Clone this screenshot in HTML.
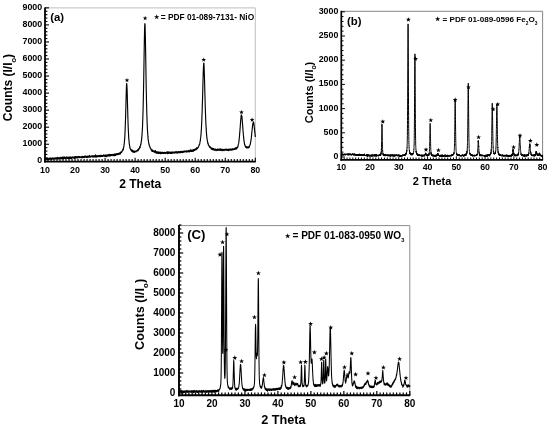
<!DOCTYPE html>
<html><head><meta charset="utf-8"><title>XRD patterns</title>
<style>
html,body{margin:0;padding:0;background:#fff;}
svg{display:block;}
svg text{font-family:"Liberation Sans",Arial,sans-serif;font-weight:bold;fill:#000;}
</style></head><body>
<svg width="550" height="427" viewBox="0 0 550 427">
<rect width="550" height="427" fill="#fff"/>
<line x1="45.00" y1="7.90" x2="255.30" y2="7.90" stroke="#bdbdbd" stroke-width="1"/>
<line x1="255.30" y1="7.90" x2="255.30" y2="161.70" stroke="#bdbdbd" stroke-width="1"/>
<polyline points="45.00,158.29 45.08,158.79 45.15,158.92 45.23,159.65 45.30,159.05 45.38,159.08 45.45,158.97 45.53,159.17 45.60,158.95 45.68,159.11 45.75,159.42 45.83,158.59 45.90,158.58 45.98,158.27 46.05,158.89 46.13,159.06 46.20,159.10 46.28,159.48 46.35,158.52 46.43,159.30 46.50,159.33 46.58,158.96 46.65,158.32 46.73,158.78 46.80,159.25 46.88,159.13 46.95,158.63 47.03,158.92 47.10,159.14 47.18,158.94 47.25,158.57 47.33,158.10 47.40,159.30 47.48,159.07 47.55,159.13 47.63,159.73 47.70,159.17 47.78,159.20 47.85,158.39 47.93,158.86 48.00,159.42 48.08,158.56 48.15,158.93 48.23,159.45 48.30,159.02 48.38,159.01 48.45,159.11 48.53,158.77 48.61,159.62 48.68,158.87 48.76,158.39 48.83,158.44 48.91,158.35 48.98,158.34 49.06,158.20 49.13,159.17 49.21,158.43 49.28,159.44 49.36,158.96 49.43,159.45 49.51,158.34 49.58,158.23 49.66,158.80 49.73,158.05 49.81,158.97 49.88,158.65 49.96,158.65 50.03,159.10 50.11,158.53 50.18,157.97 50.26,159.08 50.33,158.35 50.41,158.74 50.48,158.02 50.56,158.49 50.63,158.42 50.71,158.43 50.78,158.57 50.86,159.18 50.93,158.13 51.01,159.17 51.08,158.56 51.16,158.41 51.23,158.96 51.31,158.58 51.38,158.20 51.46,158.64 51.53,158.96 51.61,159.72 51.68,158.98 51.76,158.84 51.83,158.80 51.91,158.97 51.98,158.46 52.06,158.81 52.14,158.64 52.21,158.34 52.29,158.91 52.36,158.70 52.44,157.77 52.51,158.25 52.59,159.06 52.66,158.60 52.74,158.35 52.81,158.10 52.89,158.50 52.96,158.75 53.04,158.82 53.11,158.30 53.19,158.42 53.26,158.73 53.34,158.60 53.41,158.69 53.49,158.25 53.56,158.78 53.64,158.34 53.71,158.19 53.79,158.33 53.86,158.82 53.94,158.00 54.01,158.75 54.09,158.33 54.16,158.77 54.24,159.14 54.31,158.40 54.39,158.37 54.46,158.50 54.54,158.37 54.61,158.71 54.69,158.74 54.76,158.52 54.84,157.74 54.91,158.15 54.99,158.64 55.06,158.23 55.14,158.62 55.21,158.61 55.29,158.11 55.36,158.63 55.44,159.05 55.52,158.76 55.59,158.38 55.67,158.37 55.74,157.94 55.82,158.67 55.89,158.13 55.97,158.24 56.04,158.45 56.12,158.08 56.19,158.20 56.27,158.71 56.34,157.98 56.42,158.83 56.49,158.35 56.57,158.37 56.64,158.20 56.72,158.63 56.79,158.37 56.87,158.40 56.94,157.97 57.02,158.64 57.09,158.31 57.17,158.43 57.24,158.82 57.32,157.32 57.39,158.35 57.47,158.88 57.54,157.79 57.62,158.71 57.69,158.17 57.77,157.98 57.84,158.54 57.92,158.46 57.99,158.50 58.07,158.34 58.14,158.89 58.22,158.74 58.29,158.33 58.37,157.88 58.44,158.03 58.52,157.62 58.59,158.00 58.67,158.45 58.74,158.30 58.82,159.01 58.89,158.61 58.97,158.63 59.05,158.14 59.12,157.99 59.20,158.44 59.27,158.45 59.35,158.80 59.42,158.27 59.50,158.12 59.57,158.04 59.65,158.50 59.72,157.46 59.80,157.75 59.87,158.23 59.95,158.39 60.02,158.31 60.10,158.13 60.17,158.19 60.25,158.00 60.32,157.88 60.40,157.66 60.47,157.73 60.55,158.20 60.62,158.01 60.70,158.30 60.77,158.37 60.85,157.43 60.92,158.31 61.00,157.39 61.07,158.26 61.15,158.04 61.22,157.72 61.30,158.11 61.37,157.97 61.45,158.20 61.52,158.29 61.60,158.17 61.67,158.35 61.75,157.49 61.82,158.16 61.90,157.44 61.97,159.09 62.05,158.08 62.12,157.87 62.20,158.19 62.27,157.66 62.35,157.83 62.42,158.17 62.50,157.90 62.58,157.00 62.65,157.96 62.73,157.94 62.80,158.21 62.88,157.99 62.95,158.52 63.03,158.11 63.10,157.11 63.18,157.62 63.25,157.78 63.33,157.60 63.40,157.31 63.48,157.79 63.55,157.23 63.63,157.60 63.70,157.94 63.78,157.35 63.85,158.87 63.93,158.20 64.00,157.88 64.08,158.32 64.15,158.03 64.23,158.21 64.30,158.21 64.38,156.95 64.45,157.72 64.53,157.97 64.60,157.46 64.68,158.04 64.75,157.61 64.83,157.81 64.90,157.32 64.98,158.46 65.05,157.64 65.13,157.88 65.20,158.35 65.28,157.52 65.35,158.24 65.43,157.30 65.50,157.71 65.58,157.64 65.65,157.87 65.73,157.55 65.80,158.59 65.88,157.86 65.95,158.12 66.03,157.77 66.11,157.89 66.18,157.64 66.26,158.18 66.33,157.17 66.41,156.99 66.48,157.93 66.56,157.85 66.63,157.74 66.71,157.37 66.78,157.13 66.86,158.29 66.93,158.06 67.01,158.22 67.08,158.24 67.16,158.43 67.23,157.68 67.31,158.24 67.38,157.24 67.46,157.46 67.53,158.18 67.61,158.18 67.68,158.02 67.76,157.26 67.83,158.10 67.91,158.34 67.98,157.79 68.06,157.63 68.13,158.01 68.21,157.16 68.28,157.67 68.36,157.59 68.43,158.07 68.51,157.76 68.58,157.80 68.66,158.59 68.73,157.63 68.81,158.40 68.88,157.74 68.96,158.28 69.03,156.96 69.11,157.59 69.18,157.39 69.26,157.36 69.33,158.20 69.41,158.56 69.48,157.82 69.56,157.36 69.64,157.65 69.71,157.39 69.79,157.33 69.86,158.24 69.94,157.56 70.01,156.93 70.09,157.88 70.16,158.42 70.24,157.74 70.31,157.83 70.39,157.49 70.46,157.98 70.54,157.61 70.61,158.47 70.69,157.31 70.76,157.03 70.84,157.14 70.91,158.19 70.99,157.50 71.06,158.73 71.14,157.50 71.21,157.63 71.29,157.98 71.36,157.47 71.44,157.54 71.51,157.24 71.59,157.54 71.66,157.49 71.74,158.31 71.81,158.01 71.89,157.75 71.96,157.45 72.04,157.56 72.11,157.00 72.19,157.88 72.26,157.64 72.34,157.45 72.41,157.63 72.49,157.35 72.56,157.75 72.64,157.00 72.71,157.65 72.79,157.10 72.86,157.53 72.94,156.96 73.01,158.04 73.09,157.31 73.17,157.67 73.24,157.41 73.32,157.05 73.39,157.92 73.47,157.98 73.54,157.86 73.62,157.38 73.69,158.18 73.77,157.44 73.84,157.95 73.92,157.89 73.99,157.60 74.07,157.31 74.14,157.69 74.22,157.63 74.29,157.46 74.37,157.54 74.44,158.44 74.52,157.59 74.59,157.40 74.67,157.01 74.74,156.65 74.82,157.17 74.89,157.38 74.97,157.77 75.04,157.37 75.12,157.11 75.19,156.92 75.27,157.72 75.34,157.30 75.42,157.08 75.49,156.68 75.57,157.28 75.64,157.58 75.72,157.63 75.79,157.50 75.87,157.60 75.94,157.05 76.02,156.95 76.09,157.08 76.17,156.90 76.24,157.51 76.32,157.19 76.39,157.48 76.47,157.31 76.55,156.87 76.62,157.33 76.70,158.02 76.77,157.41 76.85,157.58 76.92,157.87 77.00,157.60 77.07,156.94 77.15,156.66 77.22,157.47 77.30,156.91 77.37,156.84 77.45,157.71 77.52,157.29 77.60,157.29 77.67,157.20 77.75,157.86 77.82,157.39 77.90,156.86 77.97,156.78 78.05,156.56 78.12,157.37 78.20,156.54 78.27,156.98 78.35,157.74 78.42,156.94 78.50,157.35 78.57,157.02 78.65,157.25 78.72,156.76 78.80,157.11 78.87,157.31 78.95,156.83 79.02,157.10 79.10,157.34 79.17,156.71 79.25,157.33 79.32,157.42 79.40,157.38 79.47,157.72 79.55,157.37 79.62,156.46 79.70,157.50 79.77,157.15 79.85,157.56 79.92,157.37 80.00,156.57 80.08,156.80 80.15,157.36 80.23,157.13 80.30,157.43 80.38,157.41 80.45,157.46 80.53,157.45 80.60,156.99 80.68,156.88 80.75,156.92 80.83,157.16 80.90,157.60 80.98,157.11 81.05,157.43 81.13,156.75 81.20,156.87 81.28,156.79 81.35,157.20 81.43,157.74 81.50,156.70 81.58,156.60 81.65,157.61 81.73,157.00 81.80,156.60 81.88,157.44 81.95,156.37 82.03,157.16 82.10,157.43 82.18,156.51 82.25,156.91 82.33,157.26 82.40,156.68 82.48,157.74 82.55,156.32 82.63,157.31 82.70,156.89 82.78,157.14 82.85,156.82 82.93,156.65 83.00,157.29 83.08,156.68 83.15,157.08 83.23,157.22 83.30,157.05 83.38,157.34 83.45,157.25 83.53,156.59 83.61,157.00 83.68,156.51 83.76,156.78 83.83,157.32 83.91,157.64 83.98,157.18 84.06,156.82 84.13,156.91 84.21,157.23 84.28,156.53 84.36,157.56 84.43,157.37 84.51,156.85 84.58,156.07 84.66,156.73 84.73,157.26 84.81,156.66 84.88,156.62 84.96,156.52 85.03,157.02 85.11,157.16 85.18,156.82 85.26,156.70 85.33,156.25 85.41,156.06 85.48,157.12 85.56,157.04 85.63,156.86 85.71,156.93 85.78,156.65 85.86,156.64 85.93,156.72 86.01,156.31 86.08,156.87 86.16,157.20 86.23,157.39 86.31,157.18 86.38,157.19 86.46,157.50 86.53,156.54 86.61,156.71 86.68,156.94 86.76,157.11 86.83,157.36 86.91,157.11 86.98,156.07 87.06,157.59 87.14,156.70 87.21,156.47 87.29,156.69 87.36,156.86 87.44,156.45 87.51,157.15 87.59,156.52 87.66,156.19 87.74,157.11 87.81,157.02 87.89,156.66 87.96,156.34 88.04,156.20 88.11,156.44 88.19,156.95 88.26,157.11 88.34,156.60 88.41,156.53 88.49,157.09 88.56,156.65 88.64,156.55 88.71,156.27 88.79,157.03 88.86,156.45 88.94,157.09 89.01,156.81 89.09,156.68 89.16,156.07 89.24,155.39 89.31,156.54 89.39,156.44 89.46,156.25 89.54,157.13 89.61,156.33 89.69,157.08 89.76,156.00 89.84,156.06 89.91,156.41 89.99,156.90 90.06,155.97 90.14,156.49 90.21,156.54 90.29,156.36 90.36,157.22 90.44,156.41 90.51,156.19 90.59,156.43 90.67,156.50 90.74,156.91 90.82,156.31 90.89,156.47 90.97,156.54 91.04,156.75 91.12,156.21 91.19,156.06 91.27,156.38 91.34,156.18 91.42,156.02 91.49,155.92 91.57,156.42 91.64,156.58 91.72,156.65 91.79,156.49 91.87,156.28 91.94,156.13 92.02,156.64 92.09,156.42 92.17,156.85 92.24,155.99 92.32,156.61 92.39,156.33 92.47,156.73 92.54,156.56 92.62,156.70 92.69,155.80 92.77,156.30 92.84,156.50 92.92,156.79 92.99,156.65 93.07,156.21 93.14,155.79 93.22,156.95 93.29,156.75 93.37,156.47 93.44,156.64 93.52,157.02 93.59,156.38 93.67,156.10 93.74,156.97 93.82,156.30 93.89,156.01 93.97,156.00 94.04,156.52 94.12,155.50 94.20,156.15 94.27,156.66 94.35,155.98 94.42,156.76 94.50,156.00 94.57,156.81 94.65,156.03 94.72,156.54 94.80,155.90 94.87,156.04 94.95,156.14 95.02,156.29 95.10,155.90 95.17,156.98 95.25,156.13 95.32,156.14 95.40,156.08 95.47,155.97 95.55,154.89 95.62,156.23 95.70,155.97 95.77,156.21 95.85,155.67 95.92,157.01 96.00,155.61 96.07,156.50 96.15,157.09 96.22,156.64 96.30,156.30 96.37,156.16 96.45,156.24 96.52,155.91 96.60,156.23 96.67,156.23 96.75,157.01 96.82,156.02 96.90,155.82 96.97,156.35 97.05,156.89 97.12,156.68 97.20,155.55 97.27,156.40 97.35,156.42 97.42,156.47 97.50,155.91 97.58,156.38 97.65,156.48 97.73,156.71 97.80,156.18 97.88,155.76 97.95,156.19 98.03,155.80 98.10,156.06 98.18,156.06 98.25,156.05 98.33,156.10 98.40,155.72 98.48,155.92 98.55,156.31 98.63,156.04 98.70,156.12 98.78,155.90 98.85,156.01 98.93,155.92 99.00,156.62 99.08,155.92 99.15,155.57 99.23,156.56 99.30,155.45 99.38,155.93 99.45,156.12 99.53,156.71 99.60,155.62 99.68,156.39 99.75,156.21 99.83,155.81 99.90,156.40 99.98,156.38 100.05,156.44 100.13,156.04 100.20,155.77 100.28,155.84 100.35,155.83 100.43,156.11 100.50,155.92 100.58,156.23 100.65,155.22 100.73,155.89 100.80,156.69 100.88,156.35 100.95,155.35 101.03,156.45 101.11,156.10 101.18,155.78 101.26,156.34 101.33,155.52 101.41,155.29 101.48,156.22 101.56,155.48 101.63,156.24 101.71,156.27 101.78,155.80 101.86,155.80 101.93,156.11 102.01,155.56 102.08,156.43 102.16,156.19 102.23,156.27 102.31,155.57 102.38,155.55 102.46,155.60 102.53,156.33 102.61,155.79 102.68,155.66 102.76,156.44 102.83,156.13 102.91,155.58 102.98,155.55 103.06,155.71 103.13,155.60 103.21,155.68 103.28,155.74 103.36,155.83 103.43,156.11 103.51,155.87 103.58,155.92 103.66,154.90 103.73,155.67 103.81,155.76 103.88,155.84 103.96,155.79 104.03,155.84 104.11,155.53 104.18,155.74 104.26,155.42 104.33,155.98 104.41,155.59 104.48,155.38 104.56,156.14 104.64,155.64 104.71,155.60 104.79,155.82 104.86,155.87 104.94,156.38 105.01,155.24 105.09,156.02 105.16,156.13 105.24,155.41 105.31,156.34 105.39,155.29 105.46,155.48 105.54,155.41 105.61,155.69 105.69,156.08 105.76,156.33 105.84,155.07 105.91,155.79 105.99,155.80 106.06,155.00 106.14,155.83 106.21,155.68 106.29,155.67 106.36,155.63 106.44,155.96 106.51,155.77 106.59,155.08 106.66,155.27 106.74,156.66 106.81,156.28 106.89,155.41 106.96,155.57 107.04,155.66 107.11,155.13 107.19,156.18 107.26,155.06 107.34,155.45 107.41,155.29 107.49,155.39 107.56,155.17 107.64,155.57 107.71,155.67 107.79,155.17 107.86,155.39 107.94,155.92 108.01,154.94 108.09,154.99 108.17,154.89 108.24,155.40 108.32,155.29 108.39,155.56 108.47,155.77 108.54,155.38 108.62,155.33 108.69,155.64 108.77,154.70 108.84,155.98 108.92,155.68 108.99,155.62 109.07,154.87 109.14,155.45 109.22,155.47 109.29,155.67 109.37,155.62 109.44,155.81 109.52,154.94 109.59,155.08 109.67,154.93 109.74,155.55 109.82,154.35 109.89,155.65 109.97,156.05 110.04,155.38 110.12,155.21 110.19,154.97 110.27,155.63 110.34,155.02 110.42,154.60 110.49,155.55 110.57,155.50 110.64,155.85 110.72,155.12 110.79,154.88 110.87,154.91 110.94,154.87 111.02,154.65 111.09,155.12 111.17,154.81 111.24,155.51 111.32,155.44 111.39,155.05 111.47,155.44 111.54,154.91 111.62,154.60 111.70,154.96 111.77,155.38 111.85,155.37 111.92,154.57 112.00,155.38 112.07,155.04 112.15,155.16 112.22,155.03 112.30,154.63 112.37,155.24 112.45,155.56 112.52,154.47 112.60,154.93 112.67,154.73 112.75,155.00 112.82,154.69 112.90,154.50 112.97,154.45 113.05,155.06 113.12,155.08 113.20,154.79 113.27,154.85 113.35,154.71 113.42,155.18 113.50,155.77 113.57,154.72 113.65,154.59 113.72,154.63 113.80,154.24 113.87,154.53 113.95,154.99 114.02,154.46 114.10,154.85 114.17,154.34 114.25,154.71 114.32,154.62 114.40,154.69 114.47,154.75 114.55,155.32 114.62,154.72 114.70,155.59 114.77,154.54 114.85,154.34 114.92,153.93 115.00,154.55 115.07,154.94 115.15,155.26 115.23,153.92 115.30,155.17 115.38,154.29 115.45,155.48 115.53,154.62 115.60,154.33 115.68,154.45 115.75,154.58 115.83,154.86 115.90,154.87 115.98,154.14 116.05,154.34 116.13,154.55 116.20,154.40 116.28,154.81 116.35,154.06 116.43,153.96 116.50,154.71 116.58,154.36 116.65,153.99 116.73,154.61 116.80,153.59 116.88,153.77 116.95,154.42 117.03,153.94 117.10,153.66 117.18,154.73 117.25,154.02 117.33,154.29 117.40,154.29 117.48,153.93 117.55,154.35 117.63,154.68 117.70,154.67 117.78,154.12 117.85,153.86 117.93,154.08 118.00,154.11 118.08,154.04 118.15,153.52 118.23,153.78 118.30,154.24 118.38,154.04 118.45,153.46 118.53,154.10 118.61,154.01 118.68,153.84 118.76,154.20 118.83,153.44 118.91,154.57 118.98,153.18 119.06,153.85 119.13,154.13 119.21,153.52 119.28,154.24 119.36,153.37 119.43,153.24 119.51,153.72 119.58,153.61 119.66,153.07 119.73,153.64 119.81,153.35 119.88,153.18 119.96,152.69 120.03,153.42 120.11,153.18 120.18,152.72 120.26,154.06 120.33,153.16 120.41,153.73 120.48,153.65 120.56,152.18 120.63,152.78 120.71,152.25 120.78,152.84 120.86,152.49 120.93,152.79 121.01,152.77 121.08,152.53 121.16,152.39 121.23,151.80 121.31,152.37 121.38,152.08 121.46,152.25 121.53,152.02 121.61,152.48 121.68,151.50 121.76,152.01 121.83,151.71 121.91,151.71 121.98,151.16 122.06,151.23 122.14,151.31 122.21,151.14 122.29,150.95 122.36,150.68 122.44,150.64 122.51,150.21 122.59,149.94 122.66,150.17 122.74,150.74 122.81,149.42 122.89,149.09 122.96,149.85 123.04,149.67 123.11,150.08 123.19,148.80 123.26,149.23 123.34,147.92 123.41,149.26 123.49,148.02 123.56,147.48 123.64,147.56 123.71,147.35 123.79,146.57 123.86,146.44 123.94,145.91 124.01,145.30 124.09,144.96 124.16,144.25 124.24,143.23 124.31,142.97 124.39,142.00 124.46,141.52 124.54,139.98 124.61,139.82 124.69,137.90 124.76,138.23 124.84,136.16 124.91,135.04 124.99,132.57 125.06,131.24 125.14,130.11 125.21,127.98 125.29,125.28 125.36,123.69 125.44,121.21 125.51,119.62 125.59,117.13 125.67,113.75 125.74,110.39 125.82,108.67 125.89,105.39 125.97,103.09 126.04,99.40 126.12,97.22 126.19,94.50 126.27,92.50 126.34,89.63 126.42,87.39 126.49,85.29 126.57,85.02 126.64,83.45 126.72,83.69 126.79,83.91 126.87,84.91 126.94,86.40 127.02,87.85 127.09,88.79 127.17,92.14 127.24,94.39 127.32,96.51 127.39,100.52 127.47,102.42 127.54,105.64 127.62,108.21 127.69,110.73 127.77,113.80 127.84,116.40 127.92,118.53 127.99,120.92 128.07,123.66 128.14,125.55 128.22,127.95 128.29,128.80 128.37,131.45 128.44,132.52 128.52,133.41 128.59,135.12 128.67,136.78 128.74,138.10 128.82,139.12 128.89,139.51 128.97,140.62 129.04,141.56 129.12,141.33 129.20,143.30 129.27,143.79 129.35,144.31 129.42,144.61 129.50,145.06 129.57,145.71 129.65,145.73 129.72,146.18 129.80,146.83 129.87,147.96 129.95,147.03 130.02,147.95 130.10,148.09 130.17,148.14 130.25,148.77 130.32,148.81 130.40,148.67 130.47,149.01 130.55,148.93 130.62,149.53 130.70,149.44 130.77,149.89 130.85,149.73 130.92,149.64 131.00,149.96 131.07,150.51 131.15,150.15 131.22,150.12 131.30,149.85 131.37,150.37 131.45,150.60 131.52,150.96 131.60,149.85 131.67,151.02 131.75,151.16 131.82,150.85 131.90,151.54 131.97,150.51 132.05,150.90 132.12,150.84 132.20,151.43 132.27,151.30 132.35,150.83 132.42,150.86 132.50,150.17 132.57,150.86 132.65,152.01 132.73,151.30 132.80,151.50 132.88,150.98 132.95,151.45 133.03,151.25 133.10,151.58 133.18,151.25 133.25,150.95 133.33,151.75 133.40,152.30 133.48,151.93 133.55,150.97 133.63,151.49 133.70,151.69 133.78,151.95 133.85,151.20 133.93,151.49 134.00,151.65 134.08,151.81 134.15,151.67 134.23,151.73 134.30,151.40 134.38,151.14 134.45,152.35 134.53,152.15 134.60,151.64 134.68,151.57 134.75,152.17 134.83,151.82 134.90,151.73 134.98,151.73 135.05,151.73 135.13,151.57 135.20,151.20 135.28,151.24 135.35,151.28 135.43,151.38 135.50,151.73 135.58,151.63 135.65,151.16 135.73,151.36 135.80,151.08 135.88,151.26 135.95,151.31 136.03,151.14 136.10,151.86 136.18,151.31 136.26,151.44 136.33,150.87 136.41,151.41 136.48,151.04 136.56,151.25 136.63,150.88 136.71,150.75 136.78,151.06 136.86,150.90 136.93,150.83 137.01,150.56 137.08,150.93 137.16,150.74 137.23,150.87 137.31,151.02 137.38,150.54 137.46,150.39 137.53,150.80 137.61,149.85 137.68,150.66 137.76,150.04 137.83,150.11 137.91,150.82 137.98,150.12 138.06,150.63 138.13,150.01 138.21,149.64 138.28,149.12 138.36,149.43 138.43,150.21 138.51,149.68 138.58,148.90 138.66,149.30 138.73,148.60 138.81,149.43 138.88,149.26 138.96,149.45 139.03,148.97 139.11,148.24 139.18,148.93 139.26,148.14 139.33,148.15 139.41,147.88 139.48,148.13 139.56,147.88 139.64,146.92 139.71,148.03 139.79,147.11 139.86,146.64 139.94,146.86 140.01,146.21 140.09,147.75 140.16,146.54 140.24,146.64 140.31,146.13 140.39,145.77 140.46,145.29 140.54,145.52 140.61,144.59 140.69,145.22 140.76,143.95 140.84,144.08 140.91,144.30 140.99,143.93 141.06,143.55 141.14,142.84 141.21,141.98 141.29,141.05 141.36,140.75 141.44,141.01 141.51,140.80 141.59,139.43 141.66,139.18 141.74,138.00 141.81,137.42 141.89,135.36 141.96,136.08 142.04,134.34 142.11,132.71 142.19,132.43 142.26,131.34 142.34,129.09 142.41,129.08 142.49,127.38 142.56,125.52 142.64,123.11 142.71,121.02 142.79,119.26 142.86,116.15 142.94,114.63 143.01,111.97 143.09,109.33 143.17,105.81 143.24,103.14 143.32,99.98 143.39,95.69 143.47,92.15 143.54,88.38 143.62,85.19 143.69,80.90 143.77,76.22 143.84,71.72 143.92,67.19 143.99,62.44 144.07,57.41 144.14,53.36 144.22,48.30 144.29,44.11 144.37,39.93 144.44,35.97 144.52,32.10 144.59,29.27 144.67,27.24 144.74,25.03 144.82,24.00 144.89,23.53 144.97,24.15 145.04,24.77 145.12,26.79 145.19,29.79 145.27,32.84 145.34,36.37 145.42,39.57 145.49,44.18 145.57,48.48 145.64,52.96 145.72,57.14 145.79,61.48 145.87,67.01 145.94,70.82 146.02,75.86 146.09,79.98 146.17,84.75 146.24,89.16 146.32,92.38 146.39,95.77 146.47,100.34 146.54,103.09 146.62,106.10 146.70,108.90 146.77,112.29 146.85,114.67 146.92,116.52 147.00,118.44 147.07,121.17 147.15,122.79 147.22,124.90 147.30,126.47 147.37,128.33 147.45,129.70 147.52,131.16 147.60,132.13 147.67,132.89 147.75,134.28 147.82,135.08 147.90,136.46 147.97,136.78 148.05,139.01 148.12,139.08 148.20,139.33 148.27,140.51 148.35,140.19 148.42,140.86 148.50,141.79 148.57,141.88 148.65,142.92 148.72,143.11 148.80,143.31 148.87,144.14 148.95,143.48 149.02,144.46 149.10,144.13 149.17,144.87 149.25,144.98 149.32,145.71 149.40,145.74 149.47,146.02 149.55,146.01 149.62,145.80 149.70,146.74 149.77,146.79 149.85,146.79 149.92,146.79 150.00,147.33 150.07,147.61 150.15,147.85 150.23,147.78 150.30,147.84 150.38,148.34 150.45,148.34 150.53,148.07 150.60,148.50 150.68,148.83 150.75,148.47 150.83,148.58 150.90,148.73 150.98,148.82 151.05,149.33 151.13,149.20 151.20,149.26 151.28,149.43 151.35,150.22 151.43,149.66 151.50,149.61 151.58,149.63 151.65,150.01 151.73,149.97 151.80,150.73 151.88,150.69 151.95,151.31 152.03,150.35 152.10,149.72 152.18,149.74 152.25,150.88 152.33,150.28 152.40,150.11 152.48,150.75 152.55,151.43 152.63,150.21 152.70,150.93 152.78,151.00 152.85,150.26 152.93,150.77 153.00,150.68 153.08,150.44 153.15,151.14 153.23,151.49 153.30,150.87 153.38,151.21 153.45,150.97 153.53,151.13 153.60,151.60 153.68,151.34 153.76,151.52 153.83,151.51 153.91,151.47 153.98,151.36 154.06,151.44 154.13,152.03 154.21,151.35 154.28,152.15 154.36,150.81 154.43,151.96 154.51,151.72 154.58,151.22 154.66,151.83 154.73,152.26 154.81,152.34 154.88,151.72 154.96,151.70 155.03,151.57 155.11,151.80 155.18,152.10 155.26,151.77 155.33,151.43 155.41,152.29 155.48,150.67 155.56,152.19 155.63,151.58 155.71,151.36 155.78,151.74 155.86,151.99 155.93,151.85 156.01,151.64 156.08,153.15 156.16,152.00 156.23,152.35 156.31,152.47 156.38,152.18 156.46,152.17 156.53,152.07 156.61,152.49 156.68,151.87 156.76,153.09 156.83,152.68 156.91,152.79 156.98,152.31 157.06,152.55 157.13,152.18 157.21,152.69 157.29,151.92 157.36,152.14 157.44,152.62 157.51,153.08 157.59,152.90 157.66,153.05 157.74,152.01 157.81,152.20 157.89,152.97 157.96,151.80 158.04,152.63 158.11,153.37 158.19,152.13 158.26,152.06 158.34,152.55 158.41,152.90 158.49,152.11 158.56,152.77 158.64,152.60 158.71,152.42 158.79,152.49 158.86,152.79 158.94,153.01 159.01,152.35 159.09,153.47 159.16,152.52 159.24,152.55 159.31,152.46 159.39,152.80 159.46,152.59 159.54,152.38 159.61,153.07 159.69,152.67 159.76,152.55 159.84,153.17 159.91,153.06 159.99,152.12 160.06,152.33 160.14,153.00 160.21,152.45 160.29,152.58 160.36,152.21 160.44,152.31 160.51,153.66 160.59,152.86 160.67,152.24 160.74,152.14 160.82,152.99 160.89,153.23 160.97,152.67 161.04,153.02 161.12,152.78 161.19,153.22 161.27,152.50 161.34,152.57 161.42,152.62 161.49,153.21 161.57,153.43 161.64,153.28 161.72,152.62 161.79,153.48 161.87,152.56 161.94,152.15 162.02,153.05 162.09,152.89 162.17,152.45 162.24,152.48 162.32,153.06 162.39,152.89 162.47,152.78 162.54,152.93 162.62,152.61 162.69,152.71 162.77,152.34 162.84,153.48 162.92,152.39 162.99,152.53 163.07,152.89 163.14,152.68 163.22,152.47 163.29,152.73 163.37,152.93 163.44,152.74 163.52,153.10 163.59,153.34 163.67,153.17 163.74,153.13 163.82,152.77 163.89,152.55 163.97,152.75 164.04,152.30 164.12,152.88 164.20,153.09 164.27,153.12 164.35,153.18 164.42,152.96 164.50,152.33 164.57,153.40 164.65,152.64 164.72,152.85 164.80,152.53 164.87,153.02 164.95,152.57 165.02,153.02 165.10,152.60 165.17,153.57 165.25,152.65 165.32,152.55 165.40,153.43 165.47,152.51 165.55,153.25 165.62,152.46 165.70,152.83 165.77,152.57 165.85,152.68 165.92,153.27 166.00,152.24 166.07,152.36 166.15,153.20 166.22,152.60 166.30,152.64 166.37,153.06 166.45,153.20 166.52,152.33 166.60,152.95 166.67,152.46 166.75,152.09 166.82,152.62 166.90,153.13 166.97,152.43 167.05,153.31 167.12,153.13 167.20,151.69 167.27,153.09 167.35,152.65 167.42,153.18 167.50,152.83 167.57,152.71 167.65,153.77 167.73,153.02 167.80,152.53 167.88,152.45 167.95,152.64 168.03,153.12 168.10,152.62 168.18,152.95 168.25,153.05 168.33,152.76 168.40,151.90 168.48,153.09 168.55,152.36 168.63,152.66 168.70,153.31 168.78,153.09 168.85,152.81 168.93,152.92 169.00,152.64 169.08,153.11 169.15,153.11 169.23,152.35 169.30,152.74 169.38,153.04 169.45,152.72 169.53,152.03 169.60,152.93 169.68,153.27 169.75,152.36 169.83,151.97 169.90,152.23 169.98,153.19 170.05,153.47 170.13,152.22 170.20,152.76 170.28,152.50 170.35,152.76 170.43,152.05 170.50,152.65 170.58,152.80 170.65,152.62 170.73,153.12 170.80,152.61 170.88,152.70 170.95,153.46 171.03,153.09 171.10,153.13 171.18,153.24 171.26,152.52 171.33,152.23 171.41,152.52 171.48,153.20 171.56,153.31 171.63,152.34 171.71,152.75 171.78,152.67 171.86,153.11 171.93,153.38 172.01,151.79 172.08,152.84 172.16,152.68 172.23,153.04 172.31,152.03 172.38,152.73 172.46,152.66 172.53,152.58 172.61,152.59 172.68,152.05 172.76,153.26 172.83,152.34 172.91,152.81 172.98,152.72 173.06,152.80 173.13,152.40 173.21,153.04 173.28,152.75 173.36,152.34 173.43,152.76 173.51,152.72 173.58,152.39 173.66,152.50 173.73,152.65 173.81,152.50 173.88,152.85 173.96,152.19 174.03,152.92 174.11,153.10 174.18,152.34 174.26,152.99 174.33,152.85 174.41,152.56 174.48,152.21 174.56,152.65 174.63,152.64 174.71,152.63 174.79,152.32 174.86,152.65 174.94,152.36 175.01,151.94 175.09,152.53 175.16,152.58 175.24,152.78 175.31,152.71 175.39,152.89 175.46,152.83 175.54,152.63 175.61,152.28 175.69,152.22 175.76,152.56 175.84,152.27 175.91,152.88 175.99,151.61 176.06,151.45 176.14,152.42 176.21,152.18 176.29,152.32 176.36,152.06 176.44,152.59 176.51,152.91 176.59,152.04 176.66,152.74 176.74,152.20 176.81,152.67 176.89,152.61 176.96,151.94 177.04,151.70 177.11,152.36 177.19,152.45 177.26,152.18 177.34,152.49 177.41,152.93 177.49,152.28 177.56,153.10 177.64,152.10 177.71,152.44 177.79,152.18 177.86,152.79 177.94,152.52 178.01,152.02 178.09,151.72 178.16,151.91 178.24,152.07 178.32,152.63 178.39,151.99 178.47,152.15 178.54,152.31 178.62,151.70 178.69,152.47 178.77,151.51 178.84,152.41 178.92,152.42 178.99,152.19 179.07,152.64 179.14,152.32 179.22,152.11 179.29,152.77 179.37,152.44 179.44,152.64 179.52,152.28 179.59,151.68 179.67,152.27 179.74,152.17 179.82,152.01 179.89,152.50 179.97,151.99 180.04,152.27 180.12,152.31 180.19,152.70 180.27,152.29 180.34,151.66 180.42,151.59 180.49,152.15 180.57,152.00 180.64,152.18 180.72,152.43 180.79,152.69 180.87,151.37 180.94,152.37 181.02,151.91 181.09,151.40 181.17,152.12 181.24,152.03 181.32,151.86 181.39,152.09 181.47,151.85 181.54,152.07 181.62,151.51 181.70,151.74 181.77,152.36 181.85,152.41 181.92,152.14 182.00,152.13 182.07,152.17 182.15,151.54 182.22,152.15 182.30,152.04 182.37,151.81 182.45,152.60 182.52,151.69 182.60,151.62 182.67,151.31 182.75,152.19 182.82,151.99 182.90,151.73 182.97,151.95 183.05,152.34 183.12,151.45 183.20,151.89 183.27,151.65 183.35,152.17 183.42,151.40 183.50,151.89 183.57,152.02 183.65,151.45 183.72,151.32 183.80,152.08 183.87,151.35 183.95,151.11 184.02,151.61 184.10,152.23 184.17,151.48 184.25,151.29 184.32,152.06 184.40,151.04 184.47,151.74 184.55,151.70 184.62,151.24 184.70,151.56 184.77,151.17 184.85,151.63 184.92,151.47 185.00,151.60 185.07,151.51 185.15,151.38 185.23,151.41 185.30,151.70 185.38,151.22 185.45,151.60 185.53,151.11 185.60,151.32 185.68,151.58 185.75,151.81 185.83,151.51 185.90,151.00 185.98,151.44 186.05,151.14 186.13,151.53 186.20,151.61 186.28,151.74 186.35,152.20 186.43,151.35 186.50,151.45 186.58,151.47 186.65,151.15 186.73,151.80 186.80,150.79 186.88,151.97 186.95,151.32 187.03,151.85 187.10,151.50 187.18,150.95 187.25,151.94 187.33,151.30 187.40,151.32 187.48,151.29 187.55,151.25 187.63,151.04 187.70,151.14 187.78,151.18 187.85,150.98 187.93,151.05 188.00,151.34 188.08,151.74 188.15,150.98 188.23,151.39 188.30,150.64 188.38,151.46 188.45,151.69 188.53,150.80 188.60,151.50 188.68,151.77 188.76,150.76 188.83,151.73 188.91,150.68 188.98,151.53 189.06,151.01 189.13,151.06 189.21,151.82 189.28,151.13 189.36,151.27 189.43,151.06 189.51,150.90 189.58,150.49 189.66,151.16 189.73,151.10 189.81,150.24 189.88,150.77 189.96,150.74 190.03,151.59 190.11,151.53 190.18,151.20 190.26,151.05 190.33,150.78 190.41,149.93 190.48,151.41 190.56,151.08 190.63,150.68 190.71,150.80 190.78,150.47 190.86,150.99 190.93,151.20 191.01,150.07 191.08,150.67 191.16,151.27 191.23,150.94 191.31,150.82 191.38,151.34 191.46,150.48 191.53,150.70 191.61,150.88 191.68,150.97 191.76,150.09 191.83,150.72 191.91,150.97 191.98,151.43 192.06,151.04 192.13,150.37 192.21,150.05 192.29,151.03 192.36,151.35 192.44,150.55 192.51,150.56 192.59,150.20 192.66,150.77 192.74,150.45 192.81,151.16 192.89,150.91 192.96,150.63 193.04,150.57 193.11,150.19 193.19,149.91 193.26,150.88 193.34,149.69 193.41,150.58 193.49,150.44 193.56,149.83 193.64,151.13 193.71,150.75 193.79,150.49 193.86,150.13 193.94,149.72 194.01,149.69 194.09,150.42 194.16,149.77 194.24,150.18 194.31,149.44 194.39,150.07 194.46,149.54 194.54,150.29 194.61,149.58 194.69,150.36 194.76,149.77 194.84,150.39 194.91,149.80 194.99,150.01 195.06,150.04 195.14,149.55 195.21,149.31 195.29,149.52 195.36,149.41 195.44,149.22 195.51,148.99 195.59,149.03 195.66,149.21 195.74,148.57 195.82,149.47 195.89,148.93 195.97,149.62 196.04,148.24 196.12,149.18 196.19,148.98 196.27,148.47 196.34,149.01 196.42,149.20 196.49,149.53 196.57,148.87 196.64,147.95 196.72,148.59 196.79,147.94 196.87,148.22 196.94,148.63 197.02,148.93 197.09,148.40 197.17,148.02 197.24,148.26 197.32,148.04 197.39,147.81 197.47,148.08 197.54,148.41 197.62,147.90 197.69,147.47 197.77,147.91 197.84,147.90 197.92,147.78 197.99,147.39 198.07,147.24 198.14,147.11 198.22,147.45 198.29,146.84 198.37,146.97 198.44,146.96 198.52,147.17 198.59,146.75 198.67,146.42 198.74,145.99 198.82,145.73 198.89,145.71 198.97,145.47 199.04,145.80 199.12,144.89 199.19,144.69 199.27,144.53 199.35,144.76 199.42,144.38 199.50,144.28 199.57,144.35 199.65,143.72 199.72,143.89 199.80,143.68 199.87,142.49 199.95,142.16 200.02,141.70 200.10,141.80 200.17,141.22 200.25,140.60 200.32,140.48 200.40,140.61 200.47,138.48 200.55,138.29 200.62,137.68 200.70,137.46 200.77,137.10 200.85,136.02 200.92,135.14 201.00,134.91 201.07,133.65 201.15,132.27 201.22,130.86 201.30,130.07 201.37,129.24 201.45,128.28 201.52,125.66 201.60,124.91 201.67,123.12 201.75,121.74 201.82,120.50 201.90,117.34 201.97,115.95 202.05,113.69 202.12,112.28 202.20,109.74 202.27,106.85 202.35,105.04 202.42,102.63 202.50,100.14 202.57,97.52 202.65,93.93 202.73,91.44 202.80,89.25 202.88,85.14 202.95,82.40 203.03,79.66 203.10,78.08 203.18,74.77 203.25,71.91 203.33,70.57 203.40,68.52 203.48,66.63 203.55,65.95 203.63,64.13 203.70,63.23 203.78,63.15 203.85,63.03 203.93,64.16 204.00,65.19 204.08,66.59 204.15,68.45 204.23,70.55 204.30,72.63 204.38,74.79 204.45,77.54 204.53,79.99 204.60,82.78 204.68,85.40 204.75,88.68 204.83,92.11 204.90,94.51 204.98,96.19 205.05,99.33 205.13,102.39 205.20,104.86 205.28,107.27 205.35,109.77 205.43,111.77 205.50,113.74 205.58,115.59 205.65,118.13 205.73,119.94 205.80,121.70 205.88,123.21 205.95,124.37 206.03,126.51 206.10,126.77 206.18,128.67 206.26,129.66 206.33,131.54 206.41,132.39 206.48,133.43 206.56,134.13 206.63,135.76 206.71,135.60 206.78,137.16 206.86,137.08 206.93,137.48 207.01,138.48 207.08,139.08 207.16,139.60 207.23,140.10 207.31,140.37 207.38,140.55 207.46,141.05 207.53,141.09 207.61,141.97 207.68,142.52 207.76,142.81 207.83,143.39 207.91,143.34 207.98,143.68 208.06,143.03 208.13,143.73 208.21,143.47 208.28,145.07 208.36,144.44 208.43,144.35 208.51,144.80 208.58,145.26 208.66,145.19 208.73,145.37 208.81,145.51 208.88,145.60 208.96,145.48 209.03,145.88 209.11,145.99 209.18,146.21 209.26,146.16 209.33,146.71 209.41,146.33 209.48,146.77 209.56,146.43 209.63,147.07 209.71,146.96 209.79,147.09 209.86,147.49 209.94,146.80 210.01,147.14 210.09,147.34 210.16,146.97 210.24,147.62 210.31,147.58 210.39,147.22 210.46,146.79 210.54,147.73 210.61,147.22 210.69,147.82 210.76,148.24 210.84,147.81 210.91,147.59 210.99,148.03 211.06,147.98 211.14,148.61 211.21,149.10 211.29,148.21 211.36,148.89 211.44,148.43 211.51,148.70 211.59,148.44 211.66,148.22 211.74,149.21 211.81,148.68 211.89,148.72 211.96,148.20 212.04,148.71 212.11,149.08 212.19,149.02 212.26,148.17 212.34,149.20 212.41,148.88 212.49,148.83 212.56,149.38 212.64,149.29 212.71,149.75 212.79,149.37 212.86,148.81 212.94,149.00 213.01,149.81 213.09,148.59 213.16,149.65 213.24,149.53 213.32,148.60 213.39,149.04 213.47,149.26 213.54,148.70 213.62,149.30 213.69,149.16 213.77,149.52 213.84,149.37 213.92,149.37 213.99,148.95 214.07,149.61 214.14,149.47 214.22,150.22 214.29,150.07 214.37,149.18 214.44,149.60 214.52,149.60 214.59,149.26 214.67,149.62 214.74,149.48 214.82,149.63 214.89,150.29 214.97,149.32 215.04,149.01 215.12,149.14 215.19,149.57 215.27,149.50 215.34,149.47 215.42,149.06 215.49,149.19 215.57,149.77 215.64,149.71 215.72,149.74 215.79,149.89 215.87,149.92 215.94,149.75 216.02,150.61 216.09,149.58 216.17,149.90 216.24,150.19 216.32,149.82 216.39,150.03 216.47,149.31 216.54,150.18 216.62,149.75 216.69,149.66 216.77,150.10 216.85,150.26 216.92,149.66 217.00,149.96 217.07,150.16 217.15,150.36 217.22,149.60 217.30,149.27 217.37,150.03 217.45,149.64 217.52,149.44 217.60,149.48 217.67,150.07 217.75,149.66 217.82,149.60 217.90,148.92 217.97,149.78 218.05,149.48 218.12,149.56 218.20,149.62 218.27,150.23 218.35,149.76 218.42,149.32 218.50,150.01 218.57,149.78 218.65,150.16 218.72,149.78 218.80,149.75 218.87,149.62 218.95,150.02 219.02,150.04 219.10,150.09 219.17,149.79 219.25,149.82 219.32,149.07 219.40,150.12 219.47,149.64 219.55,150.10 219.62,150.07 219.70,149.51 219.77,149.75 219.85,149.71 219.92,150.39 220.00,148.96 220.07,149.15 220.15,150.17 220.22,150.40 220.30,150.17 220.38,149.82 220.45,150.25 220.53,149.81 220.60,150.15 220.68,148.91 220.75,150.00 220.83,150.08 220.90,149.19 220.98,149.80 221.05,149.91 221.13,149.93 221.20,149.71 221.28,150.07 221.35,149.88 221.43,150.12 221.50,150.41 221.58,150.04 221.65,149.86 221.73,149.34 221.80,149.84 221.88,150.04 221.95,149.87 222.03,149.70 222.10,150.74 222.18,150.07 222.25,150.70 222.33,150.55 222.40,150.18 222.48,149.96 222.55,149.90 222.63,149.87 222.70,149.43 222.78,149.75 222.85,149.77 222.93,150.02 223.00,149.20 223.08,149.43 223.15,150.11 223.23,150.11 223.30,149.62 223.38,149.54 223.45,150.01 223.53,149.49 223.60,150.32 223.68,149.95 223.76,149.52 223.83,150.09 223.91,149.83 223.98,149.89 224.06,149.97 224.13,150.56 224.21,149.99 224.28,149.81 224.36,149.80 224.43,149.59 224.51,149.53 224.58,149.99 224.66,149.94 224.73,149.25 224.81,149.53 224.88,149.84 224.96,149.93 225.03,149.46 225.11,149.45 225.18,149.87 225.26,149.67 225.33,149.82 225.41,149.84 225.48,149.15 225.56,150.29 225.63,149.55 225.71,150.20 225.78,150.07 225.86,149.51 225.93,150.29 226.01,150.15 226.08,150.22 226.16,150.02 226.23,149.69 226.31,149.38 226.38,150.04 226.46,149.46 226.53,150.24 226.61,149.01 226.68,149.95 226.76,149.97 226.83,149.69 226.91,149.75 226.98,149.85 227.06,150.40 227.13,149.47 227.21,149.52 227.29,149.92 227.36,150.20 227.44,149.68 227.51,149.36 227.59,150.40 227.66,150.17 227.74,149.73 227.81,150.05 227.89,149.88 227.96,149.79 228.04,149.46 228.11,149.46 228.19,149.38 228.26,149.40 228.34,149.96 228.41,150.60 228.49,149.60 228.56,149.55 228.64,149.55 228.71,149.95 228.79,149.00 228.86,150.31 228.94,149.39 229.01,149.46 229.09,149.34 229.16,149.16 229.24,149.49 229.31,149.54 229.39,149.76 229.46,149.37 229.54,149.50 229.61,149.35 229.69,150.05 229.76,150.19 229.84,149.60 229.91,149.43 229.99,150.17 230.06,149.98 230.14,149.73 230.21,149.49 230.29,149.47 230.36,149.22 230.44,149.63 230.51,149.41 230.59,149.09 230.66,149.65 230.74,148.72 230.82,149.67 230.89,149.48 230.97,150.21 231.04,149.55 231.12,149.70 231.19,149.73 231.27,149.39 231.34,149.89 231.42,149.39 231.49,150.20 231.57,149.64 231.64,148.96 231.72,149.40 231.79,149.21 231.87,149.76 231.94,149.90 232.02,148.90 232.09,149.03 232.17,149.08 232.24,149.38 232.32,148.94 232.39,149.51 232.47,149.10 232.54,149.10 232.62,149.66 232.69,148.80 232.77,149.26 232.84,149.00 232.92,149.83 232.99,149.71 233.07,149.42 233.14,149.06 233.22,148.81 233.29,149.09 233.37,149.26 233.44,148.99 233.52,149.27 233.59,149.11 233.67,149.01 233.74,149.39 233.82,148.98 233.89,149.64 233.97,149.40 234.04,148.84 234.12,149.30 234.19,148.87 234.27,148.95 234.35,149.09 234.42,148.45 234.50,148.81 234.57,149.18 234.65,149.13 234.72,148.88 234.80,149.45 234.87,148.46 234.95,148.89 235.02,149.47 235.10,149.18 235.17,148.28 235.25,148.69 235.32,147.95 235.40,148.71 235.47,148.52 235.55,147.95 235.62,147.86 235.70,148.95 235.77,148.26 235.85,148.93 235.92,148.68 236.00,149.12 236.07,148.23 236.15,148.78 236.22,148.65 236.30,147.62 236.37,147.95 236.45,148.29 236.52,148.84 236.60,148.01 236.67,148.91 236.75,148.34 236.82,147.71 236.90,147.59 236.97,147.75 237.05,147.43 237.12,147.57 237.20,147.83 237.27,147.44 237.35,146.71 237.42,147.24 237.50,146.99 237.57,146.76 237.65,147.32 237.72,147.02 237.80,147.04 237.88,146.15 237.95,146.20 238.03,146.29 238.10,146.06 238.18,145.06 238.25,144.73 238.33,144.57 238.40,144.38 238.48,143.84 238.55,143.63 238.63,143.08 238.70,142.91 238.78,142.65 238.85,142.04 238.93,141.12 239.00,140.02 239.08,140.33 239.15,139.77 239.23,138.41 239.30,137.69 239.38,137.46 239.45,136.62 239.53,135.80 239.60,134.60 239.68,132.71 239.75,133.18 239.83,131.86 239.90,131.19 239.98,129.96 240.05,128.86 240.13,127.89 240.20,127.34 240.28,126.31 240.35,124.58 240.43,123.81 240.50,122.84 240.58,121.73 240.65,121.27 240.73,119.65 240.80,119.54 240.88,118.84 240.95,118.08 241.03,117.11 241.10,115.53 241.18,116.00 241.25,115.52 241.33,114.79 241.41,115.32 241.48,115.64 241.56,115.41 241.63,115.47 241.71,116.21 241.78,116.08 241.86,116.41 241.93,116.26 242.01,117.36 242.08,118.33 242.16,119.35 242.23,120.27 242.31,121.56 242.38,121.88 242.46,123.62 242.53,123.83 242.61,124.18 242.68,125.94 242.76,126.66 242.83,128.14 242.91,129.52 242.98,129.73 243.06,130.89 243.13,131.58 243.21,132.64 243.28,133.37 243.36,134.64 243.43,135.12 243.51,135.76 243.58,137.10 243.66,137.77 243.73,137.98 243.81,138.86 243.88,139.76 243.96,140.85 244.03,140.95 244.11,140.84 244.18,142.05 244.26,142.42 244.33,143.13 244.41,143.24 244.48,143.58 244.56,143.83 244.63,144.49 244.71,144.96 244.79,144.06 244.86,145.02 244.94,145.63 245.01,145.59 245.09,145.55 245.16,145.50 245.24,145.95 245.31,146.33 245.39,146.15 245.46,146.97 245.54,146.92 245.61,146.22 245.69,146.69 245.76,146.87 245.84,147.15 245.91,147.41 245.99,146.95 246.06,147.09 246.14,146.52 246.21,147.51 246.29,147.23 246.36,147.40 246.44,147.63 246.51,146.67 246.59,146.86 246.66,147.33 246.74,147.92 246.81,147.31 246.89,147.26 246.96,147.68 247.04,148.05 247.11,146.81 247.19,147.98 247.26,147.09 247.34,147.73 247.41,147.63 247.49,147.11 247.56,147.90 247.64,147.60 247.71,147.49 247.79,147.03 247.86,147.08 247.94,147.38 248.01,147.87 248.09,146.96 248.16,147.52 248.24,147.24 248.32,148.00 248.39,147.35 248.47,147.06 248.54,147.34 248.62,146.94 248.69,146.64 248.77,146.48 248.84,147.20 248.92,147.50 248.99,147.77 249.07,146.91 249.14,147.30 249.22,146.44 249.29,147.28 249.37,146.00 249.44,146.25 249.52,146.72 249.59,145.89 249.67,145.62 249.74,145.45 249.82,145.48 249.89,145.04 249.97,144.86 250.04,144.95 250.12,144.53 250.19,144.78 250.27,143.72 250.34,144.17 250.42,143.43 250.49,143.44 250.57,142.28 250.64,142.17 250.72,142.19 250.79,141.26 250.87,140.97 250.94,140.15 251.02,139.86 251.09,139.35 251.17,138.85 251.24,138.78 251.32,137.39 251.39,136.66 251.47,136.64 251.54,135.42 251.62,134.49 251.69,133.88 251.77,133.02 251.85,132.43 251.92,132.18 252.00,130.49 252.07,130.52 252.15,130.02 252.22,128.53 252.30,128.60 252.37,127.33 252.45,127.25 252.52,125.87 252.60,125.20 252.67,125.25 252.75,124.32 252.82,123.77 252.90,123.62 252.97,123.01 253.05,122.91 253.12,122.86 253.20,122.80 253.27,122.22 253.35,122.08 253.42,122.01 253.50,122.25 253.57,122.36 253.65,123.00 253.72,122.55 253.80,123.87 253.87,123.73 253.95,124.57 254.02,125.16 254.10,124.89 254.17,126.07 254.25,127.34 254.32,127.47 254.40,128.47 254.47,128.34 254.55,130.05 254.62,130.47 254.70,131.42 254.77,132.18 254.85,132.44 254.92,133.02 255.00,133.69 255.07,134.90 255.15,135.75 255.22,136.02 255.30,137.02" fill="none" stroke="#000" stroke-width="1.15" stroke-linejoin="round"/>
<line x1="45.00" y1="7.40" x2="45.00" y2="162.60" stroke="#000" stroke-width="1.8"/>
<line x1="44.10" y1="161.70" x2="255.80" y2="161.70" stroke="#000" stroke-width="1.8"/>
<line x1="45.00" y1="161.70" x2="45.00" y2="157.70" stroke="#000" stroke-width="1.1"/>
<line x1="48.00" y1="161.70" x2="48.00" y2="159.10" stroke="#000" stroke-width="1.1"/>
<line x1="51.01" y1="161.70" x2="51.01" y2="159.10" stroke="#000" stroke-width="1.1"/>
<line x1="54.01" y1="161.70" x2="54.01" y2="159.10" stroke="#000" stroke-width="1.1"/>
<line x1="57.02" y1="161.70" x2="57.02" y2="159.10" stroke="#000" stroke-width="1.1"/>
<line x1="60.02" y1="161.70" x2="60.02" y2="159.10" stroke="#000" stroke-width="1.1"/>
<line x1="63.03" y1="161.70" x2="63.03" y2="159.10" stroke="#000" stroke-width="1.1"/>
<line x1="66.03" y1="161.70" x2="66.03" y2="159.10" stroke="#000" stroke-width="1.1"/>
<line x1="69.03" y1="161.70" x2="69.03" y2="159.10" stroke="#000" stroke-width="1.1"/>
<line x1="72.04" y1="161.70" x2="72.04" y2="159.10" stroke="#000" stroke-width="1.1"/>
<line x1="75.04" y1="161.70" x2="75.04" y2="157.70" stroke="#000" stroke-width="1.1"/>
<line x1="78.05" y1="161.70" x2="78.05" y2="159.10" stroke="#000" stroke-width="1.1"/>
<line x1="81.05" y1="161.70" x2="81.05" y2="159.10" stroke="#000" stroke-width="1.1"/>
<line x1="84.06" y1="161.70" x2="84.06" y2="159.10" stroke="#000" stroke-width="1.1"/>
<line x1="87.06" y1="161.70" x2="87.06" y2="159.10" stroke="#000" stroke-width="1.1"/>
<line x1="90.06" y1="161.70" x2="90.06" y2="159.10" stroke="#000" stroke-width="1.1"/>
<line x1="93.07" y1="161.70" x2="93.07" y2="159.10" stroke="#000" stroke-width="1.1"/>
<line x1="96.07" y1="161.70" x2="96.07" y2="159.10" stroke="#000" stroke-width="1.1"/>
<line x1="99.08" y1="161.70" x2="99.08" y2="159.10" stroke="#000" stroke-width="1.1"/>
<line x1="102.08" y1="161.70" x2="102.08" y2="159.10" stroke="#000" stroke-width="1.1"/>
<line x1="105.09" y1="161.70" x2="105.09" y2="157.70" stroke="#000" stroke-width="1.1"/>
<line x1="108.09" y1="161.70" x2="108.09" y2="159.10" stroke="#000" stroke-width="1.1"/>
<line x1="111.09" y1="161.70" x2="111.09" y2="159.10" stroke="#000" stroke-width="1.1"/>
<line x1="114.10" y1="161.70" x2="114.10" y2="159.10" stroke="#000" stroke-width="1.1"/>
<line x1="117.10" y1="161.70" x2="117.10" y2="159.10" stroke="#000" stroke-width="1.1"/>
<line x1="120.11" y1="161.70" x2="120.11" y2="159.10" stroke="#000" stroke-width="1.1"/>
<line x1="123.11" y1="161.70" x2="123.11" y2="159.10" stroke="#000" stroke-width="1.1"/>
<line x1="126.12" y1="161.70" x2="126.12" y2="159.10" stroke="#000" stroke-width="1.1"/>
<line x1="129.12" y1="161.70" x2="129.12" y2="159.10" stroke="#000" stroke-width="1.1"/>
<line x1="132.12" y1="161.70" x2="132.12" y2="159.10" stroke="#000" stroke-width="1.1"/>
<line x1="135.13" y1="161.70" x2="135.13" y2="157.70" stroke="#000" stroke-width="1.1"/>
<line x1="138.13" y1="161.70" x2="138.13" y2="159.10" stroke="#000" stroke-width="1.1"/>
<line x1="141.14" y1="161.70" x2="141.14" y2="159.10" stroke="#000" stroke-width="1.1"/>
<line x1="144.14" y1="161.70" x2="144.14" y2="159.10" stroke="#000" stroke-width="1.1"/>
<line x1="147.15" y1="161.70" x2="147.15" y2="159.10" stroke="#000" stroke-width="1.1"/>
<line x1="150.15" y1="161.70" x2="150.15" y2="159.10" stroke="#000" stroke-width="1.1"/>
<line x1="153.15" y1="161.70" x2="153.15" y2="159.10" stroke="#000" stroke-width="1.1"/>
<line x1="156.16" y1="161.70" x2="156.16" y2="159.10" stroke="#000" stroke-width="1.1"/>
<line x1="159.16" y1="161.70" x2="159.16" y2="159.10" stroke="#000" stroke-width="1.1"/>
<line x1="162.17" y1="161.70" x2="162.17" y2="159.10" stroke="#000" stroke-width="1.1"/>
<line x1="165.17" y1="161.70" x2="165.17" y2="157.70" stroke="#000" stroke-width="1.1"/>
<line x1="168.18" y1="161.70" x2="168.18" y2="159.10" stroke="#000" stroke-width="1.1"/>
<line x1="171.18" y1="161.70" x2="171.18" y2="159.10" stroke="#000" stroke-width="1.1"/>
<line x1="174.18" y1="161.70" x2="174.18" y2="159.10" stroke="#000" stroke-width="1.1"/>
<line x1="177.19" y1="161.70" x2="177.19" y2="159.10" stroke="#000" stroke-width="1.1"/>
<line x1="180.19" y1="161.70" x2="180.19" y2="159.10" stroke="#000" stroke-width="1.1"/>
<line x1="183.20" y1="161.70" x2="183.20" y2="159.10" stroke="#000" stroke-width="1.1"/>
<line x1="186.20" y1="161.70" x2="186.20" y2="159.10" stroke="#000" stroke-width="1.1"/>
<line x1="189.21" y1="161.70" x2="189.21" y2="159.10" stroke="#000" stroke-width="1.1"/>
<line x1="192.21" y1="161.70" x2="192.21" y2="159.10" stroke="#000" stroke-width="1.1"/>
<line x1="195.21" y1="161.70" x2="195.21" y2="157.70" stroke="#000" stroke-width="1.1"/>
<line x1="198.22" y1="161.70" x2="198.22" y2="159.10" stroke="#000" stroke-width="1.1"/>
<line x1="201.22" y1="161.70" x2="201.22" y2="159.10" stroke="#000" stroke-width="1.1"/>
<line x1="204.23" y1="161.70" x2="204.23" y2="159.10" stroke="#000" stroke-width="1.1"/>
<line x1="207.23" y1="161.70" x2="207.23" y2="159.10" stroke="#000" stroke-width="1.1"/>
<line x1="210.24" y1="161.70" x2="210.24" y2="159.10" stroke="#000" stroke-width="1.1"/>
<line x1="213.24" y1="161.70" x2="213.24" y2="159.10" stroke="#000" stroke-width="1.1"/>
<line x1="216.24" y1="161.70" x2="216.24" y2="159.10" stroke="#000" stroke-width="1.1"/>
<line x1="219.25" y1="161.70" x2="219.25" y2="159.10" stroke="#000" stroke-width="1.1"/>
<line x1="222.25" y1="161.70" x2="222.25" y2="159.10" stroke="#000" stroke-width="1.1"/>
<line x1="225.26" y1="161.70" x2="225.26" y2="157.70" stroke="#000" stroke-width="1.1"/>
<line x1="228.26" y1="161.70" x2="228.26" y2="159.10" stroke="#000" stroke-width="1.1"/>
<line x1="231.27" y1="161.70" x2="231.27" y2="159.10" stroke="#000" stroke-width="1.1"/>
<line x1="234.27" y1="161.70" x2="234.27" y2="159.10" stroke="#000" stroke-width="1.1"/>
<line x1="237.27" y1="161.70" x2="237.27" y2="159.10" stroke="#000" stroke-width="1.1"/>
<line x1="240.28" y1="161.70" x2="240.28" y2="159.10" stroke="#000" stroke-width="1.1"/>
<line x1="243.28" y1="161.70" x2="243.28" y2="159.10" stroke="#000" stroke-width="1.1"/>
<line x1="246.29" y1="161.70" x2="246.29" y2="159.10" stroke="#000" stroke-width="1.1"/>
<line x1="249.29" y1="161.70" x2="249.29" y2="159.10" stroke="#000" stroke-width="1.1"/>
<line x1="252.30" y1="161.70" x2="252.30" y2="159.10" stroke="#000" stroke-width="1.1"/>
<line x1="255.30" y1="161.70" x2="255.30" y2="157.70" stroke="#000" stroke-width="1.1"/>
<text x="45.00" y="172.60" font-size="8.85" text-anchor="middle" >10</text>
<text x="75.04" y="172.60" font-size="8.85" text-anchor="middle" >20</text>
<text x="105.09" y="172.60" font-size="8.85" text-anchor="middle" >30</text>
<text x="135.13" y="172.60" font-size="8.85" text-anchor="middle" >40</text>
<text x="165.17" y="172.60" font-size="8.85" text-anchor="middle" >50</text>
<text x="195.21" y="172.60" font-size="8.85" text-anchor="middle" >60</text>
<text x="225.26" y="172.60" font-size="8.85" text-anchor="middle" >70</text>
<text x="255.30" y="172.60" font-size="8.85" text-anchor="middle" >80</text>
<line x1="45.00" y1="161.30" x2="49.00" y2="161.30" stroke="#000" stroke-width="1.1"/>
<text x="42.20" y="163.39" font-size="8.85" text-anchor="end" >0</text>
<line x1="45.00" y1="157.89" x2="47.40" y2="157.89" stroke="#000" stroke-width="1.1"/>
<line x1="45.00" y1="154.48" x2="47.40" y2="154.48" stroke="#000" stroke-width="1.1"/>
<line x1="45.00" y1="151.07" x2="47.40" y2="151.07" stroke="#000" stroke-width="1.1"/>
<line x1="45.00" y1="147.66" x2="47.40" y2="147.66" stroke="#000" stroke-width="1.1"/>
<line x1="45.00" y1="144.25" x2="49.00" y2="144.25" stroke="#000" stroke-width="1.1"/>
<text x="42.20" y="146.34" font-size="8.85" text-anchor="end" >1000</text>
<line x1="45.00" y1="140.84" x2="47.40" y2="140.84" stroke="#000" stroke-width="1.1"/>
<line x1="45.00" y1="137.43" x2="47.40" y2="137.43" stroke="#000" stroke-width="1.1"/>
<line x1="45.00" y1="134.02" x2="47.40" y2="134.02" stroke="#000" stroke-width="1.1"/>
<line x1="45.00" y1="130.61" x2="47.40" y2="130.61" stroke="#000" stroke-width="1.1"/>
<line x1="45.00" y1="127.20" x2="49.00" y2="127.20" stroke="#000" stroke-width="1.1"/>
<text x="42.20" y="129.29" font-size="8.85" text-anchor="end" >2000</text>
<line x1="45.00" y1="123.79" x2="47.40" y2="123.79" stroke="#000" stroke-width="1.1"/>
<line x1="45.00" y1="120.38" x2="47.40" y2="120.38" stroke="#000" stroke-width="1.1"/>
<line x1="45.00" y1="116.97" x2="47.40" y2="116.97" stroke="#000" stroke-width="1.1"/>
<line x1="45.00" y1="113.56" x2="47.40" y2="113.56" stroke="#000" stroke-width="1.1"/>
<line x1="45.00" y1="110.15" x2="49.00" y2="110.15" stroke="#000" stroke-width="1.1"/>
<text x="42.20" y="112.24" font-size="8.85" text-anchor="end" >3000</text>
<line x1="45.00" y1="106.74" x2="47.40" y2="106.74" stroke="#000" stroke-width="1.1"/>
<line x1="45.00" y1="103.33" x2="47.40" y2="103.33" stroke="#000" stroke-width="1.1"/>
<line x1="45.00" y1="99.92" x2="47.40" y2="99.92" stroke="#000" stroke-width="1.1"/>
<line x1="45.00" y1="96.51" x2="47.40" y2="96.51" stroke="#000" stroke-width="1.1"/>
<line x1="45.00" y1="93.10" x2="49.00" y2="93.10" stroke="#000" stroke-width="1.1"/>
<text x="42.20" y="95.19" font-size="8.85" text-anchor="end" >4000</text>
<line x1="45.00" y1="89.69" x2="47.40" y2="89.69" stroke="#000" stroke-width="1.1"/>
<line x1="45.00" y1="86.28" x2="47.40" y2="86.28" stroke="#000" stroke-width="1.1"/>
<line x1="45.00" y1="82.87" x2="47.40" y2="82.87" stroke="#000" stroke-width="1.1"/>
<line x1="45.00" y1="79.46" x2="47.40" y2="79.46" stroke="#000" stroke-width="1.1"/>
<line x1="45.00" y1="76.05" x2="49.00" y2="76.05" stroke="#000" stroke-width="1.1"/>
<text x="42.20" y="78.14" font-size="8.85" text-anchor="end" >5000</text>
<line x1="45.00" y1="72.64" x2="47.40" y2="72.64" stroke="#000" stroke-width="1.1"/>
<line x1="45.00" y1="69.23" x2="47.40" y2="69.23" stroke="#000" stroke-width="1.1"/>
<line x1="45.00" y1="65.82" x2="47.40" y2="65.82" stroke="#000" stroke-width="1.1"/>
<line x1="45.00" y1="62.41" x2="47.40" y2="62.41" stroke="#000" stroke-width="1.1"/>
<line x1="45.00" y1="59.00" x2="49.00" y2="59.00" stroke="#000" stroke-width="1.1"/>
<text x="42.20" y="61.09" font-size="8.85" text-anchor="end" >6000</text>
<line x1="45.00" y1="55.59" x2="47.40" y2="55.59" stroke="#000" stroke-width="1.1"/>
<line x1="45.00" y1="52.18" x2="47.40" y2="52.18" stroke="#000" stroke-width="1.1"/>
<line x1="45.00" y1="48.77" x2="47.40" y2="48.77" stroke="#000" stroke-width="1.1"/>
<line x1="45.00" y1="45.36" x2="47.40" y2="45.36" stroke="#000" stroke-width="1.1"/>
<line x1="45.00" y1="41.95" x2="49.00" y2="41.95" stroke="#000" stroke-width="1.1"/>
<text x="42.20" y="44.04" font-size="8.85" text-anchor="end" >7000</text>
<line x1="45.00" y1="38.54" x2="47.40" y2="38.54" stroke="#000" stroke-width="1.1"/>
<line x1="45.00" y1="35.13" x2="47.40" y2="35.13" stroke="#000" stroke-width="1.1"/>
<line x1="45.00" y1="31.72" x2="47.40" y2="31.72" stroke="#000" stroke-width="1.1"/>
<line x1="45.00" y1="28.31" x2="47.40" y2="28.31" stroke="#000" stroke-width="1.1"/>
<line x1="45.00" y1="24.90" x2="49.00" y2="24.90" stroke="#000" stroke-width="1.1"/>
<text x="42.20" y="26.99" font-size="8.85" text-anchor="end" >8000</text>
<line x1="45.00" y1="21.49" x2="47.40" y2="21.49" stroke="#000" stroke-width="1.1"/>
<line x1="45.00" y1="18.08" x2="47.40" y2="18.08" stroke="#000" stroke-width="1.1"/>
<line x1="45.00" y1="14.67" x2="47.40" y2="14.67" stroke="#000" stroke-width="1.1"/>
<line x1="45.00" y1="11.26" x2="47.40" y2="11.26" stroke="#000" stroke-width="1.1"/>
<line x1="45.00" y1="7.85" x2="49.00" y2="7.85" stroke="#000" stroke-width="1.1"/>
<text x="42.20" y="9.94" font-size="8.85" text-anchor="end" >9000</text>
<text x="140.25" y="188.30" font-size="12" text-anchor="middle" >2 Theta</text>
<text transform="translate(12.40,87.60) rotate(-90)" font-size="12" text-anchor="middle">Counts (I/I<tspan font-size="7.4" dy="3.6">o</tspan><tspan dy="-3.6">)</tspan></text>
<text x="50.20" y="20.90" font-size="11.4" text-anchor="start" >(a)</text>
<text x="153.7" y="19.6" font-size="8.35"><tspan font-size="5.8" dy="-0.6">★</tspan><tspan dy="0.6" dx="2.0">= PDF 01-089-7131- NiO</tspan></text>
<polygon points="127.00,77.93 127.59,79.51 129.28,79.59 127.96,80.64 128.41,82.27 127.00,81.34 125.59,82.27 126.04,80.64 124.72,79.59 126.41,79.51" fill="#000"/>
<polygon points="145.10,15.83 145.69,17.41 147.38,17.49 146.06,18.54 146.51,20.17 145.10,19.24 143.69,20.17 144.14,18.54 142.82,17.49 144.51,17.41" fill="#000"/>
<polygon points="203.70,57.43 204.29,59.01 205.98,59.09 204.66,60.14 205.11,61.77 203.70,60.84 202.29,61.77 202.74,60.14 201.42,59.09 203.11,59.01" fill="#000"/>
<polygon points="241.50,109.93 242.09,111.51 243.78,111.59 242.46,112.64 242.91,114.27 241.50,113.34 240.09,114.27 240.54,112.64 239.22,111.59 240.91,111.51" fill="#000"/>
<polygon points="252.10,117.53 252.69,119.11 254.38,119.19 253.06,120.24 253.51,121.87 252.10,120.94 250.69,121.87 251.14,120.24 249.82,119.19 251.51,119.11" fill="#000"/>
<line x1="341.30" y1="11.30" x2="542.60" y2="11.30" stroke="#858585" stroke-width="1.0"/>
<line x1="542.60" y1="11.30" x2="542.60" y2="159.90" stroke="#858585" stroke-width="1.0"/>
<polyline points="341.30,154.23 341.33,155.35 341.37,154.65 341.40,155.28 341.44,155.19 341.47,155.41 341.51,155.30 341.54,154.62 341.58,155.08 341.61,155.22 341.65,155.27 341.68,155.16 341.71,154.98 341.75,154.48 341.78,154.80 341.82,154.82 341.85,154.85 341.89,154.53 341.92,155.15 341.96,154.68 341.99,155.21 342.02,155.19 342.06,154.55 342.09,154.76 342.13,154.86 342.16,155.15 342.20,154.61 342.23,153.95 342.27,154.56 342.30,154.55 342.34,154.79 342.37,154.31 342.40,154.90 342.44,153.64 342.47,154.65 342.51,154.71 342.54,154.27 342.58,155.15 342.61,154.98 342.65,155.00 342.68,154.80 342.71,154.05 342.75,155.07 342.78,153.78 342.82,154.34 342.85,154.11 342.89,154.61 342.92,155.27 342.96,155.14 342.99,154.19 343.03,154.80 343.06,154.54 343.09,154.56 343.13,154.11 343.16,154.17 343.20,154.53 343.23,154.62 343.27,154.28 343.30,155.05 343.34,154.91 343.37,155.14 343.41,154.98 343.44,155.21 343.47,154.31 343.51,154.73 343.54,153.95 343.58,154.74 343.61,154.51 343.65,154.80 343.68,154.33 343.72,154.38 343.75,154.73 343.78,154.48 343.82,154.89 343.85,154.81 343.89,154.98 343.92,154.27 343.96,154.95 343.99,155.01 344.03,154.23 344.06,154.64 344.10,155.11 344.13,155.02 344.16,154.82 344.20,155.02 344.23,154.63 344.27,155.05 344.30,155.05 344.34,154.30 344.37,153.96 344.41,154.09 344.44,154.74 344.47,154.38 344.51,154.65 344.54,153.90 344.58,154.46 344.61,154.38 344.65,153.85 344.68,154.09 344.72,154.51 344.75,154.93 344.79,154.69 344.82,155.07 344.85,153.91 344.89,154.60 344.92,154.27 344.96,154.46 344.99,154.81 345.03,154.42 345.06,154.38 345.10,154.54 345.13,154.53 345.16,154.39 345.20,154.87 345.23,154.56 345.27,154.68 345.30,154.79 345.34,154.45 345.37,155.33 345.41,155.02 345.44,154.58 345.48,153.92 345.51,154.28 345.54,154.78 345.58,153.95 345.61,154.44 345.65,154.74 345.68,154.53 345.72,153.92 345.75,154.18 345.79,154.75 345.82,154.88 345.86,154.25 345.89,154.91 345.92,154.65 345.96,154.21 345.99,154.86 346.03,154.77 346.06,154.38 346.10,154.57 346.13,153.97 346.17,154.46 346.20,154.23 346.23,154.21 346.27,154.67 346.30,154.14 346.34,153.96 346.37,154.51 346.41,154.66 346.44,154.54 346.48,153.91 346.51,154.45 346.55,154.62 346.58,154.91 346.61,154.45 346.65,154.94 346.68,154.09 346.72,154.73 346.75,154.91 346.79,154.06 346.82,154.30 346.86,154.25 346.89,154.77 346.92,154.14 346.96,154.31 346.99,154.36 347.03,154.08 347.06,154.02 347.10,154.44 347.13,153.83 347.17,154.21 347.20,154.44 347.24,154.17 347.27,154.31 347.30,153.82 347.34,154.30 347.37,154.45 347.41,154.39 347.44,154.09 347.48,154.98 347.51,154.88 347.55,154.49 347.58,154.22 347.62,154.15 347.65,154.50 347.68,154.98 347.72,155.18 347.75,154.46 347.79,154.56 347.82,154.29 347.86,154.03 347.89,154.72 347.93,153.88 347.96,154.55 347.99,154.46 348.03,154.32 348.06,155.10 348.10,153.50 348.13,154.50 348.17,153.96 348.20,154.63 348.24,154.98 348.27,154.78 348.31,154.80 348.34,155.09 348.37,155.33 348.41,154.11 348.44,154.64 348.48,154.33 348.51,153.92 348.55,154.57 348.58,154.37 348.62,153.99 348.65,154.23 348.68,154.29 348.72,154.73 348.75,154.72 348.79,154.10 348.82,154.46 348.86,154.03 348.89,154.10 348.93,154.21 348.96,154.11 349.00,154.28 349.03,153.91 349.06,155.15 349.10,154.63 349.13,154.23 349.17,153.73 349.20,154.98 349.24,154.55 349.27,154.19 349.31,153.87 349.34,154.52 349.38,155.11 349.41,154.22 349.44,154.05 349.48,154.17 349.51,154.18 349.55,154.12 349.58,154.62 349.62,154.13 349.65,154.03 349.69,154.34 349.72,154.66 349.75,154.57 349.79,154.08 349.82,154.59 349.86,153.87 349.89,154.26 349.93,154.44 349.96,154.03 350.00,154.35 350.03,153.54 350.07,153.81 350.10,154.62 350.13,154.48 350.17,155.09 350.20,154.05 350.24,154.18 350.27,154.27 350.31,154.88 350.34,153.77 350.38,153.88 350.41,154.52 350.44,154.58 350.48,154.54 350.51,154.05 350.55,154.22 350.58,154.39 350.62,154.45 350.65,154.87 350.69,154.59 350.72,155.01 350.76,153.99 350.79,154.39 350.82,154.37 350.86,154.53 350.89,154.75 350.93,155.15 350.96,154.70 351.00,154.58 351.03,154.55 351.07,154.06 351.10,154.05 351.13,154.77 351.17,154.72 351.20,154.02 351.24,155.22 351.27,154.49 351.31,154.10 351.34,154.34 351.38,154.56 351.41,154.14 351.45,154.61 351.48,154.70 351.51,154.30 351.55,154.43 351.58,154.17 351.62,153.95 351.65,153.88 351.69,155.30 351.72,154.26 351.76,154.18 351.79,154.07 351.83,154.51 351.86,154.51 351.89,154.25 351.93,154.69 351.96,155.02 352.00,154.13 352.03,154.14 352.07,154.85 352.10,153.99 352.14,154.73 352.17,154.26 352.20,154.89 352.24,154.40 352.27,154.69 352.31,154.61 352.34,154.29 352.38,154.18 352.41,154.78 352.45,153.85 352.48,154.75 352.52,155.03 352.55,154.54 352.58,153.71 352.62,154.62 352.65,154.95 352.69,154.70 352.72,154.31 352.76,154.23 352.79,154.27 352.83,154.04 352.86,153.67 352.89,154.39 352.93,154.27 352.96,154.42 353.00,154.29 353.03,153.97 353.07,154.29 353.10,154.81 353.14,154.09 353.17,153.86 353.21,154.35 353.24,153.72 353.27,154.05 353.31,155.00 353.34,154.62 353.38,154.88 353.41,154.65 353.45,154.79 353.48,154.39 353.52,154.23 353.55,155.22 353.59,154.18 353.62,154.52 353.65,154.10 353.69,154.58 353.72,155.34 353.76,154.53 353.79,154.34 353.83,154.33 353.86,154.51 353.90,154.89 353.93,154.84 353.96,154.81 354.00,154.89 354.03,154.48 354.07,154.36 354.10,154.19 354.14,154.36 354.17,154.56 354.21,154.28 354.24,154.51 354.28,154.89 354.31,154.17 354.34,154.53 354.38,154.54 354.41,154.06 354.45,154.31 354.48,154.27 354.52,153.77 354.55,154.08 354.59,154.20 354.62,154.48 354.65,155.29 354.69,155.46 354.72,154.90 354.76,153.66 354.79,154.61 354.83,154.72 354.86,154.34 354.90,154.12 354.93,154.41 354.97,154.34 355.00,154.42 355.03,154.70 355.07,154.78 355.10,155.43 355.14,154.60 355.17,154.60 355.21,154.48 355.24,154.22 355.28,155.11 355.31,155.05 355.34,154.34 355.38,155.22 355.41,154.54 355.45,154.61 355.48,154.44 355.52,154.95 355.55,154.41 355.59,155.09 355.62,154.35 355.66,154.65 355.69,154.81 355.72,154.59 355.76,154.18 355.79,155.06 355.83,154.74 355.86,155.14 355.90,154.31 355.93,154.41 355.97,155.02 356.00,154.78 356.04,155.11 356.07,154.68 356.10,154.31 356.14,154.91 356.17,154.70 356.21,155.33 356.24,154.07 356.28,155.16 356.31,154.67 356.35,154.85 356.38,154.32 356.41,154.81 356.45,154.88 356.48,155.23 356.52,154.27 356.55,155.39 356.59,154.14 356.62,154.25 356.66,154.04 356.69,155.09 356.73,155.01 356.76,154.67 356.79,154.31 356.83,155.13 356.86,154.27 356.90,155.17 356.93,154.47 356.97,154.72 357.00,154.66 357.04,154.77 357.07,154.48 357.10,155.41 357.14,154.36 357.17,154.96 357.21,154.84 357.24,155.06 357.28,154.51 357.31,154.61 357.35,154.91 357.38,155.12 357.42,154.07 357.45,154.86 357.48,154.56 357.52,154.89 357.55,154.37 357.59,154.26 357.62,154.38 357.66,154.16 357.69,154.14 357.73,155.58 357.76,155.02 357.80,155.24 357.83,154.54 357.86,154.67 357.90,155.24 357.93,154.18 357.97,154.73 358.00,154.18 358.04,155.03 358.07,154.47 358.11,154.32 358.14,154.93 358.17,154.67 358.21,154.81 358.24,154.95 358.28,154.68 358.31,155.54 358.35,154.55 358.38,154.78 358.42,155.29 358.45,154.56 358.49,155.58 358.52,155.27 358.55,154.39 358.59,154.64 358.62,155.10 358.66,154.31 358.69,154.97 358.73,154.92 358.76,154.84 358.80,154.61 358.83,154.67 358.86,155.23 358.90,155.03 358.93,154.65 358.97,154.45 359.00,154.78 359.04,154.54 359.07,154.56 359.11,155.27 359.14,154.97 359.18,154.09 359.21,154.99 359.24,154.61 359.28,155.39 359.31,153.75 359.35,155.19 359.38,154.65 359.42,154.71 359.45,155.50 359.49,154.99 359.52,154.50 359.56,155.16 359.59,154.57 359.62,155.04 359.66,154.46 359.69,154.07 359.73,155.34 359.76,154.81 359.80,155.20 359.83,155.31 359.87,154.94 359.90,154.87 359.93,154.79 359.97,154.80 360.00,155.80 360.04,155.16 360.07,155.77 360.11,154.86 360.14,154.66 360.18,154.87 360.21,155.18 360.25,154.85 360.28,154.69 360.31,154.79 360.35,155.21 360.38,155.14 360.42,154.52 360.45,155.01 360.49,154.95 360.52,155.00 360.56,154.79 360.59,154.81 360.62,155.14 360.66,155.16 360.69,155.14 360.73,154.98 360.76,154.82 360.80,155.57 360.83,154.46 360.87,155.45 360.90,155.01 360.94,155.46 360.97,155.25 361.00,155.09 361.04,154.86 361.07,154.97 361.11,154.75 361.14,155.19 361.18,154.48 361.21,155.68 361.25,154.99 361.28,154.96 361.31,155.25 361.35,155.10 361.38,155.41 361.42,154.95 361.45,155.25 361.49,154.82 361.52,154.96 361.56,154.95 361.59,155.06 361.63,155.43 361.66,154.85 361.69,154.80 361.73,155.24 361.76,155.52 361.80,155.36 361.83,154.73 361.87,155.74 361.90,154.99 361.94,155.26 361.97,154.85 362.01,155.68 362.04,154.97 362.07,155.53 362.11,154.94 362.14,154.51 362.18,155.23 362.21,154.44 362.25,155.13 362.28,154.88 362.32,154.29 362.35,154.78 362.38,154.97 362.42,156.03 362.45,155.46 362.49,155.02 362.52,155.45 362.56,155.54 362.59,154.99 362.63,155.71 362.66,155.61 362.70,154.92 362.73,154.43 362.76,155.47 362.80,155.15 362.83,154.99 362.87,155.44 362.90,155.52 362.94,155.05 362.97,155.61 363.01,155.49 363.04,154.51 363.07,155.93 363.11,154.48 363.14,154.68 363.18,155.44 363.21,154.78 363.25,155.14 363.28,155.57 363.32,155.44 363.35,155.50 363.39,154.64 363.42,155.68 363.45,155.72 363.49,155.39 363.52,155.49 363.56,154.43 363.59,155.44 363.63,155.53 363.66,155.55 363.70,155.57 363.73,156.03 363.77,155.25 363.80,155.56 363.83,155.40 363.87,154.83 363.90,154.90 363.94,154.99 363.97,155.64 364.01,155.33 364.04,155.49 364.08,155.42 364.11,155.36 364.14,155.51 364.18,154.91 364.21,155.59 364.25,154.79 364.28,155.15 364.32,155.35 364.35,155.13 364.39,155.44 364.42,155.44 364.46,154.93 364.49,155.42 364.52,153.71 364.56,155.77 364.59,155.83 364.63,154.83 364.66,155.51 364.70,155.57 364.73,155.73 364.77,155.43 364.80,155.64 364.83,155.06 364.87,155.59 364.90,155.36 364.94,155.11 364.97,155.27 365.01,155.55 365.04,155.76 365.08,155.93 365.11,155.96 365.15,155.10 365.18,155.59 365.21,155.54 365.25,155.31 365.28,155.26 365.32,154.99 365.35,155.21 365.39,155.47 365.42,155.83 365.46,155.22 365.49,155.43 365.53,155.40 365.56,155.72 365.59,155.27 365.63,155.07 365.66,155.45 365.70,155.13 365.73,155.37 365.77,155.51 365.80,154.92 365.84,155.49 365.87,155.28 365.90,155.96 365.94,155.06 365.97,155.54 366.01,155.43 366.04,155.54 366.08,155.28 366.11,155.62 366.15,155.79 366.18,155.33 366.22,155.29 366.25,155.58 366.28,155.13 366.32,154.98 366.35,155.67 366.39,155.22 366.42,155.22 366.46,155.98 366.49,155.87 366.53,156.24 366.56,154.88 366.59,155.57 366.63,155.55 366.66,155.16 366.70,154.80 366.73,155.22 366.77,154.79 366.80,154.90 366.84,153.97 366.87,155.76 366.91,155.57 366.94,155.69 366.97,155.16 367.01,155.72 367.04,155.11 367.08,156.13 367.11,155.03 367.15,155.21 367.18,154.84 367.22,155.16 367.25,155.36 367.28,155.28 367.32,156.19 367.35,155.52 367.39,155.37 367.42,154.74 367.46,155.39 367.49,156.04 367.53,154.58 367.56,155.80 367.60,155.41 367.63,155.82 367.66,156.79 367.70,155.13 367.73,155.63 367.77,155.15 367.80,155.69 367.84,155.21 367.87,154.83 367.91,155.21 367.94,155.50 367.98,155.65 368.01,155.45 368.04,155.96 368.08,155.41 368.11,155.20 368.15,156.02 368.18,155.94 368.22,154.75 368.25,155.46 368.29,154.75 368.32,155.24 368.35,155.18 368.39,155.39 368.42,154.80 368.46,154.94 368.49,155.48 368.53,156.19 368.56,155.95 368.60,155.51 368.63,155.85 368.67,155.24 368.70,155.31 368.73,155.28 368.77,155.25 368.80,155.40 368.84,155.32 368.87,155.40 368.91,155.90 368.94,155.49 368.98,155.49 369.01,155.13 369.04,155.64 369.08,155.83 369.11,154.75 369.15,155.18 369.18,155.05 369.22,154.85 369.25,155.60 369.29,155.07 369.32,155.40 369.36,155.92 369.39,155.39 369.42,155.40 369.46,155.27 369.49,155.59 369.53,155.59 369.56,155.92 369.60,155.17 369.63,156.26 369.67,155.49 369.70,155.69 369.74,155.68 369.77,155.40 369.80,155.64 369.84,156.18 369.87,156.30 369.91,156.22 369.94,155.82 369.98,155.64 370.01,155.65 370.05,155.50 370.08,155.44 370.11,155.68 370.15,156.06 370.18,155.69 370.22,155.76 370.25,154.86 370.29,155.13 370.32,155.84 370.36,155.55 370.39,155.01 370.43,155.42 370.46,155.10 370.49,155.40 370.53,155.39 370.56,155.25 370.60,155.73 370.63,155.77 370.67,155.62 370.70,155.08 370.74,155.37 370.77,155.98 370.80,155.09 370.84,155.30 370.87,155.13 370.91,155.38 370.94,155.47 370.98,156.26 371.01,155.39 371.05,156.19 371.08,155.58 371.12,154.80 371.15,155.42 371.18,155.36 371.22,155.70 371.25,155.39 371.29,156.00 371.32,155.60 371.36,155.40 371.39,155.60 371.43,155.94 371.46,156.42 371.50,155.75 371.53,155.83 371.56,155.74 371.60,155.33 371.63,156.21 371.67,155.22 371.70,156.06 371.74,154.56 371.77,155.03 371.81,155.28 371.84,155.84 371.87,155.45 371.91,155.45 371.94,155.75 371.98,155.73 372.01,155.10 372.05,155.46 372.08,154.78 372.12,155.05 372.15,155.53 372.19,155.27 372.22,155.45 372.25,155.98 372.29,155.30 372.32,155.82 372.36,154.96 372.39,155.11 372.43,156.44 372.46,155.46 372.50,155.91 372.53,154.87 372.56,155.55 372.60,155.39 372.63,155.27 372.67,155.88 372.70,155.45 372.74,155.01 372.77,155.74 372.81,155.28 372.84,155.60 372.88,154.64 372.91,154.74 372.94,155.51 372.98,155.58 373.01,155.31 373.05,155.54 373.08,155.56 373.12,155.73 373.15,154.84 373.19,154.64 373.22,155.30 373.25,156.13 373.29,156.04 373.32,155.31 373.36,155.88 373.39,155.73 373.43,155.47 373.46,155.68 373.50,155.04 373.53,156.03 373.57,155.47 373.60,155.97 373.63,155.44 373.67,156.23 373.70,155.70 373.74,155.09 373.77,155.79 373.81,155.41 373.84,155.72 373.88,155.45 373.91,155.65 373.95,155.30 373.98,155.93 374.01,155.59 374.05,155.23 374.08,155.79 374.12,155.22 374.15,155.17 374.19,155.41 374.22,156.31 374.26,154.84 374.29,155.98 374.32,155.50 374.36,155.33 374.39,154.86 374.43,155.47 374.46,155.84 374.50,155.24 374.53,154.86 374.57,155.87 374.60,155.25 374.64,155.50 374.67,155.42 374.70,155.59 374.74,155.35 374.77,155.26 374.81,154.55 374.84,156.21 374.88,154.84 374.91,155.44 374.95,155.87 374.98,156.05 375.01,154.94 375.05,156.13 375.08,154.75 375.12,156.02 375.15,155.32 375.19,155.85 375.22,156.02 375.26,155.72 375.29,154.72 375.33,155.40 375.36,155.37 375.39,155.10 375.43,155.00 375.46,155.83 375.50,155.29 375.53,155.44 375.57,155.62 375.60,156.30 375.64,155.09 375.67,155.16 375.71,155.66 375.74,154.04 375.77,155.94 375.81,155.56 375.84,155.36 375.88,155.77 375.91,155.48 375.95,154.87 375.98,155.88 376.02,156.26 376.05,155.71 376.08,155.85 376.12,155.67 376.15,155.75 376.19,155.50 376.22,154.58 376.26,155.47 376.29,154.65 376.33,155.53 376.36,155.71 376.40,156.28 376.43,155.42 376.46,155.29 376.50,154.46 376.53,156.19 376.57,155.78 376.60,155.65 376.64,155.59 376.67,155.53 376.71,155.83 376.74,155.54 376.77,155.89 376.81,155.90 376.84,155.41 376.88,155.03 376.91,155.76 376.95,156.22 376.98,155.71 377.02,155.50 377.05,155.52 377.09,155.02 377.12,155.91 377.15,155.60 377.19,155.75 377.22,154.83 377.26,155.36 377.29,155.60 377.33,155.81 377.36,155.14 377.40,156.02 377.43,155.04 377.46,155.07 377.50,155.24 377.53,155.41 377.57,155.46 377.60,155.15 377.64,155.55 377.67,155.08 377.71,156.03 377.74,154.94 377.78,155.50 377.81,154.98 377.84,155.31 377.88,155.66 377.91,155.50 377.95,155.70 377.98,155.13 378.02,156.00 378.05,156.00 378.09,155.07 378.12,155.29 378.16,155.81 378.19,155.20 378.22,155.94 378.26,155.40 378.29,155.95 378.33,155.14 378.36,155.44 378.40,155.32 378.43,156.24 378.47,155.86 378.50,156.01 378.53,155.60 378.57,155.42 378.60,156.09 378.64,155.61 378.67,155.47 378.71,155.25 378.74,155.46 378.78,155.32 378.81,154.90 378.85,156.03 378.88,154.93 378.91,155.92 378.95,155.39 378.98,155.68 379.02,155.27 379.05,155.45 379.09,154.88 379.12,155.97 379.16,154.95 379.19,155.14 379.22,154.86 379.26,155.55 379.29,154.76 379.33,155.20 379.36,155.03 379.40,155.25 379.43,155.03 379.47,154.73 379.50,155.37 379.54,156.00 379.57,155.20 379.60,154.97 379.64,155.51 379.67,155.40 379.71,155.83 379.74,155.03 379.78,155.62 379.81,154.84 379.85,154.76 379.88,154.42 379.92,154.66 379.95,154.70 379.98,155.09 380.02,154.32 380.05,155.86 380.09,155.53 380.12,154.37 380.16,155.32 380.19,155.45 380.23,155.26 380.26,154.65 380.29,154.53 380.33,154.66 380.36,155.09 380.40,154.95 380.43,154.60 380.47,154.92 380.50,154.55 380.54,155.24 380.57,154.25 380.61,154.60 380.64,154.63 380.67,154.77 380.71,155.40 380.74,153.94 380.78,154.61 380.81,154.34 380.85,154.28 380.88,153.82 380.92,154.15 380.95,153.26 380.98,153.61 381.02,153.92 381.05,153.82 381.09,152.45 381.12,153.59 381.16,153.21 381.19,153.18 381.23,152.35 381.26,152.07 381.30,151.08 381.33,151.41 381.36,150.93 381.40,148.94 381.43,149.79 381.47,147.72 381.50,147.25 381.54,145.02 381.57,144.08 381.61,141.87 381.64,140.55 381.68,138.39 381.71,137.00 381.74,134.50 381.78,132.35 381.81,130.39 381.85,128.22 381.88,126.67 381.92,124.70 381.95,125.45 381.99,124.42 382.02,124.77 382.05,125.22 382.09,126.02 382.12,127.26 382.16,129.21 382.19,132.13 382.23,134.14 382.26,136.23 382.30,137.86 382.33,140.36 382.37,141.65 382.40,143.87 382.43,144.88 382.47,146.15 382.50,146.88 382.54,148.44 382.57,149.47 382.61,149.90 382.64,151.16 382.68,150.91 382.71,151.91 382.74,152.10 382.78,152.75 382.81,152.92 382.85,153.32 382.88,153.63 382.92,153.53 382.95,153.41 382.99,154.40 383.02,153.95 383.06,153.64 383.09,154.27 383.12,153.78 383.16,154.01 383.19,154.78 383.23,154.67 383.26,153.95 383.30,154.08 383.33,154.41 383.37,154.57 383.40,155.59 383.43,154.73 383.47,155.43 383.50,154.85 383.54,154.84 383.57,154.90 383.61,154.67 383.64,154.85 383.68,155.40 383.71,155.12 383.75,154.59 383.78,154.17 383.81,155.44 383.85,154.84 383.88,154.59 383.92,154.85 383.95,155.13 383.99,154.60 384.02,154.37 384.06,155.03 384.09,155.45 384.13,155.69 384.16,154.85 384.19,154.62 384.23,155.25 384.26,155.16 384.30,155.27 384.33,154.37 384.37,155.57 384.40,154.91 384.44,155.46 384.47,154.94 384.50,155.03 384.54,154.75 384.57,155.31 384.61,155.52 384.64,155.46 384.68,155.65 384.71,154.90 384.75,155.29 384.78,155.95 384.82,155.19 384.85,155.49 384.88,155.99 384.92,155.44 384.95,155.35 384.99,155.58 385.02,155.56 385.06,155.81 385.09,155.83 385.13,154.60 385.16,155.88 385.19,155.13 385.23,155.17 385.26,155.36 385.30,156.18 385.33,154.94 385.37,155.67 385.40,154.53 385.44,155.56 385.47,155.83 385.51,154.92 385.54,155.54 385.57,155.30 385.61,155.02 385.64,155.77 385.68,155.92 385.71,155.40 385.75,155.00 385.78,155.46 385.82,155.55 385.85,154.86 385.89,154.99 385.92,155.41 385.95,154.57 385.99,155.59 386.02,155.30 386.06,155.76 386.09,155.17 386.13,154.98 386.16,155.47 386.20,155.98 386.23,155.30 386.26,155.48 386.30,155.27 386.33,155.91 386.37,155.30 386.40,155.71 386.44,155.09 386.47,155.40 386.51,155.51 386.54,155.38 386.58,155.17 386.61,154.80 386.64,155.51 386.68,155.35 386.71,155.72 386.75,155.42 386.78,155.99 386.82,155.55 386.85,154.85 386.89,155.43 386.92,155.59 386.95,155.62 386.99,155.80 387.02,155.18 387.06,155.62 387.09,155.74 387.13,154.77 387.16,155.04 387.20,155.34 387.23,155.72 387.27,154.92 387.30,154.69 387.33,155.46 387.37,155.30 387.40,155.24 387.44,154.87 387.47,155.22 387.51,155.31 387.54,155.55 387.58,155.67 387.61,155.31 387.65,155.36 387.68,155.57 387.71,155.84 387.75,155.51 387.78,155.64 387.82,155.40 387.85,155.05 387.89,155.12 387.92,154.91 387.96,156.18 387.99,154.91 388.02,155.95 388.06,155.30 388.09,155.50 388.13,155.23 388.16,155.85 388.20,155.22 388.23,156.17 388.27,155.01 388.30,155.90 388.34,154.60 388.37,155.70 388.40,155.55 388.44,155.57 388.47,155.29 388.51,155.56 388.54,155.60 388.58,155.73 388.61,155.53 388.65,155.07 388.68,155.70 388.71,155.45 388.75,155.68 388.78,155.61 388.82,155.36 388.85,155.39 388.89,155.95 388.92,155.33 388.96,155.53 388.99,155.40 389.03,154.59 389.06,155.48 389.09,156.15 389.13,155.01 389.16,155.86 389.20,155.76 389.23,155.74 389.27,155.26 389.30,156.16 389.34,155.75 389.37,155.86 389.40,155.27 389.44,155.42 389.47,155.55 389.51,155.54 389.54,155.90 389.58,155.98 389.61,155.18 389.65,155.75 389.68,155.53 389.72,155.77 389.75,156.04 389.78,156.05 389.82,155.37 389.85,154.75 389.89,155.56 389.92,154.92 389.96,155.60 389.99,155.56 390.03,155.33 390.06,155.93 390.10,155.55 390.13,155.70 390.16,155.34 390.20,156.34 390.23,155.12 390.27,155.15 390.30,155.41 390.34,155.40 390.37,155.60 390.41,155.63 390.44,155.42 390.47,156.05 390.51,155.85 390.54,155.72 390.58,154.67 390.61,155.67 390.65,154.75 390.68,155.79 390.72,156.83 390.75,155.59 390.79,155.49 390.82,154.79 390.85,155.85 390.89,155.35 390.92,155.86 390.96,155.38 390.99,155.30 391.03,155.88 391.06,155.14 391.10,155.32 391.13,155.84 391.16,155.11 391.20,155.79 391.23,155.28 391.27,155.70 391.30,155.82 391.34,155.03 391.37,154.79 391.41,155.11 391.44,155.24 391.48,155.63 391.51,154.64 391.54,155.43 391.58,155.30 391.61,155.75 391.65,155.96 391.68,155.31 391.72,155.22 391.75,155.88 391.79,155.69 391.82,155.50 391.86,155.46 391.89,155.96 391.92,156.11 391.96,155.73 391.99,155.40 392.03,155.25 392.06,155.67 392.10,154.82 392.13,156.00 392.17,155.70 392.20,155.50 392.23,155.45 392.27,155.40 392.30,155.81 392.34,155.83 392.37,156.11 392.41,155.22 392.44,155.80 392.48,155.50 392.51,155.13 392.55,155.48 392.58,156.06 392.61,155.59 392.65,155.41 392.68,154.84 392.72,155.36 392.75,155.80 392.79,154.21 392.82,155.09 392.86,155.34 392.89,155.86 392.92,156.01 392.96,155.54 392.99,155.42 393.03,155.72 393.06,155.32 393.10,155.57 393.13,156.14 393.17,154.83 393.20,156.22 393.24,155.09 393.27,155.72 393.30,156.38 393.34,155.87 393.37,155.05 393.41,156.10 393.44,155.72 393.48,154.98 393.51,155.93 393.55,155.25 393.58,156.09 393.61,155.54 393.65,155.63 393.68,155.53 393.72,155.81 393.75,155.02 393.79,156.17 393.82,155.01 393.86,155.54 393.89,155.84 393.93,155.32 393.96,155.25 393.99,155.51 394.03,155.66 394.06,154.75 394.10,155.43 394.13,155.89 394.17,154.76 394.20,155.17 394.24,155.47 394.27,155.91 394.31,155.11 394.34,155.67 394.37,155.62 394.41,155.65 394.44,156.03 394.48,154.66 394.51,155.34 394.55,155.11 394.58,155.73 394.62,154.94 394.65,156.64 394.68,155.70 394.72,156.56 394.75,155.39 394.79,155.22 394.82,155.29 394.86,156.03 394.89,155.51 394.93,155.58 394.96,155.38 395.00,155.03 395.03,155.73 395.06,155.17 395.10,155.21 395.13,155.15 395.17,155.79 395.20,155.76 395.24,155.65 395.27,155.91 395.31,155.79 395.34,155.82 395.37,155.36 395.41,155.71 395.44,155.21 395.48,155.67 395.51,154.78 395.55,155.47 395.58,155.50 395.62,155.96 395.65,155.14 395.69,155.02 395.72,155.58 395.75,155.18 395.79,154.80 395.82,155.79 395.86,155.15 395.89,155.55 395.93,155.50 395.96,155.89 396.00,155.50 396.03,155.48 396.07,155.16 396.10,155.67 396.13,155.61 396.17,154.63 396.20,155.39 396.24,155.22 396.27,155.32 396.31,155.91 396.34,155.43 396.38,155.40 396.41,156.06 396.44,154.67 396.48,155.66 396.51,155.71 396.55,155.36 396.58,155.19 396.62,155.15 396.65,155.41 396.69,154.87 396.72,155.22 396.76,155.42 396.79,155.21 396.82,155.59 396.86,155.54 396.89,155.28 396.93,155.69 396.96,155.72 397.00,155.40 397.03,155.50 397.07,155.50 397.10,155.72 397.13,154.85 397.17,155.52 397.20,155.14 397.24,155.23 397.27,155.83 397.31,155.39 397.34,155.28 397.38,155.03 397.41,156.06 397.45,155.92 397.48,155.06 397.51,155.83 397.55,155.85 397.58,155.20 397.62,155.52 397.65,155.02 397.69,156.25 397.72,155.09 397.76,155.11 397.79,155.61 397.83,155.68 397.86,155.05 397.89,155.87 397.93,154.55 397.96,155.12 398.00,155.94 398.03,155.45 398.07,155.32 398.10,155.05 398.14,155.64 398.17,155.30 398.20,155.49 398.24,155.56 398.27,155.59 398.31,155.19 398.34,155.43 398.38,155.24 398.41,155.25 398.45,155.39 398.48,154.75 398.52,155.01 398.55,155.17 398.58,155.80 398.62,154.94 398.65,155.32 398.69,155.34 398.72,155.70 398.76,155.53 398.79,154.77 398.83,155.42 398.86,155.68 398.89,155.60 398.93,155.86 398.96,155.44 399.00,155.88 399.03,155.93 399.07,155.15 399.10,155.73 399.14,155.31 399.17,155.99 399.21,155.82 399.24,155.44 399.27,155.61 399.31,155.61 399.34,155.65 399.38,156.42 399.41,155.49 399.45,155.64 399.48,156.31 399.52,155.39 399.55,155.29 399.58,154.95 399.62,155.67 399.65,155.38 399.69,156.35 399.72,154.75 399.76,155.69 399.79,155.52 399.83,155.70 399.86,156.01 399.90,156.25 399.93,155.47 399.96,156.20 400.00,155.39 400.03,155.90 400.07,155.46 400.10,155.70 400.14,155.85 400.17,155.90 400.21,155.41 400.24,155.33 400.28,155.16 400.31,156.17 400.34,155.77 400.38,155.65 400.41,155.10 400.45,155.68 400.48,156.34 400.52,155.81 400.55,156.49 400.59,155.16 400.62,155.64 400.65,155.39 400.69,156.66 400.72,155.75 400.76,156.06 400.79,155.66 400.83,155.25 400.86,156.05 400.90,155.09 400.93,155.69 400.97,155.33 401.00,155.81 401.03,155.57 401.07,155.16 401.10,156.61 401.14,155.32 401.17,155.40 401.21,155.27 401.24,155.37 401.28,155.84 401.31,155.70 401.34,156.08 401.38,155.46 401.41,155.36 401.45,155.99 401.48,156.03 401.52,155.78 401.55,155.69 401.59,155.58 401.62,155.16 401.66,155.95 401.69,155.65 401.72,155.61 401.76,155.37 401.79,156.15 401.83,155.38 401.86,155.73 401.90,156.26 401.93,155.09 401.97,155.87 402.00,155.91 402.04,155.78 402.07,155.45 402.10,155.59 402.14,155.01 402.17,155.30 402.21,155.90 402.24,155.58 402.28,156.30 402.31,155.95 402.35,155.54 402.38,155.39 402.41,155.34 402.45,155.87 402.48,155.60 402.52,155.59 402.55,155.36 402.59,155.32 402.62,155.61 402.66,155.08 402.69,155.93 402.73,155.45 402.76,155.64 402.79,155.63 402.83,154.44 402.86,155.58 402.90,154.96 402.93,155.51 402.97,155.71 403.00,155.00 403.04,155.90 403.07,155.60 403.10,155.47 403.14,155.93 403.17,154.81 403.21,155.57 403.24,155.21 403.28,155.77 403.31,155.40 403.35,155.41 403.38,154.93 403.42,155.54 403.45,155.68 403.48,155.01 403.52,155.44 403.55,155.86 403.59,155.35 403.62,155.29 403.66,154.93 403.69,155.03 403.73,155.00 403.76,154.78 403.80,155.66 403.83,155.08 403.86,155.37 403.90,155.58 403.93,155.24 403.97,155.78 404.00,155.37 404.04,155.76 404.07,155.12 404.11,155.10 404.14,155.93 404.17,155.10 404.21,155.32 404.24,154.86 404.28,154.79 404.31,155.41 404.35,155.21 404.38,155.36 404.42,154.60 404.45,154.72 404.49,154.44 404.52,155.16 404.55,154.71 404.59,154.96 404.62,154.69 404.66,155.14 404.69,155.22 404.73,154.38 404.76,155.37 404.80,154.68 404.83,153.98 404.86,155.29 404.90,154.94 404.93,154.65 404.97,155.51 405.00,154.62 405.04,155.25 405.07,155.42 405.11,154.71 405.14,155.08 405.18,154.36 405.21,154.37 405.24,154.34 405.28,154.94 405.31,154.88 405.35,154.47 405.38,155.27 405.42,154.31 405.45,154.19 405.49,153.92 405.52,154.43 405.55,154.74 405.59,153.87 405.62,154.71 405.66,153.99 405.69,154.23 405.73,154.92 405.76,154.11 405.80,153.93 405.83,153.75 405.87,153.72 405.90,154.51 405.93,153.63 405.97,153.98 406.00,153.87 406.04,153.25 406.07,154.02 406.11,153.01 406.14,153.22 406.18,153.96 406.21,153.48 406.25,153.46 406.28,153.26 406.31,152.78 406.35,152.42 406.38,152.08 406.42,152.64 406.45,152.13 406.49,152.50 406.52,152.19 406.56,152.07 406.59,151.44 406.62,152.17 406.66,151.63 406.69,151.72 406.73,150.87 406.76,150.67 406.80,150.28 406.83,151.05 406.87,150.20 406.90,149.79 406.94,149.11 406.97,149.22 407.00,148.11 407.04,147.58 407.07,147.19 407.11,147.54 407.14,146.24 407.18,144.40 407.21,143.75 407.25,142.89 407.28,141.46 407.31,139.26 407.35,136.95 407.38,135.31 407.42,131.88 407.45,128.19 407.49,124.38 407.52,120.71 407.56,116.28 407.59,110.26 407.63,104.99 407.66,97.60 407.69,90.91 407.73,84.48 407.76,76.09 407.80,68.23 407.83,60.78 407.87,51.55 407.90,44.74 407.94,38.04 407.97,32.01 408.01,27.89 408.04,25.30 408.07,23.89 408.11,25.25 408.14,27.37 408.18,32.60 408.21,38.21 408.25,44.08 408.28,52.13 408.32,60.18 408.35,67.40 408.38,75.99 408.42,84.23 408.45,91.33 408.49,97.90 408.52,104.29 408.56,110.87 408.59,115.72 408.63,120.79 408.66,124.78 408.70,128.70 408.73,131.57 408.76,134.72 408.80,136.62 408.83,139.27 408.87,140.58 408.90,142.83 408.94,144.23 408.97,144.61 409.01,146.02 409.04,146.60 409.07,147.47 409.11,147.27 409.14,148.18 409.18,148.54 409.21,149.55 409.25,149.61 409.28,150.08 409.32,150.19 409.35,150.21 409.39,150.71 409.42,151.23 409.45,150.39 409.49,150.92 409.52,151.86 409.56,151.99 409.59,151.71 409.63,152.05 409.66,152.00 409.70,152.35 409.73,152.81 409.77,152.70 409.80,152.79 409.83,152.76 409.87,152.97 409.90,153.92 409.94,153.27 409.97,152.54 410.01,153.39 410.04,152.56 410.08,153.43 410.11,153.94 410.14,153.69 410.18,153.30 410.21,153.54 410.25,153.30 410.28,153.62 410.32,153.41 410.35,153.91 410.39,154.40 410.42,153.50 410.46,153.51 410.49,153.92 410.52,154.60 410.56,154.06 410.59,153.66 410.63,154.23 410.66,154.30 410.70,154.58 410.73,153.82 410.77,153.75 410.80,154.45 410.83,153.83 410.87,154.20 410.90,153.40 410.94,154.28 410.97,154.97 411.01,154.69 411.04,153.91 411.08,154.65 411.11,155.16 411.15,153.79 411.18,154.63 411.21,154.88 411.25,154.09 411.28,154.97 411.32,154.02 411.35,153.48 411.39,154.36 411.42,154.62 411.46,154.77 411.49,154.76 411.52,153.44 411.56,154.39 411.59,154.36 411.63,154.62 411.66,154.89 411.70,154.22 411.73,154.64 411.77,154.31 411.80,154.78 411.84,154.65 411.87,154.67 411.90,155.11 411.94,154.53 411.97,154.11 412.01,154.88 412.04,154.56 412.08,154.75 412.11,153.85 412.15,154.36 412.18,155.28 412.22,154.16 412.25,153.75 412.28,153.87 412.32,153.66 412.35,154.00 412.39,153.93 412.42,154.26 412.46,154.30 412.49,154.04 412.53,153.50 412.56,153.49 412.59,154.15 412.63,154.32 412.66,153.43 412.70,153.81 412.73,154.27 412.77,153.68 412.80,153.81 412.84,154.23 412.87,154.07 412.91,154.21 412.94,153.24 412.97,153.56 413.01,153.25 413.04,153.41 413.08,153.45 413.11,153.35 413.15,153.38 413.18,153.86 413.22,153.21 413.25,153.08 413.28,153.21 413.32,152.90 413.35,152.86 413.39,152.62 413.42,152.56 413.46,152.02 413.49,151.74 413.53,151.66 413.56,151.98 413.60,152.19 413.63,151.46 413.66,151.55 413.70,151.42 413.73,150.79 413.77,150.48 413.80,150.34 413.84,149.24 413.87,149.52 413.91,149.23 413.94,148.39 413.98,147.77 414.01,147.50 414.04,146.29 414.08,145.89 414.11,145.02 414.15,143.42 414.18,141.34 414.22,140.21 414.25,138.56 414.29,135.78 414.32,132.47 414.35,129.29 414.39,125.91 414.42,121.92 414.46,117.34 414.49,112.23 414.53,107.28 414.56,102.33 414.60,95.47 414.63,89.58 414.67,84.18 414.70,78.20 414.73,71.99 414.77,65.64 414.80,61.29 414.84,58.72 414.87,55.28 414.91,53.88 414.94,54.49 414.98,55.68 415.01,59.75 415.04,63.03 415.08,68.03 415.11,73.50 415.15,79.91 415.18,85.52 415.22,92.49 415.25,97.90 415.29,104.07 415.32,109.20 415.36,113.80 415.39,119.45 415.42,123.74 415.46,127.28 415.49,131.16 415.53,133.92 415.56,135.97 415.60,138.90 415.63,140.40 415.67,142.11 415.70,144.92 415.73,145.71 415.77,146.01 415.80,146.55 415.84,147.71 415.87,148.41 415.91,149.31 415.94,149.38 415.98,149.94 416.01,149.81 416.05,149.99 416.08,150.72 416.11,152.04 416.15,151.34 416.18,151.23 416.22,151.86 416.25,151.34 416.29,152.46 416.32,152.94 416.36,152.07 416.39,152.84 416.43,153.12 416.46,152.96 416.49,153.39 416.53,153.20 416.56,153.47 416.60,153.44 416.63,152.97 416.67,153.86 416.70,153.38 416.74,153.37 416.77,153.84 416.80,154.26 416.84,153.59 416.87,153.50 416.91,154.15 416.94,154.21 416.98,154.19 417.01,154.05 417.05,154.10 417.08,154.31 417.12,153.95 417.15,154.09 417.18,154.46 417.22,153.87 417.25,154.09 417.29,153.75 417.32,154.66 417.36,153.90 417.39,154.62 417.43,154.73 417.46,154.62 417.49,155.33 417.53,154.35 417.56,154.44 417.60,155.06 417.63,154.87 417.67,154.28 417.70,154.85 417.74,154.93 417.77,154.60 417.81,154.93 417.84,155.33 417.87,155.11 417.91,155.56 417.94,155.20 417.98,155.04 418.01,155.13 418.05,155.14 418.08,155.78 418.12,155.01 418.15,154.76 418.19,155.20 418.22,155.42 418.25,154.72 418.29,155.46 418.32,154.79 418.36,155.54 418.39,155.53 418.43,155.47 418.46,154.74 418.50,154.69 418.53,155.73 418.56,154.93 418.60,154.83 418.63,155.90 418.67,155.40 418.70,155.55 418.74,154.68 418.77,155.58 418.81,156.05 418.84,155.71 418.88,155.03 418.91,155.71 418.94,154.90 418.98,155.16 419.01,154.97 419.05,155.62 419.08,155.14 419.12,155.57 419.15,155.44 419.19,155.51 419.22,155.13 419.25,155.50 419.29,154.66 419.32,155.88 419.36,155.38 419.39,155.20 419.43,155.54 419.46,154.58 419.50,155.35 419.53,154.98 419.57,155.12 419.60,155.32 419.63,155.83 419.67,155.87 419.70,155.85 419.74,155.48 419.77,155.47 419.81,154.98 419.84,156.05 419.88,155.89 419.91,155.12 419.95,154.94 419.98,155.37 420.01,155.47 420.05,154.74 420.08,155.55 420.12,155.55 420.15,155.10 420.19,155.03 420.22,155.75 420.26,154.96 420.29,155.64 420.32,155.18 420.36,155.34 420.39,156.06 420.43,155.29 420.46,155.68 420.50,155.70 420.53,155.73 420.57,155.51 420.60,155.85 420.64,155.79 420.67,155.77 420.70,155.12 420.74,155.58 420.77,155.89 420.81,154.92 420.84,155.44 420.88,155.73 420.91,155.95 420.95,155.68 420.98,155.02 421.01,155.79 421.05,155.88 421.08,155.86 421.12,155.25 421.15,155.12 421.19,155.41 421.22,155.28 421.26,156.01 421.29,155.43 421.33,156.26 421.36,155.42 421.39,156.38 421.43,156.39 421.46,155.73 421.50,155.70 421.53,155.41 421.57,155.99 421.60,155.04 421.64,156.28 421.67,155.43 421.70,155.48 421.74,155.75 421.77,156.04 421.81,155.43 421.84,155.51 421.88,155.96 421.91,155.21 421.95,154.50 421.98,155.95 422.02,155.04 422.05,155.01 422.08,155.51 422.12,155.05 422.15,155.14 422.19,155.47 422.22,155.15 422.26,155.88 422.29,156.04 422.33,155.88 422.36,155.72 422.40,154.81 422.43,156.52 422.46,155.26 422.50,155.92 422.53,155.31 422.57,155.07 422.60,155.79 422.64,155.44 422.67,155.06 422.71,155.69 422.74,156.09 422.77,155.65 422.81,155.30 422.84,155.67 422.88,155.96 422.91,155.08 422.95,155.74 422.98,156.07 423.02,156.14 423.05,155.87 423.09,155.28 423.12,155.60 423.15,155.49 423.19,155.79 423.22,155.67 423.26,155.08 423.29,155.54 423.33,155.60 423.36,155.35 423.40,156.01 423.43,155.85 423.46,156.12 423.50,155.46 423.53,155.25 423.57,155.36 423.60,155.34 423.64,156.08 423.67,155.68 423.71,155.00 423.74,155.35 423.78,154.92 423.81,155.32 423.84,154.78 423.88,155.81 423.91,156.19 423.95,156.10 423.98,155.97 424.02,155.66 424.05,155.74 424.09,155.30 424.12,155.56 424.16,155.30 424.19,154.88 424.22,155.45 424.26,156.30 424.29,155.31 424.33,155.18 424.36,154.97 424.40,155.30 424.43,155.28 424.47,155.34 424.50,155.03 424.53,154.78 424.57,156.14 424.60,155.45 424.64,155.16 424.67,155.70 424.71,155.01 424.74,154.99 424.78,154.99 424.81,154.95 424.85,155.13 424.88,155.15 424.91,155.00 424.95,154.94 424.98,154.78 425.02,154.62 425.05,154.96 425.09,154.68 425.12,154.54 425.16,154.79 425.19,154.32 425.22,154.26 425.26,154.51 425.29,153.96 425.33,153.90 425.36,154.61 425.40,153.83 425.43,153.84 425.47,154.07 425.50,153.79 425.54,153.08 425.57,152.77 425.60,153.52 425.64,153.54 425.67,153.95 425.71,154.15 425.74,153.93 425.78,154.03 425.81,153.72 425.85,153.28 425.88,154.37 425.92,154.48 425.95,154.00 425.98,155.00 426.02,153.71 426.05,154.34 426.09,154.63 426.12,154.64 426.16,154.70 426.19,155.11 426.23,154.98 426.26,154.79 426.29,154.90 426.33,155.60 426.36,155.41 426.40,155.25 426.43,155.60 426.47,155.14 426.50,155.76 426.54,155.41 426.57,155.24 426.61,155.52 426.64,155.24 426.67,155.84 426.71,155.31 426.74,154.85 426.78,155.06 426.81,154.51 426.85,156.06 426.88,155.36 426.92,155.39 426.95,155.06 426.98,155.08 427.02,155.78 427.05,155.29 427.09,155.76 427.12,155.64 427.16,155.58 427.19,155.49 427.23,156.12 427.26,155.02 427.30,155.96 427.33,155.37 427.36,155.23 427.40,155.34 427.43,155.03 427.47,155.60 427.50,155.36 427.54,155.49 427.57,155.08 427.61,155.87 427.64,155.38 427.67,155.00 427.71,154.45 427.74,154.87 427.78,155.80 427.81,155.57 427.85,154.90 427.88,155.56 427.92,155.67 427.95,155.04 427.99,155.20 428.02,155.34 428.05,154.86 428.09,155.84 428.12,155.93 428.16,154.71 428.19,155.86 428.23,155.38 428.26,155.54 428.30,155.23 428.33,155.53 428.37,155.13 428.40,154.72 428.43,154.90 428.47,155.12 428.50,155.33 428.54,154.63 428.57,155.87 428.61,155.71 428.64,154.95 428.68,155.01 428.71,154.31 428.74,154.36 428.78,155.35 428.81,154.88 428.85,155.21 428.88,154.15 428.92,154.82 428.95,154.48 428.99,154.34 429.02,153.62 429.06,153.82 429.09,154.36 429.12,153.75 429.16,153.24 429.19,154.06 429.23,153.56 429.26,152.29 429.30,152.28 429.33,152.34 429.37,152.09 429.40,151.60 429.43,151.38 429.47,151.25 429.50,149.20 429.54,149.07 429.57,148.59 429.61,146.80 429.64,146.37 429.68,144.06 429.71,143.12 429.75,141.58 429.78,140.54 429.81,138.09 429.85,135.76 429.88,134.08 429.92,132.54 429.95,130.39 429.99,128.68 430.02,126.83 430.06,125.42 430.09,124.70 430.13,123.46 430.16,123.31 430.19,123.79 430.23,124.49 430.26,125.61 430.30,127.08 430.33,129.02 430.37,130.74 430.40,132.53 430.44,133.65 430.47,136.78 430.50,138.45 430.54,139.91 430.57,141.39 430.61,143.31 430.64,144.99 430.68,146.51 430.71,147.31 430.75,147.99 430.78,149.03 430.82,149.73 430.85,150.43 430.88,150.94 430.92,151.72 430.95,152.78 430.99,152.04 431.02,152.31 431.06,152.95 431.09,154.18 431.13,153.97 431.16,153.01 431.19,153.19 431.23,154.19 431.26,154.00 431.30,154.59 431.33,153.97 431.37,154.44 431.40,154.79 431.44,155.23 431.47,154.23 431.51,154.96 431.54,154.63 431.57,154.05 431.61,154.69 431.64,154.07 431.68,154.10 431.71,154.58 431.75,154.55 431.78,154.82 431.82,155.01 431.85,155.67 431.89,154.52 431.92,155.20 431.95,155.23 431.99,154.78 432.02,155.74 432.06,155.22 432.09,154.90 432.13,155.79 432.16,155.20 432.20,155.51 432.23,155.51 432.26,155.54 432.30,156.02 432.33,155.32 432.37,155.26 432.40,155.70 432.44,155.69 432.47,155.83 432.51,155.48 432.54,155.46 432.58,154.96 432.61,154.72 432.64,155.44 432.68,155.25 432.71,156.00 432.75,156.37 432.78,155.51 432.82,155.53 432.85,155.61 432.89,155.92 432.92,155.88 432.95,155.88 432.99,155.35 433.02,155.73 433.06,155.42 433.09,155.44 433.13,155.03 433.16,155.78 433.20,156.14 433.23,156.13 433.27,155.69 433.30,155.73 433.33,155.30 433.37,155.10 433.40,156.04 433.44,155.75 433.47,155.28 433.51,155.53 433.54,154.80 433.58,155.64 433.61,155.30 433.64,156.32 433.68,155.94 433.71,155.12 433.75,154.96 433.78,155.55 433.82,156.25 433.85,155.52 433.89,155.37 433.92,155.56 433.96,155.71 433.99,155.71 434.02,155.82 434.06,155.49 434.09,155.78 434.13,155.28 434.16,155.47 434.20,155.90 434.23,155.85 434.27,155.63 434.30,155.30 434.34,155.75 434.37,155.39 434.40,155.52 434.44,155.80 434.47,155.88 434.51,155.36 434.54,155.44 434.58,155.70 434.61,155.63 434.65,156.30 434.68,155.99 434.71,155.90 434.75,155.26 434.78,155.81 434.82,155.74 434.85,156.67 434.89,155.89 434.92,155.74 434.96,155.74 434.99,155.72 435.03,156.21 435.06,155.74 435.09,155.78 435.13,154.66 435.16,155.34 435.20,155.89 435.23,155.49 435.27,155.69 435.30,155.88 435.34,155.72 435.37,155.43 435.40,155.54 435.44,155.22 435.47,156.31 435.51,155.65 435.54,155.24 435.58,156.35 435.61,156.10 435.65,155.21 435.68,155.83 435.72,155.38 435.75,155.82 435.78,155.60 435.82,155.69 435.85,155.79 435.89,155.67 435.92,155.98 435.96,155.91 435.99,155.38 436.03,155.78 436.06,155.31 436.10,156.12 436.13,155.04 436.16,156.45 436.20,155.06 436.23,155.71 436.27,155.54 436.30,155.74 436.34,156.12 436.37,155.79 436.41,155.29 436.44,155.67 436.47,155.00 436.51,155.71 436.54,155.72 436.58,155.14 436.61,155.63 436.65,155.50 436.68,155.18 436.72,155.08 436.75,154.76 436.79,155.32 436.82,155.77 436.85,155.98 436.89,155.58 436.92,155.89 436.96,154.71 436.99,155.40 437.03,155.48 437.06,155.63 437.10,154.87 437.13,155.44 437.16,155.62 437.20,154.57 437.23,154.79 437.27,154.16 437.30,154.82 437.34,154.08 437.37,154.68 437.41,154.52 437.44,154.38 437.48,155.05 437.51,153.85 437.54,153.83 437.58,154.32 437.61,153.85 437.65,153.90 437.68,154.29 437.72,153.32 437.75,153.80 437.79,153.87 437.82,153.90 437.85,153.95 437.89,154.22 437.92,153.28 437.96,153.85 437.99,154.00 438.03,155.26 438.06,153.55 438.10,154.03 438.13,155.04 438.17,154.65 438.20,155.17 438.23,154.41 438.27,155.10 438.30,154.53 438.34,154.88 438.37,154.88 438.41,155.71 438.44,155.03 438.48,155.60 438.51,155.47 438.55,155.54 438.58,155.98 438.61,155.02 438.65,155.58 438.68,155.35 438.72,155.82 438.75,155.78 438.79,155.52 438.82,155.88 438.86,155.36 438.89,155.14 438.92,155.82 438.96,155.67 438.99,154.93 439.03,155.71 439.06,155.91 439.10,156.00 439.13,155.46 439.17,154.97 439.20,155.85 439.24,155.78 439.27,155.46 439.30,155.98 439.34,155.74 439.37,155.39 439.41,155.77 439.44,155.53 439.48,155.75 439.51,155.39 439.55,155.84 439.58,155.03 439.61,155.83 439.65,156.30 439.68,155.73 439.72,155.48 439.75,155.90 439.79,155.54 439.82,155.51 439.86,155.86 439.89,155.45 439.93,156.70 439.96,155.05 439.99,155.48 440.03,156.12 440.06,156.08 440.10,155.52 440.13,155.18 440.17,155.39 440.20,155.95 440.24,156.51 440.27,156.05 440.31,155.87 440.34,155.73 440.37,156.16 440.41,156.02 440.44,155.70 440.48,155.83 440.51,155.95 440.55,155.60 440.58,155.19 440.62,155.38 440.65,154.80 440.68,156.24 440.72,156.10 440.75,155.94 440.79,155.29 440.82,155.48 440.86,156.26 440.89,156.54 440.93,155.46 440.96,155.75 441.00,155.45 441.03,155.73 441.06,155.28 441.10,155.45 441.13,155.38 441.17,155.96 441.20,155.49 441.24,156.08 441.27,155.27 441.31,156.19 441.34,155.60 441.37,156.02 441.41,156.18 441.44,155.58 441.48,155.37 441.51,155.67 441.55,155.72 441.58,156.19 441.62,155.63 441.65,155.77 441.69,155.74 441.72,155.33 441.75,156.31 441.79,155.84 441.82,155.90 441.86,154.76 441.89,156.29 441.93,155.88 441.96,155.51 442.00,155.47 442.03,155.92 442.07,155.85 442.10,156.14 442.13,155.67 442.17,156.21 442.20,155.98 442.24,155.60 442.27,155.60 442.31,154.57 442.34,156.30 442.38,155.97 442.41,155.97 442.44,155.30 442.48,155.23 442.51,156.16 442.55,155.57 442.58,156.25 442.62,155.58 442.65,155.72 442.69,155.81 442.72,155.66 442.76,155.09 442.79,155.64 442.82,156.30 442.86,155.65 442.89,155.87 442.93,155.25 442.96,155.44 443.00,155.59 443.03,155.64 443.07,155.53 443.10,156.03 443.13,155.65 443.17,155.67 443.20,156.55 443.24,156.38 443.27,155.25 443.31,155.37 443.34,156.29 443.38,155.44 443.41,155.76 443.45,156.15 443.48,155.59 443.51,155.64 443.55,155.76 443.58,156.30 443.62,155.91 443.65,155.76 443.69,155.79 443.72,155.68 443.76,156.07 443.79,155.02 443.82,156.10 443.86,155.19 443.89,156.42 443.93,155.21 443.96,155.87 444.00,155.82 444.03,156.45 444.07,155.53 444.10,156.10 444.14,155.32 444.17,155.40 444.20,155.22 444.24,155.16 444.27,156.03 444.31,155.46 444.34,155.50 444.38,155.59 444.41,155.44 444.45,155.25 444.48,156.00 444.52,156.20 444.55,155.60 444.58,154.81 444.62,155.84 444.65,155.32 444.69,155.97 444.72,155.15 444.76,155.77 444.79,155.50 444.83,155.99 444.86,155.36 444.89,155.29 444.93,155.33 444.96,155.60 445.00,156.34 445.03,155.68 445.07,156.02 445.10,156.10 445.14,156.04 445.17,155.94 445.21,155.26 445.24,155.63 445.27,154.59 445.31,155.72 445.34,155.79 445.38,155.36 445.41,156.02 445.45,155.66 445.48,156.00 445.52,155.69 445.55,155.49 445.58,156.14 445.62,155.80 445.65,156.20 445.69,156.13 445.72,156.13 445.76,155.84 445.79,155.38 445.83,155.63 445.86,156.83 445.90,155.73 445.93,156.17 445.96,155.08 446.00,156.07 446.03,156.20 446.07,156.06 446.10,155.22 446.14,155.83 446.17,155.55 446.21,155.43 446.24,155.49 446.28,155.55 446.31,155.12 446.34,156.68 446.38,155.60 446.41,156.23 446.45,155.93 446.48,155.48 446.52,155.88 446.55,155.60 446.59,155.83 446.62,155.30 446.65,155.28 446.69,156.44 446.72,155.79 446.76,155.88 446.79,155.23 446.83,155.35 446.86,155.62 446.90,155.27 446.93,155.45 446.97,155.50 447.00,156.04 447.03,155.21 447.07,155.88 447.10,156.01 447.14,155.10 447.17,155.63 447.21,154.77 447.24,156.21 447.28,155.43 447.31,155.57 447.34,155.82 447.38,155.60 447.41,155.68 447.45,156.00 447.48,155.78 447.52,156.02 447.55,155.89 447.59,155.54 447.62,155.41 447.66,156.34 447.69,156.01 447.72,156.50 447.76,155.71 447.79,155.19 447.83,155.85 447.86,156.12 447.90,156.20 447.93,155.92 447.97,156.11 448.00,155.11 448.04,155.64 448.07,155.90 448.10,155.50 448.14,155.27 448.17,155.39 448.21,155.29 448.24,155.82 448.28,155.10 448.31,155.73 448.35,155.34 448.38,156.32 448.41,155.67 448.45,155.83 448.48,155.87 448.52,155.41 448.55,155.81 448.59,155.52 448.62,155.90 448.66,155.52 448.69,156.02 448.73,155.41 448.76,155.88 448.79,155.88 448.83,155.55 448.86,155.13 448.90,156.05 448.93,156.28 448.97,155.90 449.00,155.82 449.04,155.89 449.07,155.75 449.10,155.43 449.14,154.98 449.17,156.27 449.21,155.41 449.24,155.82 449.28,155.04 449.31,156.09 449.35,155.78 449.38,155.41 449.42,155.20 449.45,155.75 449.48,156.30 449.52,155.40 449.55,155.62 449.59,155.92 449.62,155.60 449.66,155.64 449.69,155.98 449.73,155.44 449.76,155.64 449.79,155.08 449.83,155.77 449.86,156.17 449.90,155.63 449.93,155.75 449.97,155.30 450.00,156.17 450.04,155.93 450.07,155.18 450.11,155.54 450.14,155.13 450.17,155.12 450.21,155.68 450.24,155.52 450.28,155.93 450.31,155.38 450.35,155.56 450.38,155.74 450.42,155.88 450.45,155.39 450.49,155.54 450.52,155.72 450.55,155.50 450.59,155.31 450.62,156.05 450.66,155.92 450.69,155.74 450.73,155.11 450.76,156.14 450.80,155.16 450.83,155.32 450.86,155.66 450.90,155.67 450.93,155.66 450.97,155.17 451.00,155.54 451.04,155.27 451.07,155.94 451.11,155.22 451.14,155.46 451.18,155.32 451.21,156.10 451.24,154.58 451.28,155.69 451.31,156.23 451.35,155.15 451.38,155.41 451.42,155.78 451.45,155.95 451.49,154.91 451.52,155.30 451.55,155.70 451.59,156.04 451.62,155.34 451.66,154.62 451.69,155.53 451.73,155.42 451.76,155.80 451.80,155.41 451.83,155.82 451.87,155.62 451.90,155.40 451.93,155.38 451.97,155.21 452.00,155.06 452.04,155.93 452.07,155.57 452.11,155.72 452.14,155.28 452.18,155.41 452.21,155.60 452.25,154.79 452.28,155.48 452.31,155.52 452.35,154.64 452.38,155.14 452.42,155.15 452.45,155.16 452.49,155.06 452.52,155.25 452.56,154.81 452.59,155.17 452.62,154.49 452.66,154.33 452.69,155.18 452.73,155.57 452.76,154.76 452.80,154.56 452.83,155.22 452.87,154.99 452.90,154.91 452.94,154.63 452.97,154.85 453.00,154.35 453.04,154.71 453.07,154.35 453.11,154.83 453.14,154.79 453.18,154.28 453.21,154.55 453.25,155.00 453.28,154.24 453.31,154.60 453.35,153.90 453.38,154.18 453.42,154.72 453.45,154.44 453.49,154.50 453.52,154.04 453.56,154.71 453.59,154.75 453.63,153.96 453.66,154.00 453.69,153.45 453.73,153.61 453.76,153.08 453.80,153.22 453.83,152.87 453.87,153.26 453.90,153.87 453.94,153.30 453.97,153.78 454.00,152.49 454.04,152.03 454.07,152.40 454.11,152.61 454.14,151.55 454.18,151.25 454.21,151.24 454.25,150.52 454.28,150.17 454.32,149.72 454.35,148.90 454.38,147.90 454.42,147.48 454.45,146.83 454.49,145.03 454.52,143.31 454.56,142.57 454.59,140.34 454.63,138.44 454.66,136.29 454.70,134.08 454.73,131.40 454.76,129.25 454.80,126.44 454.83,123.33 454.87,120.50 454.90,116.73 454.94,113.55 454.97,111.05 455.01,106.97 455.04,105.30 455.07,103.30 455.11,101.04 455.14,99.93 455.18,100.83 455.21,101.51 455.25,100.87 455.28,103.03 455.32,105.52 455.35,108.42 455.39,110.15 455.42,113.07 455.45,116.59 455.49,119.49 455.52,123.82 455.56,125.95 455.59,129.13 455.63,131.52 455.66,134.37 455.70,136.60 455.73,138.84 455.76,140.82 455.80,142.30 455.83,143.89 455.87,145.17 455.90,146.38 455.94,146.99 455.97,147.96 456.01,148.74 456.04,149.55 456.08,150.58 456.11,150.96 456.14,150.93 456.18,151.38 456.21,151.47 456.25,151.92 456.28,152.03 456.32,152.26 456.35,152.59 456.39,152.94 456.42,153.05 456.46,153.56 456.49,153.85 456.52,152.93 456.56,154.15 456.59,153.86 456.63,153.98 456.66,153.96 456.70,153.95 456.73,154.70 456.77,153.43 456.80,153.28 456.83,154.44 456.87,154.82 456.90,154.06 456.94,154.30 456.97,154.28 457.01,154.96 457.04,154.85 457.08,154.58 457.11,155.45 457.15,155.08 457.18,154.34 457.21,154.70 457.25,154.70 457.28,155.35 457.32,155.32 457.35,154.94 457.39,154.56 457.42,155.24 457.46,154.88 457.49,155.46 457.52,155.45 457.56,155.34 457.59,155.16 457.63,154.93 457.66,155.35 457.70,156.00 457.73,155.47 457.77,155.32 457.80,155.00 457.84,155.22 457.87,155.65 457.90,154.91 457.94,155.64 457.97,155.31 458.01,155.30 458.04,155.25 458.08,154.96 458.11,155.33 458.15,154.99 458.18,155.26 458.22,155.00 458.25,154.96 458.28,156.01 458.32,155.22 458.35,155.71 458.39,155.72 458.42,155.49 458.46,155.47 458.49,155.71 458.53,155.83 458.56,155.19 458.59,155.91 458.63,154.74 458.66,155.66 458.70,155.94 458.73,155.74 458.77,155.04 458.80,155.94 458.84,155.38 458.87,154.27 458.91,155.68 458.94,155.87 458.97,155.37 459.01,154.53 459.04,155.34 459.08,155.37 459.11,155.39 459.15,156.02 459.18,155.64 459.22,155.22 459.25,155.57 459.28,154.88 459.32,155.69 459.35,155.92 459.39,156.01 459.42,154.52 459.46,154.87 459.49,155.57 459.53,155.22 459.56,154.92 459.60,155.42 459.63,155.21 459.66,156.00 459.70,156.18 459.73,155.24 459.77,155.80 459.80,155.00 459.84,155.81 459.87,154.97 459.91,155.75 459.94,155.64 459.97,155.58 460.01,155.66 460.04,155.68 460.08,155.50 460.11,155.69 460.15,155.78 460.18,155.98 460.22,155.82 460.25,156.10 460.29,155.52 460.32,156.03 460.35,155.98 460.39,155.78 460.42,155.69 460.46,155.34 460.49,155.64 460.53,155.73 460.56,155.79 460.60,155.71 460.63,155.84 460.67,155.14 460.70,155.67 460.73,156.17 460.77,155.73 460.80,155.50 460.84,155.27 460.87,155.57 460.91,155.11 460.94,156.18 460.98,154.97 461.01,155.75 461.04,155.53 461.08,155.39 461.11,156.45 461.15,155.10 461.18,155.93 461.22,155.32 461.25,155.50 461.29,155.43 461.32,155.17 461.36,155.67 461.39,155.26 461.42,155.34 461.46,155.85 461.49,155.19 461.53,155.44 461.56,155.92 461.60,155.24 461.63,155.13 461.67,154.97 461.70,156.13 461.73,155.16 461.77,155.28 461.80,155.90 461.84,155.69 461.87,155.16 461.91,155.41 461.94,154.81 461.98,155.67 462.01,155.04 462.05,155.79 462.08,156.03 462.11,155.31 462.15,155.11 462.18,155.40 462.22,155.44 462.25,155.31 462.29,155.19 462.32,155.76 462.36,155.52 462.39,154.98 462.43,155.51 462.46,155.33 462.49,155.89 462.53,155.74 462.56,155.53 462.60,155.38 462.63,155.22 462.67,155.43 462.70,155.90 462.74,154.30 462.77,155.67 462.80,155.50 462.84,155.88 462.87,155.05 462.91,155.45 462.94,155.34 462.98,155.38 463.01,155.73 463.05,156.17 463.08,155.90 463.12,154.94 463.15,155.32 463.18,155.52 463.22,155.15 463.25,155.46 463.29,155.16 463.32,155.39 463.36,155.74 463.39,155.32 463.43,155.24 463.46,155.60 463.49,155.95 463.53,155.41 463.56,155.35 463.60,155.72 463.63,155.50 463.67,155.60 463.70,155.89 463.74,156.52 463.77,155.33 463.81,155.62 463.84,155.25 463.87,155.16 463.91,155.72 463.94,156.44 463.98,155.20 464.01,155.79 464.05,155.52 464.08,155.39 464.12,155.82 464.15,154.96 464.19,154.92 464.22,155.17 464.25,155.81 464.29,155.36 464.32,155.43 464.36,154.31 464.39,155.16 464.43,154.81 464.46,155.55 464.50,155.32 464.53,154.59 464.56,154.93 464.60,154.76 464.63,155.73 464.67,155.38 464.70,154.98 464.74,155.33 464.77,155.03 464.81,154.87 464.84,154.99 464.88,154.93 464.91,155.49 464.94,155.17 464.98,155.25 465.01,155.47 465.05,154.59 465.08,155.24 465.12,154.56 465.15,155.02 465.19,154.51 465.22,154.84 465.25,155.79 465.29,155.00 465.32,154.76 465.36,155.18 465.39,154.78 465.43,155.23 465.46,154.70 465.50,155.07 465.53,154.14 465.57,154.12 465.60,155.63 465.63,154.81 465.67,154.83 465.70,153.89 465.74,154.17 465.77,154.81 465.81,154.96 465.84,154.40 465.88,154.36 465.91,154.20 465.94,154.71 465.98,153.83 466.01,154.48 466.05,155.65 466.08,155.26 466.12,153.85 466.15,154.08 466.19,154.90 466.22,153.51 466.26,154.64 466.29,155.05 466.32,153.89 466.36,154.14 466.39,153.51 466.43,154.29 466.46,153.68 466.50,153.68 466.53,153.90 466.57,153.78 466.60,153.04 466.64,153.16 466.67,153.09 466.70,153.96 466.74,153.33 466.77,152.47 466.81,153.39 466.84,152.59 466.88,152.32 466.91,152.59 466.95,151.11 466.98,152.51 467.01,152.26 467.05,151.78 467.08,151.47 467.12,150.98 467.15,151.28 467.19,149.97 467.22,150.09 467.26,148.86 467.29,148.46 467.33,147.95 467.36,148.16 467.39,145.84 467.43,145.23 467.46,143.80 467.50,142.70 467.53,141.19 467.57,140.22 467.60,138.42 467.64,135.87 467.67,133.73 467.70,130.71 467.74,127.47 467.77,125.25 467.81,121.86 467.84,118.58 467.88,113.78 467.91,111.50 467.95,106.81 467.98,103.90 468.02,99.30 468.05,95.43 468.08,92.30 468.12,89.15 468.15,86.53 468.19,84.66 468.22,83.63 468.26,83.59 468.29,83.26 468.33,84.04 468.36,85.70 468.40,88.39 468.43,91.68 468.46,94.44 468.50,98.63 468.53,101.94 468.57,105.76 468.60,109.58 468.64,113.08 468.67,117.39 468.71,120.20 468.74,124.26 468.77,127.11 468.81,129.67 468.84,132.59 468.88,134.95 468.91,137.30 468.95,138.41 468.98,141.33 469.02,142.41 469.05,143.99 469.09,144.89 469.12,145.86 469.15,147.29 469.19,147.87 469.22,148.63 469.26,149.29 469.29,149.54 469.33,150.23 469.36,150.96 469.40,150.81 469.43,151.27 469.46,151.43 469.50,151.54 469.53,151.76 469.57,152.55 469.60,152.39 469.64,152.68 469.67,153.13 469.71,153.42 469.74,153.32 469.78,153.30 469.81,152.90 469.84,153.42 469.88,153.26 469.91,153.77 469.95,153.58 469.98,153.63 470.02,153.43 470.05,154.29 470.09,153.79 470.12,153.14 470.16,153.64 470.19,153.83 470.22,154.97 470.26,154.67 470.29,154.38 470.33,154.57 470.36,154.30 470.40,154.58 470.43,154.46 470.47,154.40 470.50,154.61 470.53,154.46 470.57,154.16 470.60,154.06 470.64,155.03 470.67,154.88 470.71,154.39 470.74,154.85 470.78,154.62 470.81,155.10 470.85,154.16 470.88,155.05 470.91,155.19 470.95,155.05 470.98,155.29 471.02,154.94 471.05,155.14 471.09,155.45 471.12,155.14 471.16,154.89 471.19,155.43 471.22,155.51 471.26,155.35 471.29,155.47 471.33,155.29 471.36,155.14 471.40,154.73 471.43,155.27 471.47,154.89 471.50,154.20 471.54,154.71 471.57,155.06 471.60,155.52 471.64,155.31 471.67,155.01 471.71,155.53 471.74,155.01 471.78,155.04 471.81,155.49 471.85,155.33 471.88,155.63 471.91,155.26 471.95,154.67 471.98,155.37 472.02,155.50 472.05,155.79 472.09,154.72 472.12,155.59 472.16,155.27 472.19,155.49 472.23,155.43 472.26,155.01 472.29,155.30 472.33,155.45 472.36,154.89 472.40,155.08 472.43,155.34 472.47,156.11 472.50,155.41 472.54,155.15 472.57,155.56 472.61,154.91 472.64,156.04 472.67,155.36 472.71,156.41 472.74,155.90 472.78,154.91 472.81,154.92 472.85,155.53 472.88,155.36 472.92,155.60 472.95,154.89 472.98,154.99 473.02,155.81 473.05,155.83 473.09,155.62 473.12,155.64 473.16,155.13 473.19,155.77 473.23,155.86 473.26,155.43 473.30,155.17 473.33,155.10 473.36,156.19 473.40,155.45 473.43,155.74 473.47,155.89 473.50,155.28 473.54,155.48 473.57,155.62 473.61,155.39 473.64,155.61 473.67,155.74 473.71,155.36 473.74,155.59 473.78,155.23 473.81,155.56 473.85,155.91 473.88,155.42 473.92,154.90 473.95,155.45 473.99,155.54 474.02,156.08 474.05,155.55 474.09,155.61 474.12,155.48 474.16,155.41 474.19,155.74 474.23,155.72 474.26,155.96 474.30,155.01 474.33,155.93 474.37,155.79 474.40,155.80 474.43,155.14 474.47,155.74 474.50,156.25 474.54,155.16 474.57,155.36 474.61,155.01 474.64,155.47 474.68,155.42 474.71,156.25 474.74,155.05 474.78,155.51 474.81,154.76 474.85,155.76 474.88,155.82 474.92,155.77 474.95,155.37 474.99,155.62 475.02,155.98 475.06,155.60 475.09,155.44 475.12,155.13 475.16,155.96 475.19,155.45 475.23,155.44 475.26,155.55 475.30,154.95 475.33,155.61 475.37,155.78 475.40,156.12 475.43,155.86 475.47,155.75 475.50,155.67 475.54,155.07 475.57,155.08 475.61,155.74 475.64,155.28 475.68,155.21 475.71,155.09 475.75,155.31 475.78,155.95 475.81,155.93 475.85,155.29 475.88,155.01 475.92,155.33 475.95,155.27 475.99,155.10 476.02,155.19 476.06,155.24 476.09,155.19 476.12,155.30 476.16,155.69 476.19,155.67 476.23,155.61 476.26,155.45 476.30,155.77 476.33,155.00 476.37,155.23 476.40,155.25 476.44,155.50 476.47,155.27 476.50,154.53 476.54,154.95 476.57,155.13 476.61,154.49 476.64,155.40 476.68,154.56 476.71,154.76 476.75,155.03 476.78,155.39 476.82,155.23 476.85,154.83 476.88,155.22 476.92,155.28 476.95,155.15 476.99,154.87 477.02,154.21 477.06,154.38 477.09,154.08 477.13,155.05 477.16,154.84 477.19,154.43 477.23,154.55 477.26,153.98 477.30,154.25 477.33,153.86 477.37,154.39 477.40,153.58 477.44,152.95 477.47,152.99 477.51,153.19 477.54,152.63 477.57,152.51 477.61,152.33 477.64,151.37 477.68,151.85 477.71,151.05 477.75,150.03 477.78,149.99 477.82,149.00 477.85,148.26 477.88,148.33 477.92,147.57 477.95,147.35 477.99,145.34 478.02,144.75 478.06,144.57 478.09,143.63 478.13,143.09 478.16,141.03 478.20,141.65 478.23,140.75 478.26,140.63 478.30,140.77 478.33,140.47 478.37,140.76 478.40,142.11 478.44,141.41 478.47,141.76 478.51,141.69 478.54,143.19 478.58,143.11 478.61,144.78 478.64,145.47 478.68,146.71 478.71,145.90 478.75,147.54 478.78,148.40 478.82,148.60 478.85,149.38 478.89,149.90 478.92,149.76 478.95,150.92 478.99,150.98 479.02,151.82 479.06,152.25 479.09,151.84 479.13,152.54 479.16,153.15 479.20,152.44 479.23,153.93 479.27,154.09 479.30,153.53 479.33,153.62 479.37,153.77 479.40,154.21 479.44,154.76 479.47,154.44 479.51,155.50 479.54,154.32 479.58,154.92 479.61,155.74 479.64,154.74 479.68,154.80 479.71,155.30 479.75,154.83 479.78,155.12 479.82,154.89 479.85,155.54 479.89,155.11 479.92,154.95 479.96,156.27 479.99,154.77 480.02,154.91 480.06,155.04 480.09,155.85 480.13,154.53 480.16,155.10 480.20,154.36 480.23,155.65 480.27,155.10 480.30,154.92 480.34,155.42 480.37,155.65 480.40,155.58 480.44,154.23 480.47,154.90 480.51,155.76 480.54,155.92 480.58,154.63 480.61,154.91 480.65,155.44 480.68,155.66 480.71,155.43 480.75,155.23 480.78,154.95 480.82,155.42 480.85,155.26 480.89,155.01 480.92,155.20 480.96,155.94 480.99,154.81 481.03,156.04 481.06,155.55 481.09,155.00 481.13,155.91 481.16,154.68 481.20,155.39 481.23,155.97 481.27,155.47 481.30,155.94 481.34,155.38 481.37,156.21 481.40,155.12 481.44,155.47 481.47,155.59 481.51,155.60 481.54,155.01 481.58,155.75 481.61,155.80 481.65,155.97 481.68,155.41 481.72,155.31 481.75,156.01 481.78,155.08 481.82,155.85 481.85,155.94 481.89,155.80 481.92,155.86 481.96,155.40 481.99,155.20 482.03,154.63 482.06,155.66 482.09,156.06 482.13,155.58 482.16,155.31 482.20,155.93 482.23,155.66 482.27,155.41 482.30,155.36 482.34,156.11 482.37,155.61 482.41,155.40 482.44,155.56 482.47,155.30 482.51,155.67 482.54,155.56 482.58,155.36 482.61,155.46 482.65,155.25 482.68,155.34 482.72,155.61 482.75,155.92 482.79,154.90 482.82,155.74 482.85,155.25 482.89,155.22 482.92,155.82 482.96,156.17 482.99,155.35 483.03,155.43 483.06,155.98 483.10,155.45 483.13,155.24 483.16,155.12 483.20,155.36 483.23,155.76 483.27,155.32 483.30,155.76 483.34,155.75 483.37,155.27 483.41,155.24 483.44,155.39 483.48,155.83 483.51,155.55 483.54,155.70 483.58,155.69 483.61,155.56 483.65,155.59 483.68,155.95 483.72,156.11 483.75,155.29 483.79,155.35 483.82,155.35 483.85,155.59 483.89,155.31 483.92,155.99 483.96,155.48 483.99,155.69 484.03,155.39 484.06,155.31 484.10,155.89 484.13,155.65 484.17,156.40 484.20,155.63 484.23,155.30 484.27,155.37 484.30,155.56 484.34,154.98 484.37,155.50 484.41,155.22 484.44,155.58 484.48,156.33 484.51,155.95 484.55,155.60 484.58,155.69 484.61,155.28 484.65,155.36 484.68,155.36 484.72,156.30 484.75,155.37 484.79,155.40 484.82,155.27 484.86,155.50 484.89,155.32 484.92,155.34 484.96,155.14 484.99,156.30 485.03,155.77 485.06,156.00 485.10,155.67 485.13,155.65 485.17,155.68 485.20,155.73 485.24,156.43 485.27,155.66 485.30,155.78 485.34,155.48 485.37,156.02 485.41,155.00 485.44,155.69 485.48,155.76 485.51,155.20 485.55,155.48 485.58,155.43 485.61,155.09 485.65,154.79 485.68,156.17 485.72,156.26 485.75,155.00 485.79,156.07 485.82,155.52 485.86,155.26 485.89,155.90 485.93,155.41 485.96,155.45 485.99,155.97 486.03,155.90 486.06,156.30 486.10,156.01 486.13,155.78 486.17,155.19 486.20,155.46 486.24,155.31 486.27,156.22 486.31,155.40 486.34,155.77 486.37,156.14 486.41,156.45 486.44,155.34 486.48,155.55 486.51,155.67 486.55,155.72 486.58,155.62 486.62,155.70 486.65,155.97 486.68,155.14 486.72,155.14 486.75,156.15 486.79,154.76 486.82,155.49 486.86,155.36 486.89,155.72 486.93,155.46 486.96,154.70 487.00,155.67 487.03,155.70 487.06,155.14 487.10,155.54 487.13,156.03 487.17,155.07 487.20,156.16 487.24,156.11 487.27,155.11 487.31,155.17 487.34,156.48 487.37,155.47 487.41,155.60 487.44,155.42 487.48,156.03 487.51,155.47 487.55,154.84 487.58,155.33 487.62,156.40 487.65,155.31 487.69,154.64 487.72,155.08 487.75,155.88 487.79,156.03 487.82,155.42 487.86,155.02 487.89,155.47 487.93,154.60 487.96,155.29 488.00,155.10 488.03,155.45 488.06,155.46 488.10,155.22 488.13,155.51 488.17,154.59 488.20,155.16 488.24,155.53 488.27,155.73 488.31,155.17 488.34,155.57 488.38,155.54 488.41,154.88 488.44,155.72 488.48,155.40 488.51,155.94 488.55,155.33 488.58,155.92 488.62,155.13 488.65,155.59 488.69,155.27 488.72,155.87 488.76,154.63 488.79,155.16 488.82,154.78 488.86,154.74 488.89,154.84 488.93,155.93 488.96,154.90 489.00,155.45 489.03,154.44 489.07,155.23 489.10,155.79 489.13,155.74 489.17,155.47 489.20,154.86 489.24,155.26 489.27,155.12 489.31,154.95 489.34,155.11 489.38,154.78 489.41,154.05 489.45,154.41 489.48,156.03 489.51,155.31 489.55,154.46 489.58,154.66 489.62,154.87 489.65,154.10 489.69,156.33 489.72,155.47 489.76,154.74 489.79,154.75 489.82,154.53 489.86,154.82 489.89,154.23 489.93,154.88 489.96,155.27 490.00,154.40 490.03,154.77 490.07,154.66 490.10,154.50 490.14,154.18 490.17,154.86 490.20,154.75 490.24,154.51 490.27,154.21 490.31,154.00 490.34,153.89 490.38,153.86 490.41,153.91 490.45,153.70 490.48,153.95 490.52,154.00 490.55,153.48 490.58,153.78 490.62,153.87 490.65,153.93 490.69,153.36 490.72,153.90 490.76,153.42 490.79,153.00 490.83,153.56 490.86,152.52 490.89,153.53 490.93,152.54 490.96,152.65 491.00,152.11 491.03,152.05 491.07,152.25 491.10,152.52 491.14,152.11 491.17,151.23 491.21,151.58 491.24,149.56 491.27,150.62 491.31,149.74 491.34,148.44 491.38,147.92 491.41,147.00 491.45,146.86 491.48,145.25 491.52,144.43 491.55,142.95 491.58,141.58 491.62,140.55 491.65,138.77 491.69,136.61 491.72,135.31 491.76,133.29 491.79,130.75 491.83,129.02 491.86,125.98 491.90,123.79 491.93,121.33 491.96,118.29 492.00,116.16 492.03,114.08 492.07,111.22 492.10,109.14 492.14,106.56 492.17,104.53 492.21,103.63 492.24,103.29 492.28,103.35 492.31,103.92 492.34,103.74 492.38,105.35 492.41,106.69 492.45,108.91 492.48,111.73 492.52,113.35 492.55,115.70 492.59,117.84 492.62,120.53 492.65,123.38 492.69,125.94 492.72,128.06 492.76,130.89 492.79,133.61 492.83,134.87 492.86,136.25 492.90,139.04 492.93,141.12 492.97,141.80 493.00,143.07 493.03,144.80 493.07,145.06 493.10,145.93 493.14,147.46 493.17,147.13 493.21,148.20 493.24,149.47 493.28,149.72 493.31,150.03 493.34,150.70 493.38,151.32 493.41,151.56 493.45,150.92 493.48,151.94 493.52,151.57 493.55,152.01 493.59,151.18 493.62,152.22 493.66,152.49 493.69,152.18 493.72,152.72 493.76,153.23 493.79,152.91 493.83,152.96 493.86,153.11 493.90,153.51 493.93,153.00 493.97,152.93 494.00,153.12 494.03,154.15 494.07,154.19 494.10,153.10 494.14,153.83 494.17,153.14 494.21,153.40 494.24,153.68 494.28,153.61 494.31,153.59 494.35,153.65 494.38,153.94 494.41,153.30 494.45,153.97 494.48,153.58 494.52,153.56 494.55,154.17 494.59,153.86 494.62,154.29 494.66,153.59 494.69,153.71 494.73,153.56 494.76,153.82 494.79,153.66 494.83,153.48 494.86,153.88 494.90,153.19 494.93,153.56 494.97,153.87 495.00,153.38 495.04,153.36 495.07,153.75 495.10,153.66 495.14,153.55 495.17,152.63 495.21,153.19 495.24,152.88 495.28,152.73 495.31,152.63 495.35,152.68 495.38,152.12 495.42,152.11 495.45,152.72 495.48,151.92 495.52,152.34 495.55,151.94 495.59,151.01 495.62,150.86 495.66,150.98 495.69,151.22 495.73,150.81 495.76,150.47 495.79,150.51 495.83,149.26 495.86,149.18 495.90,148.05 495.93,148.16 495.97,148.08 496.00,146.02 496.04,145.82 496.07,144.87 496.11,143.16 496.14,142.09 496.17,141.12 496.21,138.87 496.24,137.76 496.28,136.32 496.31,134.35 496.35,131.85 496.38,129.45 496.42,128.42 496.45,126.24 496.49,123.38 496.52,120.55 496.55,118.87 496.59,116.31 496.62,113.98 496.66,111.99 496.69,110.69 496.73,108.04 496.76,106.55 496.80,104.85 496.83,104.36 496.86,104.88 496.90,104.31 496.93,105.17 496.97,105.00 497.00,106.62 497.04,108.42 497.07,110.94 497.11,112.98 497.14,115.11 497.18,116.49 497.21,119.11 497.24,121.86 497.28,124.62 497.31,126.62 497.35,129.19 497.38,130.79 497.42,133.23 497.45,134.34 497.49,136.82 497.52,138.97 497.55,139.90 497.59,140.83 497.62,143.15 497.66,143.35 497.69,145.21 497.73,146.33 497.76,147.88 497.80,147.13 497.83,148.11 497.87,148.98 497.90,150.32 497.93,149.81 497.97,150.75 498.00,151.04 498.04,151.14 498.07,151.85 498.11,151.51 498.14,152.49 498.18,152.28 498.21,151.75 498.24,152.77 498.28,153.15 498.31,152.53 498.35,153.17 498.38,153.49 498.42,153.56 498.45,153.31 498.49,153.45 498.52,153.37 498.56,154.27 498.59,153.98 498.62,154.29 498.66,153.69 498.69,154.36 498.73,153.97 498.76,153.73 498.80,153.98 498.83,154.41 498.87,153.98 498.90,153.77 498.94,154.23 498.97,154.42 499.00,153.99 499.04,154.58 499.07,154.77 499.11,154.32 499.14,155.30 499.18,154.93 499.21,153.84 499.25,154.38 499.28,154.37 499.31,155.12 499.35,155.18 499.38,154.51 499.42,154.96 499.45,154.56 499.49,154.22 499.52,154.34 499.56,154.05 499.59,155.18 499.63,154.02 499.66,155.35 499.69,154.87 499.73,155.01 499.76,154.80 499.80,154.86 499.83,155.32 499.87,154.54 499.90,154.87 499.94,154.57 499.97,154.47 500.00,154.36 500.04,155.63 500.07,155.17 500.11,155.11 500.14,155.30 500.18,155.16 500.21,154.73 500.25,155.59 500.28,155.13 500.32,155.90 500.35,154.79 500.38,155.58 500.42,154.49 500.45,155.27 500.49,154.85 500.52,155.24 500.56,155.14 500.59,154.89 500.63,155.51 500.66,155.29 500.70,155.54 500.73,155.38 500.76,155.95 500.80,155.48 500.83,155.86 500.87,155.77 500.90,155.22 500.94,155.95 500.97,155.35 501.01,155.43 501.04,155.64 501.07,155.40 501.11,155.25 501.14,154.99 501.18,155.11 501.21,155.26 501.25,155.85 501.28,155.70 501.32,154.98 501.35,156.07 501.39,155.64 501.42,154.82 501.45,155.70 501.49,155.02 501.52,155.38 501.56,155.80 501.59,156.25 501.63,155.78 501.66,155.95 501.70,155.41 501.73,155.45 501.76,155.69 501.80,155.82 501.83,155.31 501.87,155.60 501.90,155.16 501.94,155.22 501.97,155.72 502.01,154.92 502.04,155.67 502.08,155.57 502.11,155.48 502.14,155.83 502.18,155.27 502.21,155.37 502.25,155.92 502.28,154.63 502.32,155.30 502.35,155.22 502.39,156.10 502.42,155.84 502.46,155.83 502.49,155.65 502.52,155.08 502.56,154.88 502.59,156.14 502.63,155.69 502.66,155.41 502.70,155.68 502.73,155.47 502.77,155.49 502.80,154.83 502.83,155.38 502.87,155.46 502.90,155.17 502.94,155.78 502.97,156.01 503.01,155.92 503.04,155.87 503.08,156.32 503.11,154.93 503.15,155.50 503.18,155.87 503.21,155.92 503.25,155.16 503.28,155.88 503.32,155.17 503.35,155.35 503.39,155.41 503.42,155.26 503.46,155.95 503.49,155.92 503.52,155.88 503.56,155.59 503.59,155.15 503.63,155.38 503.66,155.40 503.70,156.08 503.73,155.07 503.77,155.40 503.80,155.61 503.84,155.44 503.87,155.89 503.90,155.87 503.94,155.70 503.97,155.36 504.01,156.56 504.04,155.48 504.08,155.85 504.11,155.51 504.15,156.13 504.18,155.58 504.21,156.25 504.25,154.90 504.28,155.36 504.32,155.93 504.35,155.37 504.39,155.45 504.42,155.74 504.46,155.88 504.49,156.03 504.53,155.12 504.56,155.44 504.59,155.40 504.63,155.92 504.66,155.55 504.70,155.34 504.73,155.59 504.77,155.57 504.80,155.66 504.84,154.96 504.87,155.69 504.91,155.34 504.94,155.64 504.97,155.66 505.01,155.92 505.04,155.75 505.08,155.47 505.11,156.29 505.15,155.47 505.18,155.64 505.22,156.02 505.25,155.62 505.28,155.36 505.32,155.41 505.35,155.96 505.39,155.66 505.42,155.85 505.46,155.54 505.49,155.55 505.53,156.09 505.56,155.87 505.60,155.10 505.63,155.62 505.66,155.85 505.70,155.86 505.73,156.03 505.77,155.46 505.80,155.32 505.84,155.64 505.87,155.79 505.91,155.32 505.94,155.37 505.97,155.11 506.01,155.10 506.04,156.42 506.08,155.84 506.11,155.87 506.15,155.87 506.18,155.71 506.22,154.73 506.25,155.77 506.29,155.75 506.32,155.64 506.35,155.30 506.39,155.78 506.42,156.36 506.46,155.84 506.49,155.83 506.53,155.97 506.56,155.85 506.60,155.17 506.63,155.64 506.67,155.32 506.70,155.22 506.73,155.65 506.77,155.26 506.80,155.54 506.84,155.87 506.87,155.44 506.91,156.14 506.94,154.60 506.98,155.23 507.01,155.71 507.04,155.56 507.08,156.73 507.11,155.92 507.15,155.07 507.18,155.50 507.22,155.53 507.25,156.01 507.29,155.89 507.32,155.48 507.36,155.76 507.39,156.06 507.42,155.60 507.46,155.76 507.49,155.88 507.53,155.01 507.56,155.03 507.60,156.00 507.63,156.15 507.67,156.22 507.70,155.95 507.73,156.31 507.77,155.76 507.80,155.36 507.84,155.66 507.87,155.88 507.91,155.47 507.94,155.57 507.98,155.79 508.01,154.98 508.05,154.99 508.08,155.71 508.11,155.83 508.15,155.55 508.18,155.60 508.22,155.45 508.25,155.80 508.29,155.56 508.32,156.19 508.36,155.36 508.39,155.02 508.43,156.35 508.46,155.04 508.49,155.47 508.53,156.28 508.56,155.61 508.60,155.55 508.63,155.37 508.67,155.43 508.70,156.13 508.74,155.38 508.77,155.90 508.80,155.89 508.84,155.96 508.87,155.83 508.91,156.17 508.94,156.36 508.98,155.09 509.01,155.74 509.05,156.01 509.08,155.28 509.12,155.44 509.15,155.87 509.18,155.31 509.22,156.69 509.25,155.60 509.29,155.17 509.32,155.68 509.36,155.81 509.39,156.07 509.43,155.85 509.46,155.55 509.49,156.38 509.53,156.73 509.56,155.23 509.60,155.45 509.63,155.55 509.67,155.57 509.70,155.40 509.74,156.00 509.77,155.66 509.81,155.53 509.84,155.69 509.87,154.92 509.91,155.54 509.94,155.84 509.98,155.53 510.01,155.11 510.05,155.59 510.08,155.71 510.12,155.31 510.15,155.79 510.18,156.32 510.22,155.21 510.25,155.45 510.29,156.44 510.32,155.75 510.36,155.42 510.39,156.15 510.43,155.50 510.46,155.33 510.50,155.13 510.53,155.57 510.56,155.28 510.60,155.10 510.63,155.74 510.67,155.82 510.70,155.52 510.74,155.46 510.77,155.39 510.81,155.73 510.84,155.72 510.88,155.81 510.91,155.67 510.94,155.88 510.98,156.24 511.01,155.70 511.05,155.16 511.08,155.94 511.12,154.93 511.15,155.97 511.19,155.02 511.22,156.65 511.25,154.99 511.29,154.89 511.32,155.09 511.36,155.82 511.39,155.08 511.43,156.13 511.46,154.78 511.50,155.62 511.53,156.03 511.57,155.49 511.60,156.11 511.63,155.54 511.67,155.53 511.70,155.40 511.74,155.10 511.77,156.03 511.81,155.43 511.84,155.96 511.88,154.85 511.91,155.40 511.94,154.47 511.98,154.64 512.01,155.68 512.05,155.18 512.08,154.97 512.12,155.42 512.15,154.17 512.19,154.61 512.22,155.62 512.26,154.78 512.29,154.60 512.32,154.47 512.36,153.37 512.39,154.23 512.43,154.38 512.46,153.74 512.50,154.46 512.53,153.59 512.57,153.52 512.60,152.99 512.64,153.63 512.67,152.59 512.70,151.89 512.74,151.60 512.77,151.45 512.81,152.04 512.84,151.32 512.88,151.36 512.91,150.64 512.95,150.97 512.98,149.37 513.01,150.43 513.05,149.70 513.08,149.41 513.12,150.37 513.15,150.11 513.19,149.95 513.22,150.51 513.26,150.96 513.29,150.40 513.33,150.82 513.36,151.17 513.39,150.33 513.43,151.67 513.46,151.64 513.50,152.44 513.53,152.26 513.57,152.05 513.60,152.22 513.64,152.76 513.67,153.63 513.70,153.03 513.74,154.13 513.77,153.57 513.81,154.25 513.84,154.11 513.88,153.71 513.91,154.32 513.95,153.54 513.98,154.86 514.02,154.94 514.05,154.88 514.08,154.64 514.12,154.66 514.15,154.45 514.19,155.49 514.22,155.35 514.26,155.45 514.29,154.55 514.33,155.16 514.36,155.28 514.39,155.02 514.43,156.03 514.46,155.22 514.50,154.71 514.53,155.11 514.57,155.59 514.60,155.33 514.64,154.71 514.67,155.44 514.71,154.57 514.74,155.57 514.77,155.43 514.81,155.24 514.84,155.09 514.88,155.65 514.91,155.70 514.95,155.60 514.98,154.99 515.02,155.30 515.05,155.74 515.09,156.06 515.12,155.55 515.15,156.05 515.19,155.42 515.22,155.11 515.26,155.08 515.29,155.57 515.33,155.74 515.36,155.21 515.40,155.10 515.43,155.31 515.46,155.41 515.50,155.66 515.53,154.95 515.57,155.59 515.60,155.57 515.64,155.27 515.67,155.42 515.71,154.96 515.74,155.00 515.78,155.37 515.81,156.18 515.84,155.01 515.88,154.33 515.91,155.44 515.95,156.17 515.98,155.35 516.02,155.07 516.05,155.82 516.09,155.46 516.12,154.97 516.15,155.61 516.19,154.94 516.22,155.09 516.26,155.04 516.29,155.82 516.33,155.22 516.36,154.93 516.40,155.67 516.43,155.92 516.47,155.25 516.50,155.01 516.53,155.86 516.57,155.26 516.60,155.58 516.64,155.44 516.67,156.03 516.71,155.92 516.74,155.61 516.78,155.00 516.81,155.67 516.85,155.44 516.88,155.30 516.91,155.24 516.95,155.06 516.98,154.90 517.02,155.53 517.05,155.84 517.09,155.44 517.12,155.27 517.16,156.15 517.19,154.92 517.22,155.57 517.26,155.46 517.29,155.76 517.33,155.51 517.36,155.22 517.40,155.11 517.43,155.17 517.47,155.65 517.50,155.59 517.54,154.91 517.57,155.39 517.60,155.52 517.64,155.78 517.67,155.43 517.71,154.97 517.74,154.34 517.78,154.39 517.81,154.84 517.85,154.45 517.88,154.78 517.91,155.38 517.95,155.21 517.98,153.76 518.02,155.32 518.05,154.82 518.09,155.06 518.12,154.08 518.16,154.11 518.19,154.74 518.23,154.86 518.26,154.08 518.29,154.93 518.33,154.72 518.36,154.00 518.40,152.85 518.43,153.63 518.47,154.48 518.50,152.78 518.54,153.78 518.57,153.15 518.61,153.24 518.64,152.49 518.67,152.40 518.71,152.50 518.74,152.00 518.78,151.78 518.81,151.11 518.85,150.92 518.88,150.20 518.92,150.23 518.95,148.94 518.98,149.29 519.02,149.15 519.05,148.47 519.09,147.16 519.12,146.89 519.16,146.13 519.19,144.75 519.23,144.97 519.26,144.37 519.30,143.00 519.33,142.52 519.36,141.80 519.40,141.32 519.43,139.87 519.47,140.02 519.50,139.88 519.54,139.16 519.57,138.64 519.61,138.16 519.64,137.64 519.67,137.75 519.71,136.70 519.74,136.76 519.78,137.78 519.81,137.67 519.85,137.25 519.88,138.30 519.92,138.32 519.95,138.97 519.99,139.06 520.02,140.15 520.05,141.49 520.09,141.51 520.12,142.16 520.16,142.20 520.19,143.41 520.23,144.56 520.26,144.73 520.30,146.22 520.33,146.71 520.36,146.53 520.40,146.97 520.43,148.03 520.47,147.96 520.50,148.56 520.54,149.30 520.57,150.11 520.61,150.68 520.64,151.24 520.68,151.75 520.71,151.68 520.74,152.13 520.78,152.40 520.81,152.26 520.85,152.61 520.88,153.33 520.92,153.57 520.95,153.50 520.99,153.43 521.02,153.60 521.06,154.92 521.09,153.72 521.12,153.93 521.16,153.75 521.19,153.77 521.23,154.07 521.26,154.35 521.30,154.25 521.33,154.26 521.37,154.12 521.40,154.48 521.43,154.58 521.47,154.50 521.50,154.78 521.54,154.67 521.57,154.96 521.61,155.12 521.64,155.12 521.68,155.22 521.71,155.43 521.75,154.83 521.78,154.88 521.81,155.38 521.85,155.57 521.88,155.02 521.92,155.13 521.95,155.07 521.99,154.64 522.02,155.12 522.06,155.32 522.09,155.66 522.12,154.33 522.16,155.65 522.19,154.37 522.23,154.47 522.26,155.56 522.30,155.09 522.33,155.62 522.37,155.71 522.40,155.31 522.44,155.63 522.47,155.84 522.50,155.06 522.54,155.48 522.57,154.87 522.61,155.53 522.64,155.30 522.68,155.86 522.71,155.43 522.75,155.24 522.78,154.86 522.82,155.32 522.85,155.50 522.88,155.54 522.92,156.15 522.95,155.10 522.99,155.35 523.02,155.15 523.06,156.19 523.09,155.12 523.13,155.17 523.16,155.48 523.19,155.86 523.23,154.85 523.26,155.10 523.30,155.77 523.33,156.07 523.37,155.48 523.40,155.67 523.44,155.39 523.47,156.04 523.51,155.50 523.54,155.45 523.57,155.36 523.61,156.23 523.64,155.32 523.68,155.12 523.71,155.26 523.75,155.51 523.78,155.33 523.82,155.39 523.85,154.75 523.88,155.67 523.92,155.58 523.95,155.59 523.99,155.48 524.02,156.23 524.06,155.78 524.09,155.78 524.13,154.95 524.16,155.72 524.20,154.82 524.23,154.85 524.26,155.71 524.30,155.60 524.33,154.46 524.37,156.74 524.40,155.94 524.44,156.12 524.47,156.29 524.51,156.11 524.54,155.77 524.58,154.76 524.61,155.34 524.64,155.76 524.68,155.58 524.71,156.00 524.75,155.18 524.78,155.74 524.82,154.92 524.85,155.71 524.89,156.04 524.92,156.05 524.95,155.14 524.99,155.30 525.02,155.18 525.06,155.11 525.09,155.59 525.13,155.10 525.16,155.33 525.20,155.36 525.23,155.72 525.27,155.53 525.30,156.20 525.33,155.70 525.37,155.29 525.40,155.59 525.44,155.93 525.47,155.84 525.51,154.72 525.54,155.19 525.58,155.24 525.61,155.75 525.64,155.38 525.68,155.76 525.71,155.76 525.75,155.76 525.78,156.24 525.82,155.14 525.85,156.14 525.89,154.95 525.92,155.35 525.96,155.44 525.99,155.85 526.02,155.36 526.06,156.19 526.09,155.26 526.13,155.65 526.16,154.96 526.20,155.60 526.23,155.12 526.27,155.52 526.30,155.43 526.33,155.63 526.37,155.59 526.40,155.66 526.44,155.85 526.47,155.01 526.51,154.58 526.54,155.81 526.58,155.09 526.61,156.06 526.65,156.17 526.68,155.55 526.71,154.90 526.75,155.50 526.78,155.35 526.82,155.82 526.85,156.32 526.89,154.83 526.92,155.60 526.96,155.19 526.99,155.38 527.03,155.58 527.06,155.53 527.09,155.80 527.13,155.11 527.16,155.69 527.20,155.39 527.23,155.11 527.27,155.64 527.30,155.14 527.34,155.13 527.37,155.86 527.40,155.68 527.44,155.59 527.47,155.01 527.51,155.65 527.54,155.26 527.58,156.06 527.61,155.66 527.65,154.87 527.68,155.14 527.72,154.89 527.75,155.51 527.78,155.22 527.82,155.84 527.85,155.52 527.89,155.55 527.92,154.27 527.96,155.28 527.99,155.06 528.03,155.17 528.06,155.52 528.09,155.07 528.13,155.17 528.16,155.04 528.20,155.25 528.23,155.08 528.27,154.83 528.30,154.41 528.34,154.08 528.37,155.20 528.41,154.10 528.44,154.47 528.47,154.54 528.51,154.37 528.54,154.16 528.58,154.13 528.61,154.44 528.65,153.37 528.68,153.72 528.72,154.00 528.75,153.32 528.79,152.72 528.82,153.36 528.85,152.62 528.89,152.70 528.92,152.36 528.96,152.11 528.99,151.99 529.03,151.65 529.06,150.67 529.10,150.47 529.13,150.66 529.16,149.59 529.20,149.17 529.23,149.32 529.27,148.78 529.30,148.47 529.34,147.12 529.37,147.44 529.41,146.80 529.44,147.43 529.48,146.02 529.51,145.31 529.54,145.75 529.58,144.70 529.61,144.90 529.65,144.31 529.68,144.75 529.72,143.92 529.75,144.02 529.79,144.28 529.82,144.01 529.85,143.64 529.89,143.92 529.92,143.99 529.96,144.21 529.99,144.59 530.03,144.79 530.06,145.61 530.10,145.36 530.13,146.40 530.17,145.65 530.20,146.33 530.23,147.95 530.27,148.11 530.30,148.28 530.34,148.41 530.37,149.64 530.41,149.58 530.44,150.02 530.48,150.55 530.51,150.61 530.55,150.98 530.58,152.32 530.61,151.88 530.65,151.96 530.68,152.48 530.72,153.00 530.75,152.99 530.79,152.30 530.82,153.32 530.86,153.44 530.89,154.01 530.92,153.88 530.96,154.45 530.99,153.65 531.03,154.05 531.06,153.84 531.10,154.59 531.13,154.56 531.17,154.59 531.20,154.77 531.24,154.89 531.27,154.49 531.30,154.48 531.34,154.87 531.37,154.77 531.41,154.95 531.44,155.24 531.48,154.53 531.51,154.99 531.55,155.38 531.58,155.39 531.61,155.40 531.65,155.58 531.68,154.75 531.72,154.64 531.75,154.72 531.79,155.26 531.82,154.85 531.86,154.99 531.89,156.07 531.93,155.23 531.96,156.02 531.99,155.70 532.03,155.35 532.06,154.82 532.10,154.59 532.13,155.65 532.17,155.66 532.20,155.07 532.24,155.32 532.27,155.75 532.30,155.16 532.34,155.26 532.37,155.62 532.41,155.38 532.44,155.67 532.48,155.37 532.51,155.53 532.55,155.45 532.58,155.39 532.62,155.65 532.65,155.21 532.68,155.19 532.72,155.30 532.75,155.44 532.79,155.91 532.82,155.04 532.86,155.47 532.89,155.65 532.93,155.55 532.96,154.97 533.00,155.69 533.03,155.07 533.06,155.02 533.10,155.67 533.13,155.64 533.17,155.96 533.20,156.30 533.24,156.09 533.27,154.74 533.31,155.53 533.34,155.80 533.37,155.27 533.41,155.35 533.44,155.68 533.48,155.96 533.51,155.43 533.55,155.48 533.58,155.85 533.62,155.90 533.65,155.50 533.69,155.61 533.72,155.22 533.75,155.64 533.79,154.93 533.82,155.49 533.86,154.50 533.89,155.02 533.93,155.96 533.96,155.66 534.00,155.43 534.03,155.76 534.06,155.87 534.10,156.10 534.13,155.37 534.17,155.03 534.20,155.39 534.24,156.29 534.27,155.72 534.31,154.91 534.34,155.62 534.38,155.18 534.41,154.99 534.44,155.45 534.48,155.77 534.51,155.75 534.55,155.53 534.58,155.42 534.62,155.64 534.65,155.66 534.69,156.05 534.72,156.23 534.76,154.83 534.79,155.03 534.82,155.75 534.86,155.71 534.89,155.07 534.93,155.85 534.96,155.64 535.00,154.96 535.03,154.18 535.07,155.49 535.10,154.79 535.13,154.99 535.17,155.35 535.20,155.66 535.24,154.77 535.27,155.17 535.31,155.01 535.34,154.33 535.38,155.12 535.41,154.47 535.45,154.37 535.48,154.66 535.51,154.18 535.55,154.52 535.58,153.97 535.62,153.92 535.65,153.91 535.69,153.81 535.72,153.26 535.76,153.54 535.79,153.09 535.82,152.67 535.86,152.73 535.89,152.72 535.93,153.81 535.96,152.77 536.00,152.67 536.03,152.44 536.07,152.23 536.10,151.36 536.14,152.29 536.17,151.85 536.20,152.87 536.24,152.59 536.27,151.77 536.31,151.38 536.34,152.16 536.38,152.12 536.41,152.59 536.45,151.88 536.48,152.30 536.51,152.46 536.55,152.54 536.58,152.59 536.62,152.60 536.65,152.87 536.69,153.61 536.72,152.67 536.76,153.69 536.79,153.05 536.83,153.63 536.86,153.60 536.89,153.64 536.93,154.28 536.96,154.13 537.00,154.45 537.03,154.84 537.07,153.59 537.10,153.98 537.14,153.73 537.17,154.71 537.21,155.22 537.24,155.45 537.27,155.08 537.31,155.08 537.34,155.28 537.38,155.21 537.41,155.58 537.45,154.86 537.48,154.89 537.52,155.22 537.55,154.93 537.58,154.81 537.62,155.78 537.65,154.70 537.69,154.75 537.72,154.95 537.76,155.04 537.79,154.77 537.83,155.59 537.86,155.69 537.90,155.20 537.93,155.35 537.96,155.36 538.00,155.65 538.03,155.97 538.07,155.07 538.10,155.07 538.14,155.37 538.17,155.50 538.21,155.81 538.24,154.59 538.27,154.97 538.31,155.55 538.34,155.25 538.38,155.45 538.41,154.68 538.45,155.82 538.48,155.43 538.52,155.49 538.55,154.90 538.59,155.31 538.62,155.15 538.65,154.62 538.69,154.99 538.72,155.35 538.76,155.29 538.79,154.31 538.83,154.92 538.86,154.79 538.90,153.95 538.93,154.90 538.97,154.29 539.00,154.16 539.03,153.93 539.07,154.66 539.10,153.50 539.14,154.12 539.17,154.12 539.21,153.52 539.24,154.54 539.28,154.06 539.31,153.76 539.34,153.64 539.38,153.55 539.41,153.45 539.45,152.91 539.48,153.73 539.52,154.07 539.55,155.06 539.59,152.83 539.62,154.25 539.66,153.97 539.69,154.43 539.72,153.82 539.76,153.90 539.79,154.14 539.83,153.86 539.86,153.90 539.90,154.43 539.93,154.36 539.97,154.42 540.00,154.84 540.03,155.36 540.07,154.25 540.10,155.13 540.14,155.45 540.17,154.95 540.21,155.11 540.24,154.77 540.28,154.68 540.31,155.08 540.35,156.00 540.38,155.44 540.41,155.44 540.45,155.89 540.48,155.15 540.52,155.32 540.55,155.94 540.59,154.68 540.62,155.55 540.66,155.15 540.69,155.78 540.73,155.00 540.76,155.71 540.79,155.67 540.83,155.51 540.86,155.05 540.90,155.66 540.93,155.17 540.97,156.12 541.00,156.05 541.04,155.11 541.07,156.13 541.10,155.74 541.14,156.15 541.17,155.92 541.21,155.99 541.24,155.52 541.28,155.74 541.31,155.56 541.35,155.64 541.38,156.31 541.42,155.75 541.45,155.61 541.48,155.54 541.52,156.52 541.55,156.04 541.59,155.47 541.62,155.43 541.66,155.53 541.69,155.46 541.73,156.11 541.76,155.79 541.79,155.82 541.83,155.47 541.86,155.77 541.90,155.53 541.93,155.34 541.97,155.57 542.00,155.26 542.04,155.63 542.07,156.40 542.11,155.25 542.14,155.36 542.17,155.95 542.21,155.98 542.24,156.66 542.28,154.86 542.31,155.73 542.35,155.96 542.38,155.88 542.42,156.17 542.45,155.75 542.48,155.46 542.52,155.66 542.55,155.94 542.59,155.74" fill="none" stroke="#000" stroke-width="1.0" stroke-linejoin="round"/>
<line x1="341.30" y1="10.80" x2="341.30" y2="160.75" stroke="#000" stroke-width="1.7"/>
<line x1="340.45" y1="159.90" x2="543.10" y2="159.90" stroke="#000" stroke-width="1.7"/>
<line x1="341.30" y1="159.90" x2="341.30" y2="156.30" stroke="#000" stroke-width="1.0"/>
<line x1="344.18" y1="159.90" x2="344.18" y2="157.50" stroke="#000" stroke-width="1.0"/>
<line x1="347.05" y1="159.90" x2="347.05" y2="157.50" stroke="#000" stroke-width="1.0"/>
<line x1="349.93" y1="159.90" x2="349.93" y2="157.50" stroke="#000" stroke-width="1.0"/>
<line x1="352.80" y1="159.90" x2="352.80" y2="157.50" stroke="#000" stroke-width="1.0"/>
<line x1="355.68" y1="159.90" x2="355.68" y2="157.50" stroke="#000" stroke-width="1.0"/>
<line x1="358.55" y1="159.90" x2="358.55" y2="157.50" stroke="#000" stroke-width="1.0"/>
<line x1="361.43" y1="159.90" x2="361.43" y2="157.50" stroke="#000" stroke-width="1.0"/>
<line x1="364.31" y1="159.90" x2="364.31" y2="157.50" stroke="#000" stroke-width="1.0"/>
<line x1="367.18" y1="159.90" x2="367.18" y2="157.50" stroke="#000" stroke-width="1.0"/>
<line x1="370.06" y1="159.90" x2="370.06" y2="156.30" stroke="#000" stroke-width="1.0"/>
<line x1="372.93" y1="159.90" x2="372.93" y2="157.50" stroke="#000" stroke-width="1.0"/>
<line x1="375.81" y1="159.90" x2="375.81" y2="157.50" stroke="#000" stroke-width="1.0"/>
<line x1="378.68" y1="159.90" x2="378.68" y2="157.50" stroke="#000" stroke-width="1.0"/>
<line x1="381.56" y1="159.90" x2="381.56" y2="157.50" stroke="#000" stroke-width="1.0"/>
<line x1="384.44" y1="159.90" x2="384.44" y2="157.50" stroke="#000" stroke-width="1.0"/>
<line x1="387.31" y1="159.90" x2="387.31" y2="157.50" stroke="#000" stroke-width="1.0"/>
<line x1="390.19" y1="159.90" x2="390.19" y2="157.50" stroke="#000" stroke-width="1.0"/>
<line x1="393.06" y1="159.90" x2="393.06" y2="157.50" stroke="#000" stroke-width="1.0"/>
<line x1="395.94" y1="159.90" x2="395.94" y2="157.50" stroke="#000" stroke-width="1.0"/>
<line x1="398.81" y1="159.90" x2="398.81" y2="156.30" stroke="#000" stroke-width="1.0"/>
<line x1="401.69" y1="159.90" x2="401.69" y2="157.50" stroke="#000" stroke-width="1.0"/>
<line x1="404.57" y1="159.90" x2="404.57" y2="157.50" stroke="#000" stroke-width="1.0"/>
<line x1="407.44" y1="159.90" x2="407.44" y2="157.50" stroke="#000" stroke-width="1.0"/>
<line x1="410.32" y1="159.90" x2="410.32" y2="157.50" stroke="#000" stroke-width="1.0"/>
<line x1="413.19" y1="159.90" x2="413.19" y2="157.50" stroke="#000" stroke-width="1.0"/>
<line x1="416.07" y1="159.90" x2="416.07" y2="157.50" stroke="#000" stroke-width="1.0"/>
<line x1="418.94" y1="159.90" x2="418.94" y2="157.50" stroke="#000" stroke-width="1.0"/>
<line x1="421.82" y1="159.90" x2="421.82" y2="157.50" stroke="#000" stroke-width="1.0"/>
<line x1="424.70" y1="159.90" x2="424.70" y2="157.50" stroke="#000" stroke-width="1.0"/>
<line x1="427.57" y1="159.90" x2="427.57" y2="156.30" stroke="#000" stroke-width="1.0"/>
<line x1="430.45" y1="159.90" x2="430.45" y2="157.50" stroke="#000" stroke-width="1.0"/>
<line x1="433.32" y1="159.90" x2="433.32" y2="157.50" stroke="#000" stroke-width="1.0"/>
<line x1="436.20" y1="159.90" x2="436.20" y2="157.50" stroke="#000" stroke-width="1.0"/>
<line x1="439.07" y1="159.90" x2="439.07" y2="157.50" stroke="#000" stroke-width="1.0"/>
<line x1="441.95" y1="159.90" x2="441.95" y2="157.50" stroke="#000" stroke-width="1.0"/>
<line x1="444.83" y1="159.90" x2="444.83" y2="157.50" stroke="#000" stroke-width="1.0"/>
<line x1="447.70" y1="159.90" x2="447.70" y2="157.50" stroke="#000" stroke-width="1.0"/>
<line x1="450.58" y1="159.90" x2="450.58" y2="157.50" stroke="#000" stroke-width="1.0"/>
<line x1="453.45" y1="159.90" x2="453.45" y2="157.50" stroke="#000" stroke-width="1.0"/>
<line x1="456.33" y1="159.90" x2="456.33" y2="156.30" stroke="#000" stroke-width="1.0"/>
<line x1="459.20" y1="159.90" x2="459.20" y2="157.50" stroke="#000" stroke-width="1.0"/>
<line x1="462.08" y1="159.90" x2="462.08" y2="157.50" stroke="#000" stroke-width="1.0"/>
<line x1="464.96" y1="159.90" x2="464.96" y2="157.50" stroke="#000" stroke-width="1.0"/>
<line x1="467.83" y1="159.90" x2="467.83" y2="157.50" stroke="#000" stroke-width="1.0"/>
<line x1="470.71" y1="159.90" x2="470.71" y2="157.50" stroke="#000" stroke-width="1.0"/>
<line x1="473.58" y1="159.90" x2="473.58" y2="157.50" stroke="#000" stroke-width="1.0"/>
<line x1="476.46" y1="159.90" x2="476.46" y2="157.50" stroke="#000" stroke-width="1.0"/>
<line x1="479.33" y1="159.90" x2="479.33" y2="157.50" stroke="#000" stroke-width="1.0"/>
<line x1="482.21" y1="159.90" x2="482.21" y2="157.50" stroke="#000" stroke-width="1.0"/>
<line x1="485.09" y1="159.90" x2="485.09" y2="156.30" stroke="#000" stroke-width="1.0"/>
<line x1="487.96" y1="159.90" x2="487.96" y2="157.50" stroke="#000" stroke-width="1.0"/>
<line x1="490.84" y1="159.90" x2="490.84" y2="157.50" stroke="#000" stroke-width="1.0"/>
<line x1="493.71" y1="159.90" x2="493.71" y2="157.50" stroke="#000" stroke-width="1.0"/>
<line x1="496.59" y1="159.90" x2="496.59" y2="157.50" stroke="#000" stroke-width="1.0"/>
<line x1="499.46" y1="159.90" x2="499.46" y2="157.50" stroke="#000" stroke-width="1.0"/>
<line x1="502.34" y1="159.90" x2="502.34" y2="157.50" stroke="#000" stroke-width="1.0"/>
<line x1="505.22" y1="159.90" x2="505.22" y2="157.50" stroke="#000" stroke-width="1.0"/>
<line x1="508.09" y1="159.90" x2="508.09" y2="157.50" stroke="#000" stroke-width="1.0"/>
<line x1="510.97" y1="159.90" x2="510.97" y2="157.50" stroke="#000" stroke-width="1.0"/>
<line x1="513.84" y1="159.90" x2="513.84" y2="156.30" stroke="#000" stroke-width="1.0"/>
<line x1="516.72" y1="159.90" x2="516.72" y2="157.50" stroke="#000" stroke-width="1.0"/>
<line x1="519.59" y1="159.90" x2="519.59" y2="157.50" stroke="#000" stroke-width="1.0"/>
<line x1="522.47" y1="159.90" x2="522.47" y2="157.50" stroke="#000" stroke-width="1.0"/>
<line x1="525.35" y1="159.90" x2="525.35" y2="157.50" stroke="#000" stroke-width="1.0"/>
<line x1="528.22" y1="159.90" x2="528.22" y2="157.50" stroke="#000" stroke-width="1.0"/>
<line x1="531.10" y1="159.90" x2="531.10" y2="157.50" stroke="#000" stroke-width="1.0"/>
<line x1="533.97" y1="159.90" x2="533.97" y2="157.50" stroke="#000" stroke-width="1.0"/>
<line x1="536.85" y1="159.90" x2="536.85" y2="157.50" stroke="#000" stroke-width="1.0"/>
<line x1="539.72" y1="159.90" x2="539.72" y2="157.50" stroke="#000" stroke-width="1.0"/>
<line x1="542.60" y1="159.90" x2="542.60" y2="156.30" stroke="#000" stroke-width="1.0"/>
<text x="341.30" y="169.80" font-size="8.8" text-anchor="middle" >10</text>
<text x="370.06" y="169.80" font-size="8.8" text-anchor="middle" >20</text>
<text x="398.81" y="169.80" font-size="8.8" text-anchor="middle" >30</text>
<text x="427.57" y="169.80" font-size="8.8" text-anchor="middle" >40</text>
<text x="456.33" y="169.80" font-size="8.8" text-anchor="middle" >50</text>
<text x="485.09" y="169.80" font-size="8.8" text-anchor="middle" >60</text>
<text x="513.84" y="169.80" font-size="8.8" text-anchor="middle" >70</text>
<text x="542.60" y="169.80" font-size="8.8" text-anchor="middle" >80</text>
<line x1="341.30" y1="157.00" x2="344.90" y2="157.00" stroke="#000" stroke-width="1.0"/>
<text x="338.30" y="158.97" font-size="8.8" text-anchor="end" >0</text>
<line x1="341.30" y1="152.16" x2="343.50" y2="152.16" stroke="#000" stroke-width="1.0"/>
<line x1="341.30" y1="147.32" x2="343.50" y2="147.32" stroke="#000" stroke-width="1.0"/>
<line x1="341.30" y1="142.48" x2="343.50" y2="142.48" stroke="#000" stroke-width="1.0"/>
<line x1="341.30" y1="137.64" x2="343.50" y2="137.64" stroke="#000" stroke-width="1.0"/>
<line x1="341.30" y1="132.80" x2="344.90" y2="132.80" stroke="#000" stroke-width="1.0"/>
<text x="338.30" y="134.77" font-size="8.8" text-anchor="end" >500</text>
<line x1="341.30" y1="127.96" x2="343.50" y2="127.96" stroke="#000" stroke-width="1.0"/>
<line x1="341.30" y1="123.12" x2="343.50" y2="123.12" stroke="#000" stroke-width="1.0"/>
<line x1="341.30" y1="118.28" x2="343.50" y2="118.28" stroke="#000" stroke-width="1.0"/>
<line x1="341.30" y1="113.44" x2="343.50" y2="113.44" stroke="#000" stroke-width="1.0"/>
<line x1="341.30" y1="108.60" x2="344.90" y2="108.60" stroke="#000" stroke-width="1.0"/>
<text x="338.30" y="110.57" font-size="8.8" text-anchor="end" >1000</text>
<line x1="341.30" y1="103.76" x2="343.50" y2="103.76" stroke="#000" stroke-width="1.0"/>
<line x1="341.30" y1="98.92" x2="343.50" y2="98.92" stroke="#000" stroke-width="1.0"/>
<line x1="341.30" y1="94.08" x2="343.50" y2="94.08" stroke="#000" stroke-width="1.0"/>
<line x1="341.30" y1="89.24" x2="343.50" y2="89.24" stroke="#000" stroke-width="1.0"/>
<line x1="341.30" y1="84.40" x2="344.90" y2="84.40" stroke="#000" stroke-width="1.0"/>
<text x="338.30" y="86.37" font-size="8.8" text-anchor="end" >1500</text>
<line x1="341.30" y1="79.56" x2="343.50" y2="79.56" stroke="#000" stroke-width="1.0"/>
<line x1="341.30" y1="74.72" x2="343.50" y2="74.72" stroke="#000" stroke-width="1.0"/>
<line x1="341.30" y1="69.88" x2="343.50" y2="69.88" stroke="#000" stroke-width="1.0"/>
<line x1="341.30" y1="65.04" x2="343.50" y2="65.04" stroke="#000" stroke-width="1.0"/>
<line x1="341.30" y1="60.20" x2="344.90" y2="60.20" stroke="#000" stroke-width="1.0"/>
<text x="338.30" y="62.17" font-size="8.8" text-anchor="end" >2000</text>
<line x1="341.30" y1="55.36" x2="343.50" y2="55.36" stroke="#000" stroke-width="1.0"/>
<line x1="341.30" y1="50.52" x2="343.50" y2="50.52" stroke="#000" stroke-width="1.0"/>
<line x1="341.30" y1="45.68" x2="343.50" y2="45.68" stroke="#000" stroke-width="1.0"/>
<line x1="341.30" y1="40.84" x2="343.50" y2="40.84" stroke="#000" stroke-width="1.0"/>
<line x1="341.30" y1="36.00" x2="344.90" y2="36.00" stroke="#000" stroke-width="1.0"/>
<text x="338.30" y="37.97" font-size="8.8" text-anchor="end" >2500</text>
<line x1="341.30" y1="31.16" x2="343.50" y2="31.16" stroke="#000" stroke-width="1.0"/>
<line x1="341.30" y1="26.32" x2="343.50" y2="26.32" stroke="#000" stroke-width="1.0"/>
<line x1="341.30" y1="21.48" x2="343.50" y2="21.48" stroke="#000" stroke-width="1.0"/>
<line x1="341.30" y1="16.64" x2="343.50" y2="16.64" stroke="#000" stroke-width="1.0"/>
<line x1="341.30" y1="11.80" x2="344.90" y2="11.80" stroke="#000" stroke-width="1.0"/>
<text x="338.30" y="13.77" font-size="8.8" text-anchor="end" >3000</text>
<text x="432.05" y="184.60" font-size="11" text-anchor="middle" >2 Theta</text>
<text transform="translate(312.80,92.50) rotate(-90)" font-size="11" text-anchor="middle">Counts (I/I<tspan font-size="6.8" dy="3.6">o</tspan><tspan dy="-3.6">)</tspan></text>
<text x="347.00" y="24.50" font-size="11.4" text-anchor="start" >(b)</text>
<text x="435.2" y="21.9" font-size="8.12"><tspan font-size="5.6" dy="-0.6">★</tspan><tspan dy="0.6" dx="2.4">= PDF 01-089-0596 Fe</tspan><tspan font-size="4.8" dy="3.0">2</tspan><tspan dy="-3.0">O</tspan><tspan font-size="4.8" dy="3.0">3</tspan></text>
<polygon points="382.80,119.14 383.42,120.79 385.18,120.86 383.80,121.96 384.27,123.66 382.80,122.69 381.33,123.66 381.80,121.96 380.42,120.86 382.18,120.79" fill="#000"/>
<polygon points="408.40,17.14 409.02,18.79 410.78,18.86 409.40,19.96 409.87,21.66 408.40,20.69 406.93,21.66 407.40,19.96 406.02,18.86 407.78,18.79" fill="#000"/>
<polygon points="415.60,56.34 416.22,57.99 417.98,58.06 416.60,59.16 417.07,60.86 415.60,59.89 414.13,60.86 414.60,59.16 413.22,58.06 414.98,57.99" fill="#000"/>
<polygon points="426.00,147.14 426.62,148.79 428.38,148.86 427.00,149.96 427.47,151.66 426.00,150.69 424.53,151.66 425.00,149.96 423.62,148.86 425.38,148.79" fill="#000"/>
<polygon points="430.80,117.74 431.42,119.39 433.18,119.46 431.80,120.56 432.27,122.26 430.80,121.29 429.33,122.26 429.80,120.56 428.42,119.46 430.18,119.39" fill="#000"/>
<polygon points="438.40,147.74 439.02,149.39 440.78,149.46 439.40,150.56 439.87,152.26 438.40,151.29 436.93,152.26 437.40,150.56 436.02,149.46 437.78,149.39" fill="#000"/>
<polygon points="455.20,97.34 455.82,98.99 457.58,99.06 456.20,100.16 456.67,101.86 455.20,100.89 453.73,101.86 454.20,100.16 452.82,99.06 454.58,98.99" fill="#000"/>
<polygon points="468.50,84.74 469.12,86.39 470.88,86.46 469.50,87.56 469.97,89.26 468.50,88.29 467.03,89.26 467.50,87.56 466.12,86.46 467.88,86.39" fill="#000"/>
<polygon points="478.60,134.74 479.22,136.39 480.98,136.46 479.60,137.56 480.07,139.26 478.60,138.29 477.13,139.26 477.60,137.56 476.22,136.46 477.98,136.39" fill="#000"/>
<polygon points="493.20,106.84 493.82,108.49 495.58,108.56 494.20,109.66 494.67,111.36 493.20,110.39 491.73,111.36 492.20,109.66 490.82,108.56 492.58,108.49" fill="#000"/>
<polygon points="497.80,101.74 498.42,103.39 500.18,103.46 498.80,104.56 499.27,106.26 497.80,105.29 496.33,106.26 496.80,104.56 495.42,103.46 497.18,103.39" fill="#000"/>
<polygon points="513.60,144.74 514.22,146.39 515.98,146.46 514.60,147.56 515.07,149.26 513.60,148.29 512.13,149.26 512.60,147.56 511.22,146.46 512.98,146.39" fill="#000"/>
<polygon points="520.00,133.14 520.62,134.79 522.38,134.86 521.00,135.96 521.47,137.66 520.00,136.69 518.53,137.66 519.00,135.96 517.62,134.86 519.38,134.79" fill="#000"/>
<polygon points="530.40,138.34 531.02,139.99 532.78,140.06 531.40,141.16 531.87,142.86 530.40,141.89 528.93,142.86 529.40,141.16 528.02,140.06 529.78,139.99" fill="#000"/>
<polygon points="536.80,142.34 537.42,143.99 539.18,144.06 537.80,145.16 538.27,146.86 536.80,145.89 535.33,146.86 535.80,145.16 534.42,144.06 536.18,143.99" fill="#000"/>
<line x1="179.00" y1="225.60" x2="409.80" y2="225.60" stroke="#8c8c8c" stroke-width="1.0"/>
<line x1="409.80" y1="225.60" x2="409.80" y2="395.20" stroke="#8c8c8c" stroke-width="1.0"/>
<polyline points="179.00,391.44 179.05,391.73 179.10,391.32 179.15,391.39 179.20,392.16 179.25,392.07 179.30,391.74 179.35,391.57 179.40,390.63 179.45,391.60 179.49,391.60 179.54,391.69 179.59,391.38 179.64,391.69 179.69,391.45 179.74,391.91 179.79,391.22 179.84,391.05 179.89,391.29 179.94,391.57 179.99,392.41 180.04,391.13 180.09,390.15 180.14,391.53 180.19,392.17 180.24,392.07 180.29,392.15 180.34,391.55 180.38,391.43 180.43,391.59 180.48,391.78 180.53,391.72 180.58,390.92 180.63,391.33 180.68,391.96 180.73,391.86 180.78,390.55 180.83,391.50 180.88,391.65 180.93,390.99 180.98,391.31 181.03,391.66 181.08,391.39 181.13,391.06 181.18,391.71 181.23,392.76 181.28,391.25 181.32,391.36 181.37,391.50 181.42,391.42 181.47,391.31 181.52,390.73 181.57,392.00 181.62,391.22 181.67,391.42 181.72,390.84 181.77,392.05 181.82,390.89 181.87,391.55 181.92,391.84 181.97,391.25 182.02,392.35 182.07,391.23 182.12,391.41 182.17,391.83 182.21,391.53 182.26,391.06 182.31,391.06 182.36,391.76 182.41,391.16 182.46,390.75 182.51,391.69 182.56,391.68 182.61,391.48 182.66,392.50 182.71,392.11 182.76,391.68 182.81,391.98 182.86,392.45 182.91,391.44 182.96,391.46 183.01,392.04 183.06,391.61 183.10,392.07 183.15,391.60 183.20,392.23 183.25,391.22 183.30,392.00 183.35,392.09 183.40,391.24 183.45,391.98 183.50,391.32 183.55,391.15 183.60,391.54 183.65,390.99 183.70,392.67 183.75,391.36 183.80,390.90 183.85,391.27 183.90,391.88 183.95,391.30 184.00,391.36 184.04,390.95 184.09,391.68 184.14,391.47 184.19,391.15 184.24,392.45 184.29,391.39 184.34,391.50 184.39,391.34 184.44,391.90 184.49,392.09 184.54,391.53 184.59,391.10 184.64,392.38 184.69,391.12 184.74,391.55 184.79,392.12 184.84,391.80 184.89,391.39 184.93,391.85 184.98,391.42 185.03,391.85 185.08,390.84 185.13,391.15 185.18,391.66 185.23,391.31 185.28,391.02 185.33,391.88 185.38,391.73 185.43,392.22 185.48,391.67 185.53,391.28 185.58,391.18 185.63,391.65 185.68,391.50 185.73,391.68 185.78,391.61 185.83,391.24 185.87,391.16 185.92,391.02 185.97,391.30 186.02,391.31 186.07,390.90 186.12,391.16 186.17,390.95 186.22,391.37 186.27,391.48 186.32,391.20 186.37,391.93 186.42,390.80 186.47,391.46 186.52,391.74 186.57,391.37 186.62,391.87 186.67,391.45 186.72,391.93 186.76,391.53 186.81,391.98 186.86,392.85 186.91,390.98 186.96,392.22 187.01,390.25 187.06,392.15 187.11,391.74 187.16,391.68 187.21,391.33 187.26,391.56 187.31,390.97 187.36,391.27 187.41,391.86 187.46,391.23 187.51,391.71 187.56,391.20 187.61,391.05 187.66,391.63 187.70,391.70 187.75,392.19 187.80,392.17 187.85,391.49 187.90,392.25 187.95,391.22 188.00,391.61 188.05,391.10 188.10,391.55 188.15,391.59 188.20,391.28 188.25,391.19 188.30,391.05 188.35,390.89 188.40,391.54 188.45,391.38 188.50,391.69 188.55,392.28 188.59,391.23 188.64,392.24 188.69,391.22 188.74,392.20 188.79,391.83 188.84,391.39 188.89,391.91 188.94,392.04 188.99,390.76 189.04,391.96 189.09,391.80 189.14,392.21 189.19,391.81 189.24,391.47 189.29,391.62 189.34,392.06 189.39,391.97 189.44,391.56 189.48,392.08 189.53,391.04 189.58,392.05 189.63,391.72 189.68,391.67 189.73,391.50 189.78,391.73 189.83,391.90 189.88,391.43 189.93,391.60 189.98,391.85 190.03,391.20 190.08,391.25 190.13,391.71 190.18,391.58 190.23,391.64 190.28,391.70 190.33,391.76 190.38,390.89 190.42,391.27 190.47,391.25 190.52,392.14 190.57,391.43 190.62,391.65 190.67,391.86 190.72,390.97 190.77,391.95 190.82,392.10 190.87,391.82 190.92,391.72 190.97,391.67 191.02,391.48 191.07,391.48 191.12,391.27 191.17,391.63 191.22,391.63 191.27,391.68 191.31,392.12 191.36,391.92 191.41,391.85 191.46,391.96 191.51,390.73 191.56,391.83 191.61,390.76 191.66,391.40 191.71,392.36 191.76,390.96 191.81,391.27 191.86,391.59 191.91,391.17 191.96,391.93 192.01,391.83 192.06,390.96 192.11,390.71 192.16,390.56 192.21,391.64 192.25,391.19 192.30,391.64 192.35,391.72 192.40,391.71 192.45,391.78 192.50,392.03 192.55,391.95 192.60,392.12 192.65,391.63 192.70,391.27 192.75,392.19 192.80,391.22 192.85,391.39 192.90,391.63 192.95,391.59 193.00,391.16 193.05,391.62 193.10,391.74 193.14,390.95 193.19,390.77 193.24,392.63 193.29,390.94 193.34,391.39 193.39,392.81 193.44,390.71 193.49,391.06 193.54,391.61 193.59,392.11 193.64,391.91 193.69,391.65 193.74,391.98 193.79,391.32 193.84,391.26 193.89,391.93 193.94,391.58 193.99,391.41 194.03,391.69 194.08,391.34 194.13,390.27 194.18,391.02 194.23,392.13 194.28,391.08 194.33,391.87 194.38,391.45 194.43,391.25 194.48,391.70 194.53,391.93 194.58,391.59 194.63,391.64 194.68,392.03 194.73,391.23 194.78,391.13 194.83,392.12 194.88,391.41 194.93,391.76 194.97,391.31 195.02,392.11 195.07,391.79 195.12,391.28 195.17,390.96 195.22,391.27 195.27,392.31 195.32,391.80 195.37,391.18 195.42,391.11 195.47,391.47 195.52,391.40 195.57,391.52 195.62,390.86 195.67,391.20 195.72,391.82 195.77,391.74 195.82,391.38 195.86,391.77 195.91,391.34 195.96,392.06 196.01,391.02 196.06,391.72 196.11,391.58 196.16,391.04 196.21,391.64 196.26,392.04 196.31,391.42 196.36,391.37 196.41,391.29 196.46,391.55 196.51,392.11 196.56,390.63 196.61,391.08 196.66,391.47 196.71,391.49 196.76,391.45 196.80,391.75 196.85,391.86 196.90,392.23 196.95,390.86 197.00,391.88 197.05,391.82 197.10,391.06 197.15,392.39 197.20,391.09 197.25,391.61 197.30,391.54 197.35,392.03 197.40,391.74 197.45,391.58 197.50,391.07 197.55,391.96 197.60,392.52 197.65,391.89 197.69,392.07 197.74,391.71 197.79,391.59 197.84,391.46 197.89,391.57 197.94,391.20 197.99,392.24 198.04,392.28 198.09,391.87 198.14,391.47 198.19,391.24 198.24,391.90 198.29,390.77 198.34,391.96 198.39,391.05 198.44,391.85 198.49,391.67 198.54,392.30 198.59,392.50 198.63,391.48 198.68,392.05 198.73,391.12 198.78,391.99 198.83,392.04 198.88,392.03 198.93,391.64 198.98,391.05 199.03,391.14 199.08,391.42 199.13,391.49 199.18,391.74 199.23,391.45 199.28,391.04 199.33,391.55 199.38,391.11 199.43,391.89 199.48,391.40 199.52,391.67 199.57,391.65 199.62,390.43 199.67,391.02 199.72,391.45 199.77,391.61 199.82,391.30 199.87,391.37 199.92,392.01 199.97,390.96 200.02,391.49 200.07,391.74 200.12,391.56 200.17,391.41 200.22,391.41 200.27,391.05 200.32,391.64 200.37,391.28 200.41,391.62 200.46,391.55 200.51,392.04 200.56,392.13 200.61,391.60 200.66,391.57 200.71,391.83 200.76,391.93 200.81,392.28 200.86,391.31 200.91,392.03 200.96,390.67 201.01,390.93 201.06,391.87 201.11,391.28 201.16,391.77 201.21,391.96 201.26,391.77 201.31,391.37 201.35,391.03 201.40,391.58 201.45,391.53 201.50,391.31 201.55,390.55 201.60,390.38 201.65,392.27 201.70,391.48 201.75,391.89 201.80,391.88 201.85,391.56 201.90,391.60 201.95,391.48 202.00,391.92 202.05,391.53 202.10,391.36 202.15,391.12 202.20,390.81 202.24,391.71 202.29,391.68 202.34,392.66 202.39,391.78 202.44,391.74 202.49,391.70 202.54,391.76 202.59,392.00 202.64,391.30 202.69,391.26 202.74,392.02 202.79,391.12 202.84,391.66 202.89,391.69 202.94,391.29 202.99,390.90 203.04,391.60 203.09,391.86 203.14,391.05 203.18,391.82 203.23,391.58 203.28,391.47 203.33,391.20 203.38,391.68 203.43,391.68 203.48,391.14 203.53,390.37 203.58,391.76 203.63,391.55 203.68,391.40 203.73,391.88 203.78,391.83 203.83,391.50 203.88,391.59 203.93,391.43 203.98,391.69 204.03,390.76 204.07,391.49 204.12,391.06 204.17,391.29 204.22,391.31 204.27,390.89 204.32,391.11 204.37,391.05 204.42,391.79 204.47,391.87 204.52,392.00 204.57,391.14 204.62,392.33 204.67,391.48 204.72,392.26 204.77,391.64 204.82,391.67 204.87,391.61 204.92,391.46 204.97,391.94 205.01,391.60 205.06,392.14 205.11,391.56 205.16,391.81 205.21,391.48 205.26,391.45 205.31,391.35 205.36,391.60 205.41,391.87 205.46,391.16 205.51,391.67 205.56,391.99 205.61,391.55 205.66,390.99 205.71,391.34 205.76,390.25 205.81,391.89 205.86,390.81 205.90,391.59 205.95,391.73 206.00,392.33 206.05,391.23 206.10,390.71 206.15,391.94 206.20,391.51 206.25,391.68 206.30,390.81 206.35,392.19 206.40,391.98 206.45,392.41 206.50,390.84 206.55,391.02 206.60,391.52 206.65,391.54 206.70,391.81 206.75,391.41 206.79,391.60 206.84,391.40 206.89,391.81 206.94,392.08 206.99,392.10 207.04,391.68 207.09,390.94 207.14,391.78 207.19,392.05 207.24,391.92 207.29,391.51 207.34,390.66 207.39,391.32 207.44,392.22 207.49,391.60 207.54,391.31 207.59,390.72 207.64,391.11 207.69,391.02 207.73,391.85 207.78,390.67 207.83,391.88 207.88,391.30 207.93,391.45 207.98,391.21 208.03,391.73 208.08,390.66 208.13,391.66 208.18,391.51 208.23,390.62 208.28,391.58 208.33,391.11 208.38,391.94 208.43,390.86 208.48,391.10 208.53,392.12 208.58,391.27 208.62,391.00 208.67,391.74 208.72,391.44 208.77,391.08 208.82,391.92 208.87,390.84 208.92,391.15 208.97,391.85 209.02,391.63 209.07,391.12 209.12,391.40 209.17,392.19 209.22,391.35 209.27,391.66 209.32,391.55 209.37,391.51 209.42,391.88 209.47,390.72 209.52,391.51 209.56,391.01 209.61,391.18 209.66,391.83 209.71,391.61 209.76,391.72 209.81,390.60 209.86,391.84 209.91,391.62 209.96,391.16 210.01,392.06 210.06,391.76 210.11,391.72 210.16,391.10 210.21,391.72 210.26,392.03 210.31,391.53 210.36,390.51 210.41,391.02 210.45,391.36 210.50,391.22 210.55,391.92 210.60,391.36 210.65,391.71 210.70,391.19 210.75,391.43 210.80,391.69 210.85,392.06 210.90,392.22 210.95,391.00 211.00,390.34 211.05,391.95 211.10,391.86 211.15,391.03 211.20,391.94 211.25,391.15 211.30,391.22 211.34,391.99 211.39,390.44 211.44,391.61 211.49,391.23 211.54,391.15 211.59,391.14 211.64,391.70 211.69,391.23 211.74,391.52 211.79,392.12 211.84,390.99 211.89,391.19 211.94,392.16 211.99,392.01 212.04,391.23 212.09,391.51 212.14,391.40 212.19,391.28 212.24,391.34 212.28,391.26 212.33,391.32 212.38,391.25 212.43,390.34 212.48,391.53 212.53,391.50 212.58,391.28 212.63,390.94 212.68,391.77 212.73,391.27 212.78,391.23 212.83,391.56 212.88,391.84 212.93,391.22 212.98,390.66 213.03,391.49 213.08,391.48 213.13,390.60 213.17,390.43 213.22,391.66 213.27,391.20 213.32,390.23 213.37,391.28 213.42,391.49 213.47,390.93 213.52,391.49 213.57,391.58 213.62,391.39 213.67,391.82 213.72,392.27 213.77,391.73 213.82,391.29 213.87,391.30 213.92,391.46 213.97,391.51 214.02,391.65 214.07,390.93 214.11,390.23 214.16,390.76 214.21,391.19 214.26,391.00 214.31,390.45 214.36,391.83 214.41,391.15 214.46,391.80 214.51,391.64 214.56,392.38 214.61,391.18 214.66,391.44 214.71,391.84 214.76,391.42 214.81,390.59 214.86,391.59 214.91,390.91 214.96,390.31 215.00,390.39 215.05,390.15 215.10,392.17 215.15,391.01 215.20,391.06 215.25,392.02 215.30,391.23 215.35,390.98 215.40,392.10 215.45,391.72 215.50,391.55 215.55,390.50 215.60,390.86 215.65,391.00 215.70,391.19 215.75,391.28 215.80,390.97 215.85,390.64 215.90,390.92 215.94,390.91 215.99,391.18 216.04,391.93 216.09,391.47 216.14,390.64 216.19,390.81 216.24,391.08 216.29,390.77 216.34,391.03 216.39,390.97 216.44,391.34 216.49,391.09 216.54,390.87 216.59,391.12 216.64,390.93 216.69,390.72 216.74,390.52 216.79,391.70 216.83,391.08 216.88,390.64 216.93,390.62 216.98,391.21 217.03,390.44 217.08,391.64 217.13,390.72 217.18,391.33 217.23,390.22 217.28,391.07 217.33,391.05 217.38,391.23 217.43,391.04 217.48,389.86 217.53,390.27 217.58,389.90 217.63,390.72 217.68,390.22 217.72,390.50 217.77,390.60 217.82,390.16 217.87,390.77 217.92,391.00 217.97,390.30 218.02,391.07 218.07,391.26 218.12,391.01 218.17,390.98 218.22,390.63 218.27,390.08 218.32,390.53 218.37,390.12 218.42,390.29 218.47,389.90 218.52,390.16 218.57,390.60 218.62,390.59 218.66,390.12 218.71,390.31 218.76,391.36 218.81,390.15 218.86,390.61 218.91,389.91 218.96,390.01 219.01,389.41 219.06,389.85 219.11,389.89 219.16,390.27 219.21,389.85 219.26,389.57 219.31,389.74 219.36,388.93 219.41,389.74 219.46,389.75 219.51,389.06 219.55,389.21 219.60,389.42 219.65,388.85 219.70,388.80 219.75,388.82 219.80,389.02 219.85,388.65 219.90,388.76 219.95,388.82 220.00,388.48 220.05,388.06 220.10,388.00 220.15,388.50 220.20,387.30 220.25,387.70 220.30,387.17 220.35,386.79 220.40,386.03 220.45,386.37 220.49,385.40 220.54,385.79 220.59,385.75 220.64,385.34 220.69,384.93 220.74,384.37 220.79,383.80 220.84,382.98 220.89,381.74 220.94,380.17 220.99,379.91 221.04,377.46 221.09,374.92 221.14,372.40 221.19,369.05 221.24,364.61 221.29,360.19 221.34,353.90 221.38,346.84 221.43,339.10 221.48,330.48 221.53,322.22 221.58,311.75 221.63,300.95 221.68,290.42 221.73,280.41 221.78,271.13 221.83,263.43 221.88,257.22 221.93,253.50 221.98,252.40 222.03,255.02 222.08,260.21 222.13,266.96 222.18,275.68 222.23,284.15 222.28,294.30 222.32,304.74 222.37,314.42 222.42,322.63 222.47,330.67 222.52,338.02 222.57,343.27 222.62,347.59 222.67,352.13 222.72,353.02 222.77,353.47 222.82,353.16 222.87,350.76 222.92,347.19 222.97,342.32 223.02,336.25 223.07,329.78 223.12,319.94 223.17,311.13 223.21,300.10 223.26,290.02 223.31,279.27 223.36,269.90 223.41,261.58 223.46,252.94 223.51,249.07 223.56,246.20 223.61,246.70 223.66,250.54 223.71,255.82 223.76,264.88 223.81,274.23 223.86,284.67 223.91,295.50 223.96,305.77 224.01,316.48 224.06,326.22 224.10,334.77 224.15,342.85 224.20,349.87 224.25,355.61 224.30,360.71 224.35,364.48 224.40,367.54 224.45,371.00 224.50,372.99 224.55,374.86 224.60,376.00 224.65,376.36 224.70,376.49 224.75,377.95 224.80,378.52 224.85,377.09 224.90,377.81 224.95,377.40 225.00,376.37 225.04,376.03 225.09,374.55 225.14,372.90 225.19,370.25 225.24,367.55 225.29,363.63 225.34,360.41 225.39,354.84 225.44,349.80 225.49,342.87 225.54,336.21 225.59,326.00 225.64,317.19 225.69,307.21 225.74,296.49 225.79,285.15 225.84,273.23 225.89,261.73 225.93,251.50 225.98,241.99 226.03,235.50 226.08,229.29 226.13,227.71 226.18,227.65 226.23,230.97 226.28,237.52 226.33,245.68 226.38,255.08 226.43,266.32 226.48,278.83 226.53,290.12 226.58,300.48 226.63,312.02 226.68,322.70 226.73,331.88 226.78,340.32 226.83,347.13 226.87,354.11 226.92,359.73 226.97,363.93 227.02,368.15 227.07,371.19 227.12,374.04 227.17,376.56 227.22,377.29 227.27,379.41 227.32,380.61 227.37,381.90 227.42,381.73 227.47,382.70 227.52,383.22 227.57,383.50 227.62,383.95 227.67,384.49 227.72,384.49 227.76,385.06 227.81,385.61 227.86,385.88 227.91,385.78 227.96,385.21 228.01,386.29 228.06,385.82 228.11,386.05 228.16,387.36 228.21,386.69 228.26,387.04 228.31,387.30 228.36,387.03 228.41,387.60 228.46,386.63 228.51,387.43 228.56,387.15 228.61,387.49 228.65,387.18 228.70,387.44 228.75,388.20 228.80,386.94 228.85,388.03 228.90,388.37 228.95,387.68 229.00,387.64 229.05,387.74 229.10,388.00 229.15,387.97 229.20,388.43 229.25,388.28 229.30,387.94 229.35,388.40 229.40,388.61 229.45,388.15 229.50,388.48 229.55,388.35 229.59,388.60 229.64,388.59 229.69,388.63 229.74,388.42 229.79,389.06 229.84,389.76 229.89,388.81 229.94,389.02 229.99,389.21 230.04,388.36 230.09,388.56 230.14,389.14 230.19,387.88 230.24,388.37 230.29,388.50 230.34,388.66 230.39,388.77 230.44,388.94 230.48,389.37 230.53,388.67 230.58,388.36 230.63,388.99 230.68,388.65 230.73,388.44 230.78,389.15 230.83,387.95 230.88,388.88 230.93,388.92 230.98,388.74 231.03,388.62 231.08,388.63 231.13,388.57 231.18,388.41 231.23,389.30 231.28,388.50 231.33,389.20 231.38,388.62 231.42,388.92 231.47,389.54 231.52,389.06 231.57,388.64 231.62,388.54 231.67,387.65 231.72,388.56 231.77,387.96 231.82,389.12 231.87,388.42 231.92,388.64 231.97,387.72 232.02,388.78 232.07,388.62 232.12,388.07 232.17,387.78 232.22,388.23 232.27,388.08 232.31,387.58 232.36,388.76 232.41,387.78 232.46,388.11 232.51,388.28 232.56,388.13 232.61,387.73 232.66,387.01 232.71,386.11 232.76,386.09 232.81,385.63 232.86,385.79 232.91,384.52 232.96,383.79 233.01,382.23 233.06,382.35 233.11,380.17 233.16,379.30 233.21,377.54 233.25,375.31 233.30,373.53 233.35,372.26 233.40,370.44 233.45,368.11 233.50,366.21 233.55,365.30 233.60,364.00 233.65,361.60 233.70,361.50 233.75,360.34 233.80,361.11 233.85,361.90 233.90,362.81 233.95,363.76 234.00,365.67 234.05,367.72 234.10,369.19 234.14,371.23 234.19,372.97 234.24,373.97 234.29,376.63 234.34,377.80 234.39,379.28 234.44,380.90 234.49,381.98 234.54,382.43 234.59,383.97 234.64,385.13 234.69,384.75 234.74,386.88 234.79,386.24 234.84,387.77 234.89,387.55 234.94,387.26 234.99,387.16 235.03,387.53 235.08,387.83 235.13,388.44 235.18,388.19 235.23,388.92 235.28,388.42 235.33,388.46 235.38,388.41 235.43,388.25 235.48,389.44 235.53,388.16 235.58,388.97 235.63,388.37 235.68,389.33 235.73,388.93 235.78,388.75 235.83,389.59 235.88,388.73 235.93,388.47 235.97,388.44 236.02,388.57 236.07,388.92 236.12,390.39 236.17,389.06 236.22,389.33 236.27,388.84 236.32,388.15 236.37,388.85 236.42,388.99 236.47,388.77 236.52,389.23 236.57,389.52 236.62,388.89 236.67,389.76 236.72,388.91 236.77,388.65 236.82,388.50 236.86,389.34 236.91,389.51 236.96,389.02 237.01,388.69 237.06,388.97 237.11,388.84 237.16,388.67 237.21,388.63 237.26,389.02 237.31,389.14 237.36,388.55 237.41,388.80 237.46,388.22 237.51,389.47 237.56,388.61 237.61,388.21 237.66,389.19 237.71,389.08 237.76,388.45 237.80,388.65 237.85,389.01 237.90,388.89 237.95,389.01 238.00,388.40 238.05,388.30 238.10,388.37 238.15,388.43 238.20,388.45 238.25,388.80 238.30,387.67 238.35,388.79 238.40,388.02 238.45,388.05 238.50,387.45 238.55,387.72 238.60,387.90 238.65,387.46 238.69,387.46 238.74,386.82 238.79,386.52 238.84,386.61 238.89,385.71 238.94,386.02 238.99,384.81 239.04,384.63 239.09,384.51 239.14,384.52 239.19,383.71 239.24,383.62 239.29,382.65 239.34,382.54 239.39,381.29 239.44,380.39 239.49,380.02 239.54,378.86 239.59,378.06 239.63,377.84 239.68,376.34 239.73,375.14 239.78,374.75 239.83,373.55 239.88,373.60 239.93,371.99 239.98,371.15 240.03,370.65 240.08,368.57 240.13,369.06 240.18,367.81 240.23,367.11 240.28,365.45 240.33,365.38 240.38,364.71 240.43,364.64 240.48,364.50 240.52,364.58 240.57,364.42 240.62,365.30 240.67,364.53 240.72,365.44 240.77,365.96 240.82,365.07 240.87,366.97 240.92,367.82 240.97,367.57 241.02,368.23 241.07,369.50 241.12,371.51 241.17,371.39 241.22,372.51 241.27,372.65 241.32,374.72 241.37,376.27 241.41,376.88 241.46,376.94 241.51,378.42 241.56,377.80 241.61,379.64 241.66,380.63 241.71,381.38 241.76,381.55 241.81,381.98 241.86,383.21 241.91,383.80 241.96,384.47 242.01,384.34 242.06,384.85 242.11,385.46 242.16,386.00 242.21,385.52 242.26,386.50 242.31,387.34 242.35,386.83 242.40,386.92 242.45,387.31 242.50,387.28 242.55,387.69 242.60,388.44 242.65,388.43 242.70,388.11 242.75,388.16 242.80,388.38 242.85,388.49 242.90,388.61 242.95,388.01 243.00,388.96 243.05,389.00 243.10,388.73 243.15,388.37 243.20,388.81 243.24,389.64 243.29,389.13 243.34,389.72 243.39,389.87 243.44,388.77 243.49,389.81 243.54,389.51 243.59,389.32 243.64,388.84 243.69,390.12 243.74,389.53 243.79,389.61 243.84,389.06 243.89,389.75 243.94,390.24 243.99,390.09 244.04,389.67 244.09,389.40 244.14,389.51 244.18,390.57 244.23,388.78 244.28,389.33 244.33,389.87 244.38,390.16 244.43,389.58 244.48,389.14 244.53,390.09 244.58,389.08 244.63,389.12 244.68,389.49 244.73,389.45 244.78,389.56 244.83,388.79 244.88,389.67 244.93,390.34 244.98,389.94 245.03,390.32 245.07,389.73 245.12,389.55 245.17,389.22 245.22,390.56 245.27,390.43 245.32,390.15 245.37,390.04 245.42,389.45 245.47,391.13 245.52,389.87 245.57,390.15 245.62,389.40 245.67,389.57 245.72,390.10 245.77,389.62 245.82,390.28 245.87,390.03 245.92,390.70 245.96,389.58 246.01,389.95 246.06,389.53 246.11,390.10 246.16,389.45 246.21,390.47 246.26,390.26 246.31,390.27 246.36,389.50 246.41,390.03 246.46,389.65 246.51,389.85 246.56,390.64 246.61,390.21 246.66,390.83 246.71,389.34 246.76,390.73 246.81,390.15 246.86,389.55 246.90,389.73 246.95,390.57 247.00,388.91 247.05,389.79 247.10,389.46 247.15,389.68 247.20,390.13 247.25,390.14 247.30,389.32 247.35,390.31 247.40,390.19 247.45,389.70 247.50,390.56 247.55,389.78 247.60,389.65 247.65,390.30 247.70,389.75 247.75,390.07 247.79,389.99 247.84,390.54 247.89,389.58 247.94,390.11 247.99,389.22 248.04,390.51 248.09,389.63 248.14,389.73 248.19,389.76 248.24,389.85 248.29,390.00 248.34,389.68 248.39,389.66 248.44,389.50 248.49,389.95 248.54,389.49 248.59,390.10 248.64,390.33 248.69,389.52 248.73,390.26 248.78,389.40 248.83,389.66 248.88,389.90 248.93,390.08 248.98,389.53 249.03,389.50 249.08,389.57 249.13,390.12 249.18,389.78 249.23,389.47 249.28,389.41 249.33,390.27 249.38,389.78 249.43,389.45 249.48,389.85 249.53,389.88 249.58,389.61 249.62,389.51 249.67,389.22 249.72,389.50 249.77,390.51 249.82,389.44 249.87,389.63 249.92,390.15 249.97,389.91 250.02,390.47 250.07,389.92 250.12,389.14 250.17,389.83 250.22,389.55 250.27,390.49 250.32,389.32 250.37,390.14 250.42,389.59 250.47,389.03 250.52,390.36 250.56,389.74 250.61,390.22 250.66,389.37 250.71,389.60 250.76,388.66 250.81,389.13 250.86,389.13 250.91,389.57 250.96,389.58 251.01,388.91 251.06,389.57 251.11,389.42 251.16,389.44 251.21,390.38 251.26,389.23 251.31,389.21 251.36,388.99 251.41,389.78 251.45,388.86 251.50,389.45 251.55,388.68 251.60,389.34 251.65,390.28 251.70,389.18 251.75,388.92 251.80,389.93 251.85,389.51 251.90,389.64 251.95,389.02 252.00,389.03 252.05,388.65 252.10,389.63 252.15,389.35 252.20,388.70 252.25,389.86 252.30,389.15 252.34,388.90 252.39,389.01 252.44,389.22 252.49,388.27 252.54,389.47 252.59,388.45 252.64,388.76 252.69,388.17 252.74,388.91 252.79,388.55 252.84,389.12 252.89,388.60 252.94,388.13 252.99,388.53 253.04,388.02 253.09,388.11 253.14,388.39 253.19,388.41 253.24,388.21 253.28,388.03 253.33,387.48 253.38,387.93 253.43,388.48 253.48,386.99 253.53,387.72 253.58,387.69 253.63,387.47 253.68,387.00 253.73,386.97 253.78,387.48 253.83,387.05 253.88,386.80 253.93,386.90 253.98,387.08 254.03,385.93 254.08,386.04 254.13,385.43 254.17,385.61 254.22,385.50 254.27,384.64 254.32,384.66 254.37,383.92 254.42,383.28 254.47,383.00 254.52,382.07 254.57,380.86 254.62,380.20 254.67,378.17 254.72,375.18 254.77,373.59 254.82,371.32 254.87,368.49 254.92,365.59 254.97,362.36 255.02,357.69 255.07,354.95 255.11,350.19 255.16,347.11 255.21,342.29 255.26,337.73 255.31,333.53 255.36,331.71 255.41,328.27 255.46,326.28 255.51,324.60 255.56,324.30 255.61,325.35 255.66,325.87 255.71,328.14 255.76,330.85 255.81,334.14 255.86,337.46 255.91,340.18 255.96,343.52 256.00,346.24 256.05,348.87 256.10,352.74 256.15,354.81 256.20,355.65 256.25,357.05 256.30,357.16 256.35,357.96 256.40,358.57 256.45,358.81 256.50,357.64 256.55,357.86 256.60,356.76 256.65,356.74 256.70,355.66 256.75,355.32 256.80,355.46 256.85,354.46 256.90,353.31 256.94,353.51 256.99,353.85 257.04,353.41 257.09,354.51 257.14,354.58 257.19,353.91 257.24,355.29 257.29,355.63 257.34,355.32 257.39,354.28 257.44,354.18 257.49,352.35 257.54,350.27 257.59,349.71 257.64,346.30 257.69,342.85 257.74,339.04 257.79,334.64 257.83,329.23 257.88,323.63 257.93,316.44 257.98,310.94 258.03,303.11 258.08,296.83 258.13,290.07 258.18,285.11 258.23,280.94 258.28,278.41 258.33,279.19 258.38,279.85 258.43,282.89 258.48,287.96 258.53,294.53 258.58,300.58 258.63,308.83 258.68,316.30 258.72,323.58 258.77,332.06 258.82,339.08 258.87,345.60 258.92,351.32 258.97,357.38 259.02,361.82 259.07,365.41 259.12,368.91 259.17,371.99 259.22,374.72 259.27,376.78 259.32,377.99 259.37,379.86 259.42,380.63 259.47,381.32 259.52,382.46 259.57,383.08 259.62,383.50 259.66,383.74 259.71,384.40 259.76,384.53 259.81,384.73 259.86,384.40 259.91,385.21 259.96,385.32 260.01,385.87 260.06,386.66 260.11,386.39 260.16,385.98 260.21,386.44 260.26,386.75 260.31,387.22 260.36,387.04 260.41,386.10 260.46,386.76 260.51,386.85 260.55,387.15 260.60,387.52 260.65,387.54 260.70,387.18 260.75,386.97 260.80,387.21 260.85,387.53 260.90,387.44 260.95,387.13 261.00,387.91 261.05,388.04 261.10,387.05 261.15,387.70 261.20,386.85 261.25,388.20 261.30,388.47 261.35,388.01 261.40,387.20 261.45,387.69 261.49,388.21 261.54,388.31 261.59,388.31 261.64,387.86 261.69,386.39 261.74,387.02 261.79,387.56 261.84,387.11 261.89,386.96 261.94,386.52 261.99,386.73 262.04,386.47 262.09,386.12 262.14,385.15 262.19,385.40 262.24,385.25 262.29,385.04 262.34,385.36 262.38,384.89 262.43,384.46 262.48,383.50 262.53,382.97 262.58,383.18 262.63,382.17 262.68,382.60 262.73,381.47 262.78,381.03 262.83,380.47 262.88,379.78 262.93,380.07 262.98,379.82 263.03,379.09 263.08,378.70 263.13,378.74 263.18,378.03 263.23,377.72 263.27,378.47 263.32,378.25 263.37,377.78 263.42,377.81 263.47,378.50 263.52,378.52 263.57,377.87 263.62,379.80 263.67,378.86 263.72,380.60 263.77,379.95 263.82,381.21 263.87,381.54 263.92,382.16 263.97,382.00 264.02,382.71 264.07,383.13 264.12,383.14 264.17,384.35 264.21,383.85 264.26,384.85 264.31,385.18 264.36,384.91 264.41,386.38 264.46,386.77 264.51,386.41 264.56,386.30 264.61,386.47 264.66,387.65 264.71,387.15 264.76,387.66 264.81,387.21 264.86,387.79 264.91,388.09 264.96,388.36 265.01,387.98 265.06,387.74 265.10,387.32 265.15,389.28 265.20,388.82 265.25,388.56 265.30,389.06 265.35,388.63 265.40,389.07 265.45,388.91 265.50,389.20 265.55,388.47 265.60,388.52 265.65,388.95 265.70,389.14 265.75,389.22 265.80,389.70 265.85,388.44 265.90,388.96 265.95,389.43 266.00,389.12 266.04,389.14 266.09,389.24 266.14,389.08 266.19,389.15 266.24,390.43 266.29,388.57 266.34,389.99 266.39,388.93 266.44,390.34 266.49,389.84 266.54,389.38 266.59,389.28 266.64,389.28 266.69,389.69 266.74,389.80 266.79,389.38 266.84,389.53 266.89,389.82 266.93,389.74 266.98,389.33 267.03,390.43 267.08,389.36 267.13,389.78 267.18,389.67 267.23,389.50 267.28,389.43 267.33,389.04 267.38,389.09 267.43,389.39 267.48,391.19 267.53,389.77 267.58,389.37 267.63,389.06 267.68,390.14 267.73,389.57 267.78,389.96 267.83,389.85 267.87,389.24 267.92,388.95 267.97,389.15 268.02,389.68 268.07,389.44 268.12,389.75 268.17,389.42 268.22,389.49 268.27,389.96 268.32,388.87 268.37,389.23 268.42,389.48 268.47,389.86 268.52,389.62 268.57,389.52 268.62,390.30 268.67,390.12 268.72,389.38 268.76,389.26 268.81,389.48 268.86,390.37 268.91,389.67 268.96,389.27 269.01,389.71 269.06,389.83 269.11,389.45 269.16,389.82 269.21,390.73 269.26,389.60 269.31,389.54 269.36,389.98 269.41,389.17 269.46,389.26 269.51,389.43 269.56,389.97 269.61,389.14 269.65,389.57 269.70,390.10 269.75,390.15 269.80,389.61 269.85,389.35 269.90,388.64 269.95,388.80 270.00,390.56 270.05,389.35 270.10,389.26 270.15,389.19 270.20,389.42 270.25,389.69 270.30,389.64 270.35,390.11 270.40,389.91 270.45,389.20 270.50,389.99 270.55,389.39 270.59,388.93 270.64,389.67 270.69,389.35 270.74,389.97 270.79,389.27 270.84,389.24 270.89,389.80 270.94,389.43 270.99,389.48 271.04,389.78 271.09,390.41 271.14,389.53 271.19,389.04 271.24,389.68 271.29,390.25 271.34,390.15 271.39,390.15 271.44,389.47 271.48,390.06 271.53,389.73 271.58,389.56 271.63,390.02 271.68,389.96 271.73,389.17 271.78,389.34 271.83,390.02 271.88,388.97 271.93,390.36 271.98,389.83 272.03,389.42 272.08,388.90 272.13,389.61 272.18,389.92 272.23,389.88 272.28,389.91 272.33,389.73 272.38,389.29 272.42,389.03 272.47,389.41 272.52,389.25 272.57,389.20 272.62,389.84 272.67,389.43 272.72,389.58 272.77,390.06 272.82,389.86 272.87,389.69 272.92,389.83 272.97,389.50 273.02,390.16 273.07,388.83 273.12,389.87 273.17,389.98 273.22,389.66 273.27,389.83 273.31,388.49 273.36,389.95 273.41,389.34 273.46,389.23 273.51,389.83 273.56,389.25 273.61,389.69 273.66,389.07 273.71,389.26 273.76,389.44 273.81,388.71 273.86,389.49 273.91,390.31 273.96,389.94 274.01,389.69 274.06,389.53 274.11,389.77 274.16,388.93 274.21,389.11 274.25,389.17 274.30,389.42 274.35,389.25 274.40,389.39 274.45,388.85 274.50,388.86 274.55,389.38 274.60,390.16 274.65,390.27 274.70,389.29 274.75,389.73 274.80,388.53 274.85,389.04 274.90,389.22 274.95,389.20 275.00,389.03 275.05,389.78 275.10,389.52 275.14,388.87 275.19,389.32 275.24,389.27 275.29,389.16 275.34,389.86 275.39,389.54 275.44,390.15 275.49,389.54 275.54,389.73 275.59,389.53 275.64,388.54 275.69,389.23 275.74,389.41 275.79,389.74 275.84,389.53 275.89,388.87 275.94,389.47 275.99,388.60 276.03,389.63 276.08,389.26 276.13,389.56 276.18,389.42 276.23,388.42 276.28,389.55 276.33,389.46 276.38,389.81 276.43,389.15 276.48,389.01 276.53,389.08 276.58,388.28 276.63,389.41 276.68,388.97 276.73,389.22 276.78,389.61 276.83,389.47 276.88,389.54 276.93,389.61 276.97,388.99 277.02,388.57 277.07,389.13 277.12,389.72 277.17,388.87 277.22,389.13 277.27,388.65 277.32,389.44 277.37,389.39 277.42,388.95 277.47,388.72 277.52,389.40 277.57,388.20 277.62,389.11 277.67,389.15 277.72,389.09 277.77,388.95 277.82,388.78 277.86,389.83 277.91,388.94 277.96,389.14 278.01,388.22 278.06,389.35 278.11,388.67 278.16,389.09 278.21,388.92 278.26,388.95 278.31,388.84 278.36,389.00 278.41,389.43 278.46,388.61 278.51,388.61 278.56,388.80 278.61,388.49 278.66,388.15 278.71,389.28 278.76,387.92 278.80,388.79 278.85,388.93 278.90,388.79 278.95,388.62 279.00,387.92 279.05,388.77 279.10,388.90 279.15,388.19 279.20,389.18 279.25,388.97 279.30,388.79 279.35,389.36 279.40,389.08 279.45,389.38 279.50,389.21 279.55,389.21 279.60,387.81 279.65,388.56 279.69,388.78 279.74,389.08 279.79,388.16 279.84,388.86 279.89,388.97 279.94,388.88 279.99,388.91 280.04,388.37 280.09,389.31 280.14,389.04 280.19,387.75 280.24,389.16 280.29,389.56 280.34,387.84 280.39,388.39 280.44,388.08 280.49,388.43 280.54,387.79 280.58,388.85 280.63,388.74 280.68,387.86 280.73,388.03 280.78,387.59 280.83,388.19 280.88,387.94 280.93,388.72 280.98,388.30 281.03,387.60 281.08,387.90 281.13,387.51 281.18,387.11 281.23,387.05 281.28,385.49 281.33,387.34 281.38,386.24 281.43,387.44 281.48,387.11 281.52,386.32 281.57,386.04 281.62,386.59 281.67,386.26 281.72,385.59 281.77,385.90 281.82,385.90 281.87,384.98 281.92,384.41 281.97,384.98 282.02,384.51 282.07,383.78 282.12,383.68 282.17,382.89 282.22,381.63 282.27,381.66 282.32,381.39 282.37,380.01 282.41,379.31 282.46,378.69 282.51,378.83 282.56,378.05 282.61,377.45 282.66,377.01 282.71,375.78 282.76,375.31 282.81,374.34 282.86,373.07 282.91,373.06 282.96,371.70 283.01,371.03 283.06,370.27 283.11,369.41 283.16,368.84 283.21,367.94 283.26,368.21 283.31,367.45 283.35,366.59 283.40,366.32 283.45,365.87 283.50,366.08 283.55,366.06 283.60,365.37 283.65,366.18 283.70,365.81 283.75,365.79 283.80,365.86 283.85,367.28 283.90,366.40 283.95,367.45 284.00,368.40 284.05,368.60 284.10,369.63 284.15,371.01 284.20,370.16 284.24,371.57 284.29,371.87 284.34,373.69 284.39,373.70 284.44,375.05 284.49,375.14 284.54,375.84 284.59,376.11 284.64,377.87 284.69,378.05 284.74,379.38 284.79,378.24 284.84,379.69 284.89,381.07 284.94,382.11 284.99,381.48 285.04,381.92 285.09,382.57 285.14,382.84 285.18,383.84 285.23,383.91 285.28,385.01 285.33,385.06 285.38,384.37 285.43,385.74 285.48,385.73 285.53,385.42 285.58,386.12 285.63,385.57 285.68,386.72 285.73,386.30 285.78,386.48 285.83,386.69 285.88,387.23 285.93,387.16 285.98,387.42 286.03,386.98 286.07,386.61 286.12,387.65 286.17,387.87 286.22,387.55 286.27,387.87 286.32,387.54 286.37,388.13 286.42,387.70 286.47,387.58 286.52,388.00 286.57,388.28 286.62,387.33 286.67,388.59 286.72,388.41 286.77,387.61 286.82,387.84 286.87,387.53 286.92,388.15 286.96,388.17 287.01,388.44 287.06,387.46 287.11,387.74 287.16,388.15 287.21,387.57 287.26,388.01 287.31,387.87 287.36,388.63 287.41,388.92 287.46,387.35 287.51,388.34 287.56,387.74 287.61,388.47 287.66,388.23 287.71,387.97 287.76,387.51 287.81,388.31 287.86,388.24 287.90,388.44 287.95,388.31 288.00,387.99 288.05,388.13 288.10,388.25 288.15,388.25 288.20,389.40 288.25,387.62 288.30,388.23 288.35,388.35 288.40,388.51 288.45,388.05 288.50,388.19 288.55,388.25 288.60,388.52 288.65,389.12 288.70,388.71 288.75,388.88 288.79,388.83 288.84,387.94 288.89,388.50 288.94,388.27 288.99,387.80 289.04,387.79 289.09,388.07 289.14,388.26 289.19,388.56 289.24,388.19 289.29,388.10 289.34,388.03 289.39,388.57 289.44,388.22 289.49,387.64 289.54,388.43 289.59,387.95 289.64,388.85 289.69,388.10 289.73,387.69 289.78,387.97 289.83,388.31 289.88,388.11 289.93,387.78 289.98,388.28 290.03,388.52 290.08,387.93 290.13,387.69 290.18,388.62 290.23,387.91 290.28,388.42 290.33,386.91 290.38,387.54 290.43,388.04 290.48,386.95 290.53,387.37 290.58,387.26 290.62,388.17 290.67,387.27 290.72,386.91 290.77,387.32 290.82,387.62 290.87,387.87 290.92,387.01 290.97,385.94 291.02,386.60 291.07,386.32 291.12,386.94 291.17,385.97 291.22,385.31 291.27,384.83 291.32,385.37 291.37,384.17 291.42,384.19 291.47,383.11 291.52,383.37 291.56,382.90 291.61,381.96 291.66,382.65 291.71,382.58 291.76,381.80 291.81,381.03 291.86,381.87 291.91,381.23 291.96,381.48 292.01,380.57 292.06,381.85 292.11,382.25 292.16,381.09 292.21,381.45 292.26,381.70 292.31,382.92 292.36,381.89 292.41,383.01 292.45,382.87 292.50,383.53 292.55,383.83 292.60,383.81 292.65,383.63 292.70,383.58 292.75,384.43 292.80,383.86 292.85,383.89 292.90,384.83 292.95,384.90 293.00,384.78 293.05,384.78 293.10,384.45 293.15,384.28 293.20,383.98 293.25,383.97 293.30,383.99 293.34,383.47 293.39,383.22 293.44,383.53 293.49,383.21 293.54,382.16 293.59,382.29 293.64,382.25 293.69,382.61 293.74,382.11 293.79,382.48 293.84,383.20 293.89,382.53 293.94,383.56 293.99,383.85 294.04,383.01 294.09,384.33 294.14,383.60 294.19,383.41 294.24,383.99 294.28,384.73 294.33,384.51 294.38,384.19 294.43,384.59 294.48,385.20 294.53,384.78 294.58,385.26 294.63,385.09 294.68,385.14 294.73,385.31 294.78,385.06 294.83,385.40 294.88,384.47 294.93,385.82 294.98,384.42 295.03,385.71 295.08,384.59 295.13,385.19 295.17,383.89 295.22,383.95 295.27,384.54 295.32,383.83 295.37,384.22 295.42,384.53 295.47,384.32 295.52,384.02 295.57,383.78 295.62,384.35 295.67,384.08 295.72,383.32 295.77,383.64 295.82,383.77 295.87,383.67 295.92,383.09 295.97,383.73 296.02,383.10 296.07,383.67 296.11,384.02 296.16,383.78 296.21,383.81 296.26,384.24 296.31,384.11 296.36,384.95 296.41,384.49 296.46,383.51 296.51,384.68 296.56,384.37 296.61,384.23 296.66,384.01 296.71,384.68 296.76,384.43 296.81,384.98 296.86,384.33 296.91,384.10 296.96,384.33 297.00,384.35 297.05,384.14 297.10,384.00 297.15,383.99 297.20,384.28 297.25,383.53 297.30,384.15 297.35,383.56 297.40,384.24 297.45,383.71 297.50,383.92 297.55,384.13 297.60,384.81 297.65,383.96 297.70,384.17 297.75,384.26 297.80,383.87 297.85,384.87 297.89,385.29 297.94,384.98 297.99,385.46 298.04,385.26 298.09,384.96 298.14,386.28 298.19,385.01 298.24,385.26 298.29,384.92 298.34,385.53 298.39,386.12 298.44,385.62 298.49,385.25 298.54,385.74 298.59,385.60 298.64,385.48 298.69,385.36 298.74,386.77 298.79,385.65 298.83,386.25 298.88,385.97 298.93,386.84 298.98,386.73 299.03,386.25 299.08,386.42 299.13,386.72 299.18,385.66 299.23,386.26 299.28,386.27 299.33,386.74 299.38,386.39 299.43,385.69 299.48,385.70 299.53,386.24 299.58,386.66 299.63,385.31 299.68,386.38 299.72,386.45 299.77,386.55 299.82,385.07 299.87,385.90 299.92,386.48 299.97,386.43 300.02,385.96 300.07,386.53 300.12,386.36 300.17,384.68 300.22,385.75 300.27,386.48 300.32,385.81 300.37,385.43 300.42,386.21 300.47,385.89 300.52,385.34 300.57,385.54 300.62,385.08 300.66,384.58 300.71,383.80 300.76,383.85 300.81,382.78 300.86,382.73 300.91,381.20 300.96,380.32 301.01,378.62 301.06,377.15 301.11,375.62 301.16,374.68 301.21,372.49 301.26,370.81 301.31,368.57 301.36,366.63 301.41,366.58 301.46,365.08 301.51,365.34 301.55,365.76 301.60,366.96 301.65,367.62 301.70,369.87 301.75,370.71 301.80,373.18 301.85,374.78 301.90,377.00 301.95,378.67 302.00,380.36 302.05,381.42 302.10,383.15 302.15,382.92 302.20,384.12 302.25,383.33 302.30,384.35 302.35,384.71 302.40,385.07 302.45,384.78 302.49,385.41 302.54,386.09 302.59,385.53 302.64,385.69 302.69,386.50 302.74,385.39 302.79,386.37 302.84,386.41 302.89,386.82 302.94,385.74 302.99,385.97 303.04,385.82 303.09,386.82 303.14,386.15 303.19,386.58 303.24,385.82 303.29,386.06 303.34,386.23 303.38,386.55 303.43,386.34 303.48,386.00 303.53,385.38 303.58,386.10 303.63,385.75 303.68,386.17 303.73,385.88 303.78,385.81 303.83,385.14 303.88,386.31 303.93,384.85 303.98,384.97 304.03,384.99 304.08,385.63 304.13,384.79 304.18,383.07 304.23,383.04 304.27,382.52 304.32,381.78 304.37,380.75 304.42,378.61 304.47,376.67 304.52,376.14 304.57,373.63 304.62,371.79 304.67,369.85 304.72,368.37 304.77,367.26 304.82,365.48 304.87,364.91 304.92,366.04 304.97,366.12 305.02,367.11 305.07,368.69 305.12,371.01 305.17,372.78 305.21,373.82 305.26,377.03 305.31,377.26 305.36,379.65 305.41,380.22 305.46,382.33 305.51,382.98 305.56,383.43 305.61,384.63 305.66,385.52 305.71,385.71 305.76,384.75 305.81,385.46 305.86,385.19 305.91,385.81 305.96,385.94 306.01,385.87 306.06,386.15 306.10,386.00 306.15,385.89 306.20,386.37 306.25,385.81 306.30,385.44 306.35,385.86 306.40,385.94 306.45,386.06 306.50,386.88 306.55,386.66 306.60,385.34 306.65,386.48 306.70,386.24 306.75,386.10 306.80,386.58 306.85,386.50 306.90,385.88 306.95,386.81 307.00,386.17 307.04,386.07 307.09,385.89 307.14,385.31 307.19,386.25 307.24,386.09 307.29,385.62 307.34,385.82 307.39,385.26 307.44,386.02 307.49,385.57 307.54,385.10 307.59,385.03 307.64,386.05 307.69,385.30 307.74,385.77 307.79,385.71 307.84,385.70 307.89,385.04 307.93,385.36 307.98,385.14 308.03,384.25 308.08,385.47 308.13,384.45 308.18,384.31 308.23,384.02 308.28,383.85 308.33,383.80 308.38,383.11 308.43,382.90 308.48,382.67 308.53,381.38 308.58,382.26 308.63,381.11 308.68,380.61 308.73,379.59 308.78,378.58 308.83,377.37 308.87,376.85 308.92,376.02 308.97,375.11 309.02,372.48 309.07,371.26 309.12,369.77 309.17,367.91 309.22,365.65 309.27,363.31 309.32,360.76 309.37,358.50 309.42,355.51 309.47,352.30 309.52,350.89 309.57,346.77 309.62,344.76 309.67,341.59 309.72,338.36 309.76,336.31 309.81,333.34 309.86,331.73 309.91,329.33 309.96,327.80 310.01,326.52 310.06,326.37 310.11,325.78 310.16,325.82 310.21,326.33 310.26,328.46 310.31,330.13 310.36,331.45 310.41,333.61 310.46,335.81 310.51,337.86 310.56,340.81 310.61,344.11 310.65,346.53 310.70,348.40 310.75,349.95 310.80,352.83 310.85,355.27 310.90,356.42 310.95,357.64 311.00,358.60 311.05,361.19 311.10,361.05 311.15,362.09 311.20,363.03 311.25,363.12 311.30,363.17 311.35,362.64 311.40,363.28 311.45,363.19 311.50,362.58 311.55,361.72 311.59,361.58 311.64,361.30 311.69,360.86 311.74,360.00 311.79,359.65 311.84,359.89 311.89,359.11 311.94,359.04 311.99,358.95 312.04,359.43 312.09,360.06 312.14,361.50 312.19,360.99 312.24,363.18 312.29,363.44 312.34,364.25 312.39,366.07 312.44,367.18 312.48,368.45 312.53,369.30 312.58,370.65 312.63,371.27 312.68,372.98 312.73,372.78 312.78,375.01 312.83,375.75 312.88,375.98 312.93,376.77 312.98,379.03 313.03,379.09 313.08,379.54 313.13,380.46 313.18,379.52 313.23,380.90 313.28,380.91 313.33,382.38 313.38,382.46 313.42,382.76 313.47,383.38 313.52,383.31 313.57,384.27 313.62,383.79 313.67,384.51 313.72,385.14 313.77,383.93 313.82,383.84 313.87,384.47 313.92,384.34 313.97,385.29 314.02,384.89 314.07,384.80 314.12,385.01 314.17,384.87 314.22,385.65 314.27,385.33 314.31,385.60 314.36,385.38 314.41,385.47 314.46,385.14 314.51,385.55 314.56,386.40 314.61,384.74 314.66,385.44 314.71,385.17 314.76,385.44 314.81,385.14 314.86,385.86 314.91,386.00 314.96,384.59 315.01,385.07 315.06,386.35 315.11,386.40 315.16,385.38 315.20,385.21 315.25,385.80 315.30,386.04 315.35,384.92 315.40,385.39 315.45,385.56 315.50,385.37 315.55,386.60 315.60,385.59 315.65,386.32 315.70,385.26 315.75,386.12 315.80,386.30 315.85,384.16 315.90,385.11 315.95,385.52 316.00,386.02 316.05,385.01 316.10,384.91 316.14,385.43 316.19,385.21 316.24,385.33 316.29,386.38 316.34,386.26 316.39,385.13 316.44,385.17 316.49,385.66 316.54,386.21 316.59,385.69 316.64,384.79 316.69,385.41 316.74,385.47 316.79,385.11 316.84,385.57 316.89,385.28 316.94,386.52 316.99,385.45 317.03,386.33 317.08,385.82 317.13,385.38 317.18,385.27 317.23,385.66 317.28,386.25 317.33,385.63 317.38,385.48 317.43,385.38 317.48,385.72 317.53,385.36 317.58,385.85 317.63,385.55 317.68,385.38 317.73,384.49 317.78,385.31 317.83,385.46 317.88,385.80 317.93,385.12 317.97,385.55 318.02,385.47 318.07,385.70 318.12,385.75 318.17,384.59 318.22,386.06 318.27,385.21 318.32,384.93 318.37,385.05 318.42,385.07 318.47,385.59 318.52,384.80 318.57,385.37 318.62,385.66 318.67,385.34 318.72,385.23 318.77,385.98 318.82,384.72 318.86,385.51 318.91,385.31 318.96,384.71 319.01,384.47 319.06,385.33 319.11,385.58 319.16,385.29 319.21,385.66 319.26,385.70 319.31,384.79 319.36,384.65 319.41,385.33 319.46,385.12 319.51,385.43 319.56,384.76 319.61,385.28 319.66,385.63 319.71,385.00 319.76,385.35 319.80,385.16 319.85,384.92 319.90,385.00 319.95,386.12 320.00,384.83 320.05,385.08 320.10,385.35 320.15,384.79 320.20,385.55 320.25,386.49 320.30,384.17 320.35,385.25 320.40,384.86 320.45,384.19 320.50,385.05 320.55,385.28 320.60,384.50 320.65,384.50 320.69,384.22 320.74,383.64 320.79,384.32 320.84,383.36 320.89,384.20 320.94,382.99 320.99,381.47 321.04,381.45 321.09,380.26 321.14,379.37 321.19,377.85 321.24,375.99 321.29,374.10 321.34,372.22 321.39,370.55 321.44,367.76 321.49,366.54 321.54,363.89 321.58,362.76 321.63,361.96 321.68,362.41 321.73,362.22 321.78,363.45 321.83,365.85 321.88,366.95 321.93,369.62 321.98,371.27 322.03,373.08 322.08,374.86 322.13,376.97 322.18,379.32 322.23,379.73 322.28,380.55 322.33,381.51 322.38,382.25 322.43,382.86 322.48,382.70 322.52,383.18 322.57,383.25 322.62,383.56 322.67,383.36 322.72,383.41 322.77,383.90 322.82,383.04 322.87,383.20 322.92,382.61 322.97,382.25 323.02,381.21 323.07,381.86 323.12,380.31 323.17,379.49 323.22,378.72 323.27,376.63 323.32,374.80 323.37,373.84 323.41,371.56 323.46,369.43 323.51,367.14 323.56,365.10 323.61,362.82 323.66,361.26 323.71,360.72 323.76,360.24 323.81,360.73 323.86,361.88 323.91,363.95 323.96,365.82 324.01,368.22 324.06,370.93 324.11,372.83 324.16,374.56 324.21,376.91 324.26,378.24 324.31,379.48 324.35,380.52 324.40,380.92 324.45,381.88 324.50,382.77 324.55,382.35 324.60,382.62 324.65,382.22 324.70,383.29 324.75,382.56 324.80,382.57 324.85,382.90 324.90,382.50 324.95,382.38 325.00,381.46 325.05,380.60 325.10,380.64 325.15,379.36 325.20,378.01 325.24,376.79 325.29,374.26 325.34,373.85 325.39,371.49 325.44,368.41 325.49,366.55 325.54,363.38 325.59,362.12 325.64,359.94 325.69,359.68 325.74,359.10 325.79,360.14 325.84,361.94 325.89,363.75 325.94,365.22 325.99,367.02 326.04,369.22 326.09,371.58 326.14,373.87 326.18,375.76 326.23,376.93 326.28,378.01 326.33,378.71 326.38,379.33 326.43,379.87 326.48,379.07 326.53,380.56 326.58,380.94 326.63,379.77 326.68,380.30 326.73,378.96 326.78,379.51 326.83,378.40 326.88,377.91 326.93,377.16 326.98,376.06 327.03,376.41 327.07,375.89 327.12,374.97 327.17,373.59 327.22,372.22 327.27,372.35 327.32,370.47 327.37,370.17 327.42,369.31 327.47,368.42 327.52,367.35 327.57,367.45 327.62,367.24 327.67,367.69 327.72,366.44 327.77,366.84 327.82,367.47 327.87,368.11 327.92,367.80 327.96,368.65 328.01,369.13 328.06,369.74 328.11,369.97 328.16,371.61 328.21,371.68 328.26,372.50 328.31,373.60 328.36,373.64 328.41,374.22 328.46,375.61 328.51,374.65 328.56,375.79 328.61,375.21 328.66,375.92 328.71,375.54 328.76,375.13 328.81,374.79 328.86,374.28 328.90,373.20 328.95,372.31 329.00,371.23 329.05,370.69 329.10,369.91 329.15,368.11 329.20,367.62 329.25,365.34 329.30,363.95 329.35,361.66 329.40,359.76 329.45,357.51 329.50,355.46 329.55,353.84 329.60,351.61 329.65,349.22 329.70,346.70 329.75,343.51 329.79,341.94 329.84,339.36 329.89,336.87 329.94,335.32 329.99,333.03 330.04,331.64 330.09,330.21 330.14,330.07 330.19,328.78 330.24,327.85 330.29,327.55 330.34,328.17 330.39,328.21 330.44,328.81 330.49,331.64 330.54,333.38 330.59,335.26 330.64,336.99 330.69,338.38 330.73,342.11 330.78,343.59 330.83,345.60 330.88,348.08 330.93,350.73 330.98,354.18 331.03,355.82 331.08,358.22 331.13,359.52 331.18,363.35 331.23,364.11 331.28,366.19 331.33,367.66 331.38,369.36 331.43,371.78 331.48,372.38 331.53,374.26 331.58,375.44 331.62,376.13 331.67,376.70 331.72,378.22 331.77,378.50 331.82,379.46 331.87,379.87 331.92,380.99 331.97,380.82 332.02,381.45 332.07,381.73 332.12,383.05 332.17,382.54 332.22,383.07 332.27,383.76 332.32,382.85 332.37,383.51 332.42,383.79 332.47,383.48 332.51,384.25 332.56,384.54 332.61,384.15 332.66,385.29 332.71,384.63 332.76,384.33 332.81,384.77 332.86,385.84 332.91,385.13 332.96,384.93 333.01,385.20 333.06,385.62 333.11,386.37 333.16,385.14 333.21,385.46 333.26,385.90 333.31,384.95 333.36,385.83 333.41,386.00 333.45,385.61 333.50,386.41 333.55,385.89 333.60,385.63 333.65,386.14 333.70,386.01 333.75,385.70 333.80,385.76 333.85,386.25 333.90,385.83 333.95,386.13 334.00,385.93 334.05,385.90 334.10,386.65 334.15,387.41 334.20,386.52 334.25,385.91 334.30,386.59 334.34,385.82 334.39,387.17 334.44,386.15 334.49,386.76 334.54,386.34 334.59,387.32 334.64,386.14 334.69,386.65 334.74,386.28 334.79,386.28 334.84,386.71 334.89,385.34 334.94,385.49 334.99,385.99 335.04,386.42 335.09,386.21 335.14,386.29 335.19,386.07 335.24,386.46 335.28,385.98 335.33,385.82 335.38,386.46 335.43,386.02 335.48,386.42 335.53,387.17 335.58,385.57 335.63,385.88 335.68,385.97 335.73,385.63 335.78,386.42 335.83,385.83 335.88,385.83 335.93,385.57 335.98,385.47 336.03,385.70 336.08,385.21 336.13,385.97 336.17,386.11 336.22,385.55 336.27,385.49 336.32,385.97 336.37,384.70 336.42,385.80 336.47,385.17 336.52,385.06 336.57,384.24 336.62,385.22 336.67,384.75 336.72,385.12 336.77,385.20 336.82,384.70 336.87,384.83 336.92,384.64 336.97,385.34 337.02,384.44 337.07,384.41 337.11,384.95 337.16,384.54 337.21,384.49 337.26,384.63 337.31,384.49 337.36,384.37 337.41,384.69 337.46,384.50 337.51,385.03 337.56,384.57 337.61,384.03 337.66,384.40 337.71,385.94 337.76,385.74 337.81,385.19 337.86,384.81 337.91,385.25 337.96,385.05 338.00,384.97 338.05,385.54 338.10,385.40 338.15,385.21 338.20,385.61 338.25,385.28 338.30,385.76 338.35,385.91 338.40,385.84 338.45,386.43 338.50,386.05 338.55,385.22 338.60,386.52 338.65,385.71 338.70,385.59 338.75,386.73 338.80,385.95 338.85,385.96 338.89,385.91 338.94,386.81 338.99,385.79 339.04,385.53 339.09,385.62 339.14,386.41 339.19,385.50 339.24,386.36 339.29,385.76 339.34,386.25 339.39,386.45 339.44,386.77 339.49,386.47 339.54,387.06 339.59,386.82 339.64,386.21 339.69,387.08 339.74,385.96 339.79,386.44 339.83,386.57 339.88,385.32 339.93,386.19 339.98,387.18 340.03,386.16 340.08,385.91 340.13,386.39 340.18,386.26 340.23,386.39 340.28,386.42 340.33,386.83 340.38,386.49 340.43,385.61 340.48,386.18 340.53,386.29 340.58,385.79 340.63,386.36 340.68,386.04 340.72,386.61 340.77,385.71 340.82,386.30 340.87,386.43 340.92,386.59 340.97,386.61 341.02,385.96 341.07,386.20 341.12,386.56 341.17,386.47 341.22,386.39 341.27,385.97 341.32,386.64 341.37,386.79 341.42,386.86 341.47,385.87 341.52,385.42 341.57,385.71 341.62,386.42 341.66,386.10 341.71,386.12 341.76,385.77 341.81,385.67 341.86,385.76 341.91,386.32 341.96,384.75 342.01,385.49 342.06,385.12 342.11,385.68 342.16,385.55 342.21,386.18 342.26,385.77 342.31,385.70 342.36,385.48 342.41,385.78 342.46,385.54 342.51,385.35 342.55,385.10 342.60,384.40 342.65,384.48 342.70,384.22 342.75,383.74 342.80,383.87 342.85,383.29 342.90,382.59 342.95,382.93 343.00,382.88 343.05,382.16 343.10,382.03 343.15,381.27 343.20,380.67 343.25,380.80 343.30,379.40 343.35,379.33 343.40,379.14 343.45,377.16 343.49,377.93 343.54,376.85 343.59,375.90 343.64,375.36 343.69,374.62 343.74,374.57 343.79,373.70 343.84,372.71 343.89,372.55 343.94,371.42 343.99,371.84 344.04,371.86 344.09,370.80 344.14,370.59 344.19,370.05 344.24,371.48 344.29,371.02 344.34,371.13 344.38,370.82 344.43,371.56 344.48,371.30 344.53,372.38 344.58,373.77 344.63,373.93 344.68,374.62 344.73,375.21 344.78,375.45 344.83,376.77 344.88,377.32 344.93,377.38 344.98,378.36 345.03,377.71 345.08,379.06 345.13,380.17 345.18,380.59 345.23,381.44 345.27,381.14 345.32,381.34 345.37,381.94 345.42,382.04 345.47,382.51 345.52,382.49 345.57,381.65 345.62,382.50 345.67,383.22 345.72,382.34 345.77,381.98 345.82,381.39 345.87,381.30 345.92,381.94 345.97,381.64 346.02,380.32 346.07,380.94 346.12,381.04 346.17,380.57 346.21,380.64 346.26,379.78 346.31,379.32 346.36,378.20 346.41,379.02 346.46,377.68 346.51,377.86 346.56,376.93 346.61,376.63 346.66,375.52 346.71,375.72 346.76,375.16 346.81,374.96 346.86,374.67 346.91,374.34 346.96,374.54 347.01,374.92 347.06,373.61 347.10,373.79 347.15,373.95 347.20,374.32 347.25,373.73 347.30,374.92 347.35,374.87 347.40,375.37 347.45,375.13 347.50,375.54 347.55,376.81 347.60,376.10 347.65,376.94 347.70,376.94 347.75,377.27 347.80,377.55 347.85,377.73 347.90,377.76 347.95,377.59 348.00,377.67 348.04,377.20 348.09,378.07 348.14,377.24 348.19,377.99 348.24,377.20 348.29,377.43 348.34,376.77 348.39,377.00 348.44,376.73 348.49,375.25 348.54,376.24 348.59,374.87 348.64,374.11 348.69,374.94 348.74,374.50 348.79,374.17 348.84,372.92 348.89,372.88 348.93,372.88 348.98,373.00 349.03,372.91 349.08,372.27 349.13,371.81 349.18,371.83 349.23,371.67 349.28,371.95 349.33,372.57 349.38,372.50 349.43,372.15 349.48,372.73 349.53,372.77 349.58,372.67 349.63,373.34 349.68,372.76 349.73,373.09 349.78,373.36 349.82,373.10 349.87,373.23 349.92,372.38 349.97,372.77 350.02,372.21 350.07,371.50 350.12,370.24 350.17,370.02 350.22,367.67 350.27,367.80 350.32,366.46 350.37,364.74 350.42,364.23 350.47,362.39 350.52,361.59 350.57,360.72 350.62,359.90 350.67,359.23 350.72,357.86 350.76,358.50 350.81,357.73 350.86,357.55 350.91,357.96 350.96,358.03 351.01,359.10 351.06,360.65 351.11,360.61 351.16,362.62 351.21,365.17 351.26,366.28 351.31,366.75 351.36,369.74 351.41,370.84 351.46,372.12 351.51,373.55 351.56,374.86 351.61,376.51 351.65,377.06 351.70,378.35 351.75,379.67 351.80,380.01 351.85,380.58 351.90,382.89 351.95,382.33 352.00,382.25 352.05,382.98 352.10,383.52 352.15,384.16 352.20,383.99 352.25,385.12 352.30,384.00 352.35,384.77 352.40,384.43 352.45,384.73 352.50,383.56 352.55,385.63 352.59,384.69 352.64,385.52 352.69,386.08 352.74,384.64 352.79,385.31 352.84,384.87 352.89,384.97 352.94,384.49 352.99,384.67 353.04,384.75 353.09,384.44 353.14,385.01 353.19,384.06 353.24,384.28 353.29,383.90 353.34,383.29 353.39,383.57 353.44,383.20 353.48,383.22 353.53,382.89 353.58,383.38 353.63,382.49 353.68,382.65 353.73,382.08 353.78,382.35 353.83,381.87 353.88,381.91 353.93,382.67 353.98,381.25 354.03,381.74 354.08,380.76 354.13,381.96 354.18,381.57 354.23,381.26 354.28,381.11 354.33,381.32 354.38,381.31 354.42,381.10 354.47,382.17 354.52,382.51 354.57,382.20 354.62,382.49 354.67,382.18 354.72,381.89 354.77,382.39 354.82,383.32 354.87,382.49 354.92,383.69 354.97,383.66 355.02,383.40 355.07,383.52 355.12,383.32 355.17,385.08 355.22,384.23 355.27,384.84 355.31,385.42 355.36,385.07 355.41,385.68 355.46,386.09 355.51,385.57 355.56,386.86 355.61,385.94 355.66,386.65 355.71,386.45 355.76,385.44 355.81,386.27 355.86,387.40 355.91,385.76 355.96,386.80 356.01,386.41 356.06,387.32 356.11,387.82 356.16,386.48 356.20,387.25 356.25,387.48 356.30,387.18 356.35,388.15 356.40,387.01 356.45,387.77 356.50,386.61 356.55,387.79 356.60,387.68 356.65,388.23 356.70,387.32 356.75,387.05 356.80,387.23 356.85,387.10 356.90,387.35 356.95,386.54 357.00,388.04 357.05,387.06 357.10,388.62 357.14,387.77 357.19,387.38 357.24,387.58 357.29,387.64 357.34,387.65 357.39,388.66 357.44,388.09 357.49,387.20 357.54,388.41 357.59,388.11 357.64,388.04 357.69,387.58 357.74,387.76 357.79,387.50 357.84,387.93 357.89,387.76 357.94,388.15 357.99,387.56 358.03,388.24 358.08,387.49 358.13,387.80 358.18,386.96 358.23,388.18 358.28,387.26 358.33,387.72 358.38,387.85 358.43,387.25 358.48,387.58 358.53,388.12 358.58,387.90 358.63,388.11 358.68,388.25 358.73,388.26 358.78,388.50 358.83,388.03 358.88,388.03 358.93,388.29 358.97,387.73 359.02,387.99 359.07,388.78 359.12,387.85 359.17,388.22 359.22,387.28 359.27,387.88 359.32,387.59 359.37,388.45 359.42,388.21 359.47,388.79 359.52,387.62 359.57,387.60 359.62,388.84 359.67,388.84 359.72,388.50 359.77,388.31 359.82,388.23 359.86,388.09 359.91,388.08 359.96,387.94 360.01,387.87 360.06,388.12 360.11,387.26 360.16,388.12 360.21,387.80 360.26,387.80 360.31,387.63 360.36,388.23 360.41,388.32 360.46,387.64 360.51,387.23 360.56,387.70 360.61,388.08 360.66,388.56 360.71,387.53 360.76,388.15 360.80,387.78 360.85,388.32 360.90,387.63 360.95,388.46 361.00,388.01 361.05,388.54 361.10,388.39 361.15,387.64 361.20,388.09 361.25,388.02 361.30,388.09 361.35,387.25 361.40,387.80 361.45,388.39 361.50,387.93 361.55,388.06 361.60,387.99 361.65,387.35 361.69,387.75 361.74,388.12 361.79,387.68 361.84,388.02 361.89,388.02 361.94,387.65 361.99,387.21 362.04,387.68 362.09,387.97 362.14,386.85 362.19,388.01 362.24,388.24 362.29,387.15 362.34,387.46 362.39,388.19 362.44,387.31 362.49,387.58 362.54,387.28 362.58,387.81 362.63,386.90 362.68,387.68 362.73,387.16 362.78,386.97 362.83,388.06 362.88,387.28 362.93,387.82 362.98,386.90 363.03,387.47 363.08,387.46 363.13,386.92 363.18,386.65 363.23,386.43 363.28,387.01 363.33,386.90 363.38,387.14 363.43,387.06 363.48,386.14 363.52,386.93 363.57,387.15 363.62,386.94 363.67,386.06 363.72,386.24 363.77,386.28 363.82,385.70 363.87,387.07 363.92,386.22 363.97,386.25 364.02,385.43 364.07,385.76 364.12,384.71 364.17,385.16 364.22,385.70 364.27,384.93 364.32,385.00 364.37,385.41 364.41,384.54 364.46,384.02 364.51,384.35 364.56,385.56 364.61,383.81 364.66,384.40 364.71,384.26 364.76,384.93 364.81,383.51 364.86,383.98 364.91,383.82 364.96,384.26 365.01,384.32 365.06,383.28 365.11,384.09 365.16,384.72 365.21,384.61 365.26,383.98 365.31,383.19 365.35,383.31 365.40,383.87 365.45,383.34 365.50,384.55 365.55,383.52 365.60,382.98 365.65,384.07 365.70,383.22 365.75,383.60 365.80,383.16 365.85,383.99 365.90,382.84 365.95,383.37 366.00,383.17 366.05,383.56 366.10,384.23 366.15,383.04 366.20,382.96 366.24,382.00 366.29,382.73 366.34,382.76 366.39,382.71 366.44,381.86 366.49,382.58 366.54,382.57 366.59,382.59 366.64,381.73 366.69,382.37 366.74,382.16 366.79,381.25 366.84,381.11 366.89,381.06 366.94,381.34 366.99,381.81 367.04,381.41 367.09,380.90 367.13,381.41 367.18,380.67 367.23,381.57 367.28,381.35 367.33,380.43 367.38,381.00 367.43,380.53 367.48,380.39 367.53,381.34 367.58,380.49 367.63,380.14 367.68,380.94 367.73,380.76 367.78,382.07 367.83,380.80 367.88,381.36 367.93,380.75 367.98,381.04 368.03,381.59 368.07,382.43 368.12,382.51 368.17,382.63 368.22,381.61 368.27,382.49 368.32,383.07 368.37,383.88 368.42,383.32 368.47,383.58 368.52,383.10 368.57,384.43 368.62,383.96 368.67,384.74 368.72,384.19 368.77,384.69 368.82,385.09 368.87,384.78 368.92,384.90 368.96,384.17 369.01,385.72 369.06,385.11 369.11,385.62 369.16,385.22 369.21,386.13 369.26,385.03 369.31,386.11 369.36,385.46 369.41,386.00 369.46,386.50 369.51,385.83 369.56,387.02 369.61,386.03 369.66,386.81 369.71,386.78 369.76,386.04 369.81,386.36 369.86,386.42 369.90,386.28 369.95,386.58 370.00,386.78 370.05,387.12 370.10,386.44 370.15,386.66 370.20,386.06 370.25,386.83 370.30,386.97 370.35,387.43 370.40,386.33 370.45,386.13 370.50,386.52 370.55,386.41 370.60,386.47 370.65,387.26 370.70,386.98 370.75,387.27 370.79,386.33 370.84,386.49 370.89,387.12 370.94,385.90 370.99,386.85 371.04,387.09 371.09,387.10 371.14,386.85 371.19,387.43 371.24,385.94 371.29,386.82 371.34,387.09 371.39,386.90 371.44,386.90 371.49,386.80 371.54,386.62 371.59,386.44 371.64,386.68 371.69,387.25 371.73,387.29 371.78,387.76 371.83,387.43 371.88,386.30 371.93,386.44 371.98,386.37 372.03,387.40 372.08,386.59 372.13,386.57 372.18,386.85 372.23,386.62 372.28,386.92 372.33,387.48 372.38,387.78 372.43,387.71 372.48,386.90 372.53,386.81 372.58,386.65 372.62,386.69 372.67,386.95 372.72,387.43 372.77,386.56 372.82,386.63 372.87,386.15 372.92,386.20 372.97,386.86 373.02,387.26 373.07,387.55 373.12,387.10 373.17,386.87 373.22,386.89 373.27,386.26 373.32,386.70 373.37,386.57 373.42,386.96 373.47,386.78 373.51,386.04 373.56,386.78 373.61,387.28 373.66,387.53 373.71,386.20 373.76,386.81 373.81,386.48 373.86,387.18 373.91,386.84 373.96,386.45 374.01,387.02 374.06,386.83 374.11,386.79 374.16,386.18 374.21,387.07 374.26,386.12 374.31,386.04 374.36,385.66 374.41,384.67 374.45,384.77 374.50,384.97 374.55,383.96 374.60,383.05 374.65,383.77 374.70,383.79 374.75,383.02 374.80,382.11 374.85,381.49 374.90,381.50 374.95,381.99 375.00,380.48 375.05,380.63 375.10,381.13 375.15,381.30 375.20,380.78 375.25,381.28 375.30,380.56 375.34,381.02 375.39,381.14 375.44,380.61 375.49,381.94 375.54,382.12 375.59,382.78 375.64,382.86 375.69,382.79 375.74,382.68 375.79,383.05 375.84,383.84 375.89,383.38 375.94,384.50 375.99,384.02 376.04,384.39 376.09,384.20 376.14,384.73 376.19,384.09 376.24,383.83 376.28,383.79 376.33,384.98 376.38,384.35 376.43,384.95 376.48,384.95 376.53,385.00 376.58,384.33 376.63,384.01 376.68,384.54 376.73,384.62 376.78,384.52 376.83,384.53 376.88,384.73 376.93,384.27 376.98,384.43 377.03,384.81 377.08,383.78 377.13,383.71 377.17,383.31 377.22,384.01 377.27,383.11 377.32,383.33 377.37,383.32 377.42,384.23 377.47,383.34 377.52,383.67 377.57,382.35 377.62,384.13 377.67,382.84 377.72,383.57 377.77,383.19 377.82,384.01 377.87,383.05 377.92,383.40 377.97,382.49 378.02,383.32 378.07,382.85 378.11,383.06 378.16,383.14 378.21,382.67 378.26,383.15 378.31,384.04 378.36,383.27 378.41,383.00 378.46,382.39 378.51,382.25 378.56,382.95 378.61,382.23 378.66,382.82 378.71,382.93 378.76,382.58 378.81,383.07 378.86,382.30 378.91,382.10 378.96,381.84 379.00,382.48 379.05,382.16 379.10,382.02 379.15,382.39 379.20,382.65 379.25,382.01 379.30,382.08 379.35,382.22 379.40,381.37 379.45,383.17 379.50,381.84 379.55,382.72 379.60,382.41 379.65,382.88 379.70,381.48 379.75,383.09 379.80,381.83 379.85,382.73 379.89,381.25 379.94,381.92 379.99,382.21 380.04,381.97 380.09,381.48 380.14,381.71 380.19,382.05 380.24,380.96 380.29,381.55 380.34,381.80 380.39,382.15 380.44,381.96 380.49,382.25 380.54,382.41 380.59,381.66 380.64,381.02 380.69,381.69 380.74,381.70 380.79,381.15 380.83,382.10 380.88,381.64 380.93,381.88 380.98,382.33 381.03,381.34 381.08,381.39 381.13,381.34 381.18,381.42 381.23,382.17 381.28,381.26 381.33,381.44 381.38,381.13 381.43,381.32 381.48,381.58 381.53,380.46 381.58,381.16 381.63,381.48 381.68,381.00 381.72,381.17 381.77,380.65 381.82,380.44 381.87,380.61 381.92,379.80 381.97,379.20 382.02,378.92 382.07,378.75 382.12,377.49 382.17,377.94 382.22,377.19 382.27,377.22 382.32,376.08 382.37,374.50 382.42,375.00 382.47,373.75 382.52,372.82 382.57,371.70 382.62,371.81 382.66,371.67 382.71,371.01 382.76,370.59 382.81,370.47 382.86,371.34 382.91,372.25 382.96,373.07 383.01,373.10 383.06,373.76 383.11,375.08 383.16,375.50 383.21,377.07 383.26,376.99 383.31,378.23 383.36,378.27 383.41,378.96 383.46,380.15 383.51,381.04 383.55,380.06 383.60,380.78 383.65,381.21 383.70,381.82 383.75,382.50 383.80,382.08 383.85,382.12 383.90,383.33 383.95,383.01 384.00,383.06 384.05,383.39 384.10,382.88 384.15,383.52 384.20,384.73 384.25,383.37 384.30,383.35 384.35,384.23 384.40,383.70 384.44,383.61 384.49,383.02 384.54,383.67 384.59,383.57 384.64,384.10 384.69,384.02 384.74,384.73 384.79,384.77 384.84,383.80 384.89,384.00 384.94,384.47 384.99,384.82 385.04,384.61 385.09,384.31 385.14,384.30 385.19,384.01 385.24,384.03 385.29,385.25 385.34,384.02 385.38,384.08 385.43,385.12 385.48,384.76 385.53,384.17 385.58,383.97 385.63,384.38 385.68,384.80 385.73,384.30 385.78,384.26 385.83,383.85 385.88,384.33 385.93,383.96 385.98,384.40 386.03,384.12 386.08,384.77 386.13,384.33 386.18,383.77 386.23,384.20 386.27,384.40 386.32,384.22 386.37,384.59 386.42,384.42 386.47,383.82 386.52,382.97 386.57,384.02 386.62,384.69 386.67,384.10 386.72,383.68 386.77,384.48 386.82,383.82 386.87,384.56 386.92,384.08 386.97,384.06 387.02,384.63 387.07,383.81 387.12,383.79 387.17,384.45 387.21,383.54 387.26,384.51 387.31,383.57 387.36,383.99 387.41,382.86 387.46,384.03 387.51,383.77 387.56,384.70 387.61,384.14 387.66,383.97 387.71,383.53 387.76,384.07 387.81,384.54 387.86,383.40 387.91,384.45 387.96,383.95 388.01,385.47 388.06,383.51 388.10,383.65 388.15,384.72 388.20,383.94 388.25,384.98 388.30,385.04 388.35,384.62 388.40,384.70 388.45,384.74 388.50,384.75 388.55,385.56 388.60,385.12 388.65,385.15 388.70,385.56 388.75,384.64 388.80,385.25 388.85,385.52 388.90,385.47 388.95,385.54 389.00,384.79 389.04,385.51 389.09,384.70 389.14,386.00 389.19,385.01 389.24,385.12 389.29,384.77 389.34,386.07 389.39,385.39 389.44,385.43 389.49,386.33 389.54,386.28 389.59,385.83 389.64,386.76 389.69,386.48 389.74,385.74 389.79,385.27 389.84,386.26 389.89,385.57 389.93,386.20 389.98,386.41 390.03,386.46 390.08,386.55 390.13,385.77 390.18,385.89 390.23,385.90 390.28,385.52 390.33,386.55 390.38,386.62 390.43,386.89 390.48,385.76 390.53,386.77 390.58,386.06 390.63,386.84 390.68,387.22 390.73,386.75 390.78,386.53 390.82,386.06 390.87,386.82 390.92,386.76 390.97,387.02 391.02,387.37 391.07,386.86 391.12,387.03 391.17,386.21 391.22,386.77 391.27,386.48 391.32,386.70 391.37,386.55 391.42,386.41 391.47,386.51 391.52,386.00 391.57,385.77 391.62,385.49 391.67,386.20 391.72,386.06 391.76,386.00 391.81,385.15 391.86,384.60 391.91,385.23 391.96,385.16 392.01,385.38 392.06,384.93 392.11,384.76 392.16,385.37 392.21,384.47 392.26,384.27 392.31,384.60 392.36,384.27 392.41,383.77 392.46,384.05 392.51,384.75 392.56,384.03 392.61,383.00 392.65,384.33 392.70,383.00 392.75,383.67 392.80,383.92 392.85,384.36 392.90,383.24 392.95,383.45 393.00,383.37 393.05,383.40 393.10,383.01 393.15,383.97 393.20,383.04 393.25,383.28 393.30,382.55 393.35,382.79 393.40,382.52 393.45,382.30 393.50,382.70 393.55,382.81 393.59,382.64 393.64,382.22 393.69,381.32 393.74,381.30 393.79,381.32 393.84,381.82 393.89,381.02 393.94,381.36 393.99,381.73 394.04,381.25 394.09,381.13 394.14,382.14 394.19,381.86 394.24,381.51 394.29,380.91 394.34,381.11 394.39,381.12 394.44,380.29 394.48,380.13 394.53,381.10 394.58,379.82 394.63,380.48 394.68,380.38 394.73,379.93 394.78,379.65 394.83,380.63 394.88,379.90 394.93,379.62 394.98,379.86 395.03,379.79 395.08,379.31 395.13,379.01 395.18,379.32 395.23,379.64 395.28,379.03 395.33,379.18 395.38,378.96 395.42,379.29 395.47,379.02 395.52,378.99 395.57,378.20 395.62,378.90 395.67,378.34 395.72,379.05 395.77,378.78 395.82,378.09 395.87,378.01 395.92,377.67 395.97,377.60 396.02,376.86 396.07,377.59 396.12,377.02 396.17,376.30 396.22,376.19 396.27,376.39 396.31,376.07 396.36,375.26 396.41,375.72 396.46,374.52 396.51,375.60 396.56,374.22 396.61,374.15 396.66,375.10 396.71,374.13 396.76,374.59 396.81,374.04 396.86,372.81 396.91,372.70 396.96,372.75 397.01,372.70 397.06,372.06 397.11,372.20 397.16,371.36 397.20,371.09 397.25,370.73 397.30,369.66 397.35,370.36 397.40,370.07 397.45,368.97 397.50,369.22 397.55,368.08 397.60,368.18 397.65,367.20 397.70,367.06 397.75,365.92 397.80,366.15 397.85,365.84 397.90,364.58 397.95,365.02 398.00,364.20 398.05,363.97 398.10,364.09 398.14,363.25 398.19,363.40 398.24,363.20 398.29,363.66 398.34,362.21 398.39,362.34 398.44,361.99 398.49,363.62 398.54,362.36 398.59,362.98 398.64,362.61 398.69,362.52 398.74,362.19 398.79,363.54 398.84,363.11 398.89,363.93 398.94,364.35 398.99,364.65 399.03,364.54 399.08,364.45 399.13,364.56 399.18,365.35 399.23,366.70 399.28,366.77 399.33,367.29 399.38,367.96 399.43,368.66 399.48,369.01 399.53,369.19 399.58,369.73 399.63,369.98 399.68,370.58 399.73,371.00 399.78,372.21 399.83,372.63 399.88,372.27 399.93,373.19 399.97,374.42 400.02,374.01 400.07,374.41 400.12,375.33 400.17,375.28 400.22,376.56 400.27,376.48 400.32,376.93 400.37,377.08 400.42,377.24 400.47,377.70 400.52,378.62 400.57,379.41 400.62,378.48 400.67,379.19 400.72,380.19 400.77,380.05 400.82,379.84 400.86,379.81 400.91,381.34 400.96,381.03 401.01,380.87 401.06,381.51 401.11,381.18 401.16,381.82 401.21,382.44 401.26,382.09 401.31,382.12 401.36,382.38 401.41,382.98 401.46,383.38 401.51,382.94 401.56,383.17 401.61,384.57 401.66,385.04 401.71,384.33 401.75,384.29 401.80,384.33 401.85,385.14 401.90,384.63 401.95,383.94 402.00,385.31 402.05,384.73 402.10,385.11 402.15,385.20 402.20,385.18 402.25,384.86 402.30,385.30 402.35,385.43 402.40,385.94 402.45,385.94 402.50,385.59 402.55,386.16 402.60,386.15 402.65,386.06 402.69,386.13 402.74,385.69 402.79,385.49 402.84,387.20 402.89,386.42 402.94,385.91 402.99,385.80 403.04,386.01 403.09,385.54 403.14,385.68 403.19,385.51 403.24,386.67 403.29,386.01 403.34,385.73 403.39,385.02 403.44,385.97 403.49,386.17 403.54,385.39 403.58,385.42 403.63,384.60 403.68,385.58 403.73,384.78 403.78,385.54 403.83,384.43 403.88,384.77 403.93,383.96 403.98,385.31 404.03,384.22 404.08,384.12 404.13,383.99 404.18,383.07 404.23,383.00 404.28,383.43 404.33,382.35 404.38,382.77 404.43,382.00 404.48,382.97 404.52,381.93 404.57,381.26 404.62,380.54 404.67,381.61 404.72,380.39 404.77,380.86 404.82,381.38 404.87,380.66 404.92,380.59 404.97,381.10 405.02,380.63 405.07,381.13 405.12,380.62 405.17,380.93 405.22,381.76 405.27,381.53 405.32,382.52 405.37,382.46 405.41,381.92 405.46,382.71 405.51,383.47 405.56,383.53 405.61,383.99 405.66,384.31 405.71,384.72 405.76,384.72 405.81,384.44 405.86,384.34 405.91,384.96 405.96,384.67 406.01,384.93 406.06,384.70 406.11,385.17 406.16,385.13 406.21,384.95 406.26,384.91 406.31,385.26 406.35,385.74 406.40,385.42 406.45,385.19 406.50,385.17 406.55,385.43 406.60,386.04 406.65,386.05 406.70,386.11 406.75,386.01 406.80,386.39 406.85,385.76 406.90,385.60 406.95,385.81 407.00,386.92 407.05,386.57 407.10,385.67 407.15,386.03 407.20,387.18 407.24,386.83 407.29,386.38 407.34,387.00 407.39,386.48 407.44,386.95 407.49,385.86 407.54,386.68 407.59,386.32 407.64,385.96 407.69,384.96 407.74,385.63 407.79,385.96 407.84,386.89 407.89,385.19 407.94,385.41 407.99,386.55 408.04,384.93 408.09,385.09 408.13,385.50 408.18,385.41 408.23,385.00 408.28,385.27 408.33,385.35 408.38,385.59 408.43,385.04 408.48,385.89 408.53,385.41 408.58,385.94 408.63,385.72 408.68,385.71 408.73,385.09 408.78,386.22 408.83,385.52 408.88,385.59 408.93,385.80 408.98,385.29 409.03,386.70 409.07,385.62 409.12,385.92 409.17,385.85 409.22,385.65 409.27,385.59 409.32,386.26 409.37,386.55 409.42,385.85 409.47,385.82 409.52,385.85 409.57,386.29 409.62,385.71 409.67,386.70 409.72,386.31 409.77,385.34" fill="none" stroke="#000" stroke-width="1.05" stroke-linejoin="round"/>
<line x1="179.00" y1="225.10" x2="179.00" y2="396.15" stroke="#000" stroke-width="1.9"/>
<line x1="178.05" y1="395.20" x2="410.30" y2="395.20" stroke="#000" stroke-width="1.9"/>
<line x1="179.00" y1="395.20" x2="179.00" y2="391.00" stroke="#000" stroke-width="1.2"/>
<line x1="182.30" y1="395.20" x2="182.30" y2="392.40" stroke="#000" stroke-width="1.2"/>
<line x1="185.59" y1="395.20" x2="185.59" y2="392.40" stroke="#000" stroke-width="1.2"/>
<line x1="188.89" y1="395.20" x2="188.89" y2="392.40" stroke="#000" stroke-width="1.2"/>
<line x1="192.19" y1="395.20" x2="192.19" y2="392.40" stroke="#000" stroke-width="1.2"/>
<line x1="195.49" y1="395.20" x2="195.49" y2="392.40" stroke="#000" stroke-width="1.2"/>
<line x1="198.78" y1="395.20" x2="198.78" y2="392.40" stroke="#000" stroke-width="1.2"/>
<line x1="202.08" y1="395.20" x2="202.08" y2="392.40" stroke="#000" stroke-width="1.2"/>
<line x1="205.38" y1="395.20" x2="205.38" y2="392.40" stroke="#000" stroke-width="1.2"/>
<line x1="208.67" y1="395.20" x2="208.67" y2="392.40" stroke="#000" stroke-width="1.2"/>
<line x1="211.97" y1="395.20" x2="211.97" y2="391.00" stroke="#000" stroke-width="1.2"/>
<line x1="215.27" y1="395.20" x2="215.27" y2="392.40" stroke="#000" stroke-width="1.2"/>
<line x1="218.57" y1="395.20" x2="218.57" y2="392.40" stroke="#000" stroke-width="1.2"/>
<line x1="221.86" y1="395.20" x2="221.86" y2="392.40" stroke="#000" stroke-width="1.2"/>
<line x1="225.16" y1="395.20" x2="225.16" y2="392.40" stroke="#000" stroke-width="1.2"/>
<line x1="228.46" y1="395.20" x2="228.46" y2="392.40" stroke="#000" stroke-width="1.2"/>
<line x1="231.75" y1="395.20" x2="231.75" y2="392.40" stroke="#000" stroke-width="1.2"/>
<line x1="235.05" y1="395.20" x2="235.05" y2="392.40" stroke="#000" stroke-width="1.2"/>
<line x1="238.35" y1="395.20" x2="238.35" y2="392.40" stroke="#000" stroke-width="1.2"/>
<line x1="241.65" y1="395.20" x2="241.65" y2="392.40" stroke="#000" stroke-width="1.2"/>
<line x1="244.94" y1="395.20" x2="244.94" y2="391.00" stroke="#000" stroke-width="1.2"/>
<line x1="248.24" y1="395.20" x2="248.24" y2="392.40" stroke="#000" stroke-width="1.2"/>
<line x1="251.54" y1="395.20" x2="251.54" y2="392.40" stroke="#000" stroke-width="1.2"/>
<line x1="254.83" y1="395.20" x2="254.83" y2="392.40" stroke="#000" stroke-width="1.2"/>
<line x1="258.13" y1="395.20" x2="258.13" y2="392.40" stroke="#000" stroke-width="1.2"/>
<line x1="261.43" y1="395.20" x2="261.43" y2="392.40" stroke="#000" stroke-width="1.2"/>
<line x1="264.73" y1="395.20" x2="264.73" y2="392.40" stroke="#000" stroke-width="1.2"/>
<line x1="268.02" y1="395.20" x2="268.02" y2="392.40" stroke="#000" stroke-width="1.2"/>
<line x1="271.32" y1="395.20" x2="271.32" y2="392.40" stroke="#000" stroke-width="1.2"/>
<line x1="274.62" y1="395.20" x2="274.62" y2="392.40" stroke="#000" stroke-width="1.2"/>
<line x1="277.91" y1="395.20" x2="277.91" y2="391.00" stroke="#000" stroke-width="1.2"/>
<line x1="281.21" y1="395.20" x2="281.21" y2="392.40" stroke="#000" stroke-width="1.2"/>
<line x1="284.51" y1="395.20" x2="284.51" y2="392.40" stroke="#000" stroke-width="1.2"/>
<line x1="287.81" y1="395.20" x2="287.81" y2="392.40" stroke="#000" stroke-width="1.2"/>
<line x1="291.10" y1="395.20" x2="291.10" y2="392.40" stroke="#000" stroke-width="1.2"/>
<line x1="294.40" y1="395.20" x2="294.40" y2="392.40" stroke="#000" stroke-width="1.2"/>
<line x1="297.70" y1="395.20" x2="297.70" y2="392.40" stroke="#000" stroke-width="1.2"/>
<line x1="300.99" y1="395.20" x2="300.99" y2="392.40" stroke="#000" stroke-width="1.2"/>
<line x1="304.29" y1="395.20" x2="304.29" y2="392.40" stroke="#000" stroke-width="1.2"/>
<line x1="307.59" y1="395.20" x2="307.59" y2="392.40" stroke="#000" stroke-width="1.2"/>
<line x1="310.89" y1="395.20" x2="310.89" y2="391.00" stroke="#000" stroke-width="1.2"/>
<line x1="314.18" y1="395.20" x2="314.18" y2="392.40" stroke="#000" stroke-width="1.2"/>
<line x1="317.48" y1="395.20" x2="317.48" y2="392.40" stroke="#000" stroke-width="1.2"/>
<line x1="320.78" y1="395.20" x2="320.78" y2="392.40" stroke="#000" stroke-width="1.2"/>
<line x1="324.07" y1="395.20" x2="324.07" y2="392.40" stroke="#000" stroke-width="1.2"/>
<line x1="327.37" y1="395.20" x2="327.37" y2="392.40" stroke="#000" stroke-width="1.2"/>
<line x1="330.67" y1="395.20" x2="330.67" y2="392.40" stroke="#000" stroke-width="1.2"/>
<line x1="333.97" y1="395.20" x2="333.97" y2="392.40" stroke="#000" stroke-width="1.2"/>
<line x1="337.26" y1="395.20" x2="337.26" y2="392.40" stroke="#000" stroke-width="1.2"/>
<line x1="340.56" y1="395.20" x2="340.56" y2="392.40" stroke="#000" stroke-width="1.2"/>
<line x1="343.86" y1="395.20" x2="343.86" y2="391.00" stroke="#000" stroke-width="1.2"/>
<line x1="347.15" y1="395.20" x2="347.15" y2="392.40" stroke="#000" stroke-width="1.2"/>
<line x1="350.45" y1="395.20" x2="350.45" y2="392.40" stroke="#000" stroke-width="1.2"/>
<line x1="353.75" y1="395.20" x2="353.75" y2="392.40" stroke="#000" stroke-width="1.2"/>
<line x1="357.05" y1="395.20" x2="357.05" y2="392.40" stroke="#000" stroke-width="1.2"/>
<line x1="360.34" y1="395.20" x2="360.34" y2="392.40" stroke="#000" stroke-width="1.2"/>
<line x1="363.64" y1="395.20" x2="363.64" y2="392.40" stroke="#000" stroke-width="1.2"/>
<line x1="366.94" y1="395.20" x2="366.94" y2="392.40" stroke="#000" stroke-width="1.2"/>
<line x1="370.23" y1="395.20" x2="370.23" y2="392.40" stroke="#000" stroke-width="1.2"/>
<line x1="373.53" y1="395.20" x2="373.53" y2="392.40" stroke="#000" stroke-width="1.2"/>
<line x1="376.83" y1="395.20" x2="376.83" y2="391.00" stroke="#000" stroke-width="1.2"/>
<line x1="380.13" y1="395.20" x2="380.13" y2="392.40" stroke="#000" stroke-width="1.2"/>
<line x1="383.42" y1="395.20" x2="383.42" y2="392.40" stroke="#000" stroke-width="1.2"/>
<line x1="386.72" y1="395.20" x2="386.72" y2="392.40" stroke="#000" stroke-width="1.2"/>
<line x1="390.02" y1="395.20" x2="390.02" y2="392.40" stroke="#000" stroke-width="1.2"/>
<line x1="393.31" y1="395.20" x2="393.31" y2="392.40" stroke="#000" stroke-width="1.2"/>
<line x1="396.61" y1="395.20" x2="396.61" y2="392.40" stroke="#000" stroke-width="1.2"/>
<line x1="399.91" y1="395.20" x2="399.91" y2="392.40" stroke="#000" stroke-width="1.2"/>
<line x1="403.21" y1="395.20" x2="403.21" y2="392.40" stroke="#000" stroke-width="1.2"/>
<line x1="406.50" y1="395.20" x2="406.50" y2="392.40" stroke="#000" stroke-width="1.2"/>
<line x1="409.80" y1="395.20" x2="409.80" y2="391.00" stroke="#000" stroke-width="1.2"/>
<text x="179.00" y="406.80" font-size="10.0" text-anchor="middle" >10</text>
<text x="211.97" y="406.80" font-size="10.0" text-anchor="middle" >20</text>
<text x="244.94" y="406.80" font-size="10.0" text-anchor="middle" >30</text>
<text x="277.91" y="406.80" font-size="10.0" text-anchor="middle" >40</text>
<text x="310.89" y="406.80" font-size="10.0" text-anchor="middle" >50</text>
<text x="343.86" y="406.80" font-size="10.0" text-anchor="middle" >60</text>
<text x="376.83" y="406.80" font-size="10.0" text-anchor="middle" >70</text>
<text x="409.80" y="406.80" font-size="10.0" text-anchor="middle" >80</text>
<line x1="179.00" y1="393.00" x2="183.20" y2="393.00" stroke="#000" stroke-width="1.2"/>
<text x="175.40" y="396.20" font-size="10.0" text-anchor="end" >0</text>
<line x1="179.00" y1="389.00" x2="181.40" y2="389.00" stroke="#000" stroke-width="1.2"/>
<line x1="179.00" y1="385.00" x2="181.40" y2="385.00" stroke="#000" stroke-width="1.2"/>
<line x1="179.00" y1="381.00" x2="181.40" y2="381.00" stroke="#000" stroke-width="1.2"/>
<line x1="179.00" y1="377.00" x2="181.40" y2="377.00" stroke="#000" stroke-width="1.2"/>
<line x1="179.00" y1="373.00" x2="183.20" y2="373.00" stroke="#000" stroke-width="1.2"/>
<text x="175.40" y="376.20" font-size="10.0" text-anchor="end" >1000</text>
<line x1="179.00" y1="369.00" x2="181.40" y2="369.00" stroke="#000" stroke-width="1.2"/>
<line x1="179.00" y1="365.00" x2="181.40" y2="365.00" stroke="#000" stroke-width="1.2"/>
<line x1="179.00" y1="361.00" x2="181.40" y2="361.00" stroke="#000" stroke-width="1.2"/>
<line x1="179.00" y1="357.00" x2="181.40" y2="357.00" stroke="#000" stroke-width="1.2"/>
<line x1="179.00" y1="353.00" x2="183.20" y2="353.00" stroke="#000" stroke-width="1.2"/>
<text x="175.40" y="356.20" font-size="10.0" text-anchor="end" >2000</text>
<line x1="179.00" y1="349.00" x2="181.40" y2="349.00" stroke="#000" stroke-width="1.2"/>
<line x1="179.00" y1="345.00" x2="181.40" y2="345.00" stroke="#000" stroke-width="1.2"/>
<line x1="179.00" y1="341.00" x2="181.40" y2="341.00" stroke="#000" stroke-width="1.2"/>
<line x1="179.00" y1="337.00" x2="181.40" y2="337.00" stroke="#000" stroke-width="1.2"/>
<line x1="179.00" y1="333.00" x2="183.20" y2="333.00" stroke="#000" stroke-width="1.2"/>
<text x="175.40" y="336.20" font-size="10.0" text-anchor="end" >3000</text>
<line x1="179.00" y1="329.00" x2="181.40" y2="329.00" stroke="#000" stroke-width="1.2"/>
<line x1="179.00" y1="325.00" x2="181.40" y2="325.00" stroke="#000" stroke-width="1.2"/>
<line x1="179.00" y1="321.00" x2="181.40" y2="321.00" stroke="#000" stroke-width="1.2"/>
<line x1="179.00" y1="317.00" x2="181.40" y2="317.00" stroke="#000" stroke-width="1.2"/>
<line x1="179.00" y1="313.00" x2="183.20" y2="313.00" stroke="#000" stroke-width="1.2"/>
<text x="175.40" y="316.20" font-size="10.0" text-anchor="end" >4000</text>
<line x1="179.00" y1="309.00" x2="181.40" y2="309.00" stroke="#000" stroke-width="1.2"/>
<line x1="179.00" y1="305.00" x2="181.40" y2="305.00" stroke="#000" stroke-width="1.2"/>
<line x1="179.00" y1="301.00" x2="181.40" y2="301.00" stroke="#000" stroke-width="1.2"/>
<line x1="179.00" y1="297.00" x2="181.40" y2="297.00" stroke="#000" stroke-width="1.2"/>
<line x1="179.00" y1="293.00" x2="183.20" y2="293.00" stroke="#000" stroke-width="1.2"/>
<text x="175.40" y="296.20" font-size="10.0" text-anchor="end" >5000</text>
<line x1="179.00" y1="289.00" x2="181.40" y2="289.00" stroke="#000" stroke-width="1.2"/>
<line x1="179.00" y1="285.00" x2="181.40" y2="285.00" stroke="#000" stroke-width="1.2"/>
<line x1="179.00" y1="281.00" x2="181.40" y2="281.00" stroke="#000" stroke-width="1.2"/>
<line x1="179.00" y1="277.00" x2="181.40" y2="277.00" stroke="#000" stroke-width="1.2"/>
<line x1="179.00" y1="273.00" x2="183.20" y2="273.00" stroke="#000" stroke-width="1.2"/>
<text x="175.40" y="276.20" font-size="10.0" text-anchor="end" >6000</text>
<line x1="179.00" y1="269.00" x2="181.40" y2="269.00" stroke="#000" stroke-width="1.2"/>
<line x1="179.00" y1="265.00" x2="181.40" y2="265.00" stroke="#000" stroke-width="1.2"/>
<line x1="179.00" y1="261.00" x2="181.40" y2="261.00" stroke="#000" stroke-width="1.2"/>
<line x1="179.00" y1="257.00" x2="181.40" y2="257.00" stroke="#000" stroke-width="1.2"/>
<line x1="179.00" y1="253.00" x2="183.20" y2="253.00" stroke="#000" stroke-width="1.2"/>
<text x="175.40" y="256.20" font-size="10.0" text-anchor="end" >7000</text>
<line x1="179.00" y1="249.00" x2="181.40" y2="249.00" stroke="#000" stroke-width="1.2"/>
<line x1="179.00" y1="245.00" x2="181.40" y2="245.00" stroke="#000" stroke-width="1.2"/>
<line x1="179.00" y1="241.00" x2="181.40" y2="241.00" stroke="#000" stroke-width="1.2"/>
<line x1="179.00" y1="237.00" x2="181.40" y2="237.00" stroke="#000" stroke-width="1.2"/>
<line x1="179.00" y1="233.00" x2="183.20" y2="233.00" stroke="#000" stroke-width="1.2"/>
<text x="175.40" y="236.20" font-size="10.0" text-anchor="end" >8000</text>
<line x1="179.00" y1="229.00" x2="181.40" y2="229.00" stroke="#000" stroke-width="1.2"/>
<line x1="179.00" y1="225.00" x2="181.40" y2="225.00" stroke="#000" stroke-width="1.2"/>
<text x="283.40" y="423.80" font-size="12.7" text-anchor="middle" >2 Theta</text>
<text transform="translate(143.70,314.40) rotate(-90)" font-size="12.7" text-anchor="middle">Counts (I/I<tspan font-size="7.9" dy="4.3">o</tspan><tspan dy="-4.3">)</tspan></text>
<text x="187.20" y="238.80" font-size="13.2" text-anchor="start" >(C)</text>
<text x="284.9" y="238.7" font-size="10.05"><tspan font-size="6.4" dy="-0.8">★</tspan><tspan dy="0.8" dx="2.6">= PDF 01-083-0950 WO</tspan><tspan font-size="5.6" dy="3.3">3</tspan></text>
<polygon points="220.00,252.09 220.63,253.78 222.43,253.85 221.02,254.97 221.50,256.71 220.00,255.71 218.50,256.71 218.98,254.97 217.57,253.85 219.37,253.78" fill="#000"/>
<polygon points="222.60,239.69 223.23,241.38 225.03,241.45 223.62,242.57 224.10,244.31 222.60,243.31 221.10,244.31 221.58,242.57 220.17,241.45 221.97,241.38" fill="#000"/>
<polygon points="227.00,231.69 227.63,233.38 229.43,233.45 228.02,234.57 228.50,236.31 227.00,235.31 225.50,236.31 225.98,234.57 224.57,233.45 226.37,233.38" fill="#000"/>
<polygon points="225.80,347.29 226.43,348.98 228.23,349.05 226.82,350.17 227.30,351.91 225.80,350.91 224.30,351.91 224.78,350.17 223.37,349.05 225.17,348.98" fill="#000"/>
<polygon points="234.80,355.29 235.43,356.98 237.23,357.05 235.82,358.17 236.30,359.91 234.80,358.91 233.30,359.91 233.78,358.17 232.37,357.05 234.17,356.98" fill="#000"/>
<polygon points="241.60,358.69 242.23,360.38 244.03,360.45 242.62,361.57 243.10,363.31 241.60,362.31 240.10,363.31 240.58,361.57 239.17,360.45 240.97,360.38" fill="#000"/>
<polygon points="254.40,314.69 255.03,316.38 256.83,316.45 255.42,317.57 255.90,319.31 254.40,318.31 252.90,319.31 253.38,317.57 251.97,316.45 253.77,316.38" fill="#000"/>
<polygon points="258.40,270.69 259.03,272.38 260.83,272.45 259.42,273.57 259.90,275.31 258.40,274.31 256.90,275.31 257.38,273.57 255.97,272.45 257.77,272.38" fill="#000"/>
<polygon points="264.40,372.69 265.03,374.38 266.83,374.45 265.42,375.57 265.90,377.31 264.40,376.31 262.90,377.31 263.38,375.57 261.97,374.45 263.77,374.38" fill="#000"/>
<polygon points="283.90,359.89 284.53,361.58 286.33,361.65 284.92,362.77 285.40,364.51 283.90,363.51 282.40,364.51 282.88,362.77 281.47,361.65 283.27,361.58" fill="#000"/>
<polygon points="294.60,374.69 295.23,376.38 297.03,376.45 295.62,377.57 296.10,379.31 294.60,378.31 293.10,379.31 293.58,377.57 292.17,376.45 293.97,376.38" fill="#000"/>
<polygon points="300.70,359.69 301.33,361.38 303.13,361.45 301.72,362.57 302.20,364.31 300.70,363.31 299.20,364.31 299.68,362.57 298.27,361.45 300.07,361.38" fill="#000"/>
<polygon points="305.40,359.29 306.03,360.98 307.83,361.05 306.42,362.17 306.90,363.91 305.40,362.91 303.90,363.91 304.38,362.17 302.97,361.05 304.77,360.98" fill="#000"/>
<polygon points="310.60,321.39 311.23,323.08 313.03,323.15 311.62,324.27 312.10,326.01 310.60,325.01 309.10,326.01 309.58,324.27 308.17,323.15 309.97,323.08" fill="#000"/>
<polygon points="314.40,349.79 315.03,351.48 316.83,351.55 315.42,352.67 315.90,354.41 314.40,353.41 312.90,354.41 313.38,352.67 311.97,351.55 313.77,351.48" fill="#000"/>
<polygon points="321.40,356.49 322.03,358.18 323.83,358.25 322.42,359.37 322.90,361.11 321.40,360.11 319.90,361.11 320.38,359.37 318.97,358.25 320.77,358.18" fill="#000"/>
<polygon points="324.10,355.09 324.73,356.78 326.53,356.85 325.12,357.97 325.60,359.71 324.10,358.71 322.60,359.71 323.08,357.97 321.67,356.85 323.47,356.78" fill="#000"/>
<polygon points="326.40,350.89 327.03,352.58 328.83,352.65 327.42,353.77 327.90,355.51 326.40,354.51 324.90,355.51 325.38,353.77 323.97,352.65 325.77,352.58" fill="#000"/>
<polygon points="330.80,324.99 331.43,326.68 333.23,326.75 331.82,327.87 332.30,329.61 330.80,328.61 329.30,329.61 329.78,327.87 328.37,326.75 330.17,326.68" fill="#000"/>
<polygon points="344.50,364.69 345.13,366.38 346.93,366.45 345.52,367.57 346.00,369.31 344.50,368.31 343.00,369.31 343.48,367.57 342.07,366.45 343.87,366.38" fill="#000"/>
<polygon points="351.80,350.89 352.43,352.58 354.23,352.65 352.82,353.77 353.30,355.51 351.80,354.51 350.30,355.51 350.78,353.77 349.37,352.65 351.17,352.58" fill="#000"/>
<polygon points="355.60,371.89 356.23,373.58 358.03,373.65 356.62,374.77 357.10,376.51 355.60,375.51 354.10,376.51 354.58,374.77 353.17,373.65 354.97,373.58" fill="#000"/>
<polygon points="368.00,370.89 368.63,372.58 370.43,372.65 369.02,373.77 369.50,375.51 368.00,374.51 366.50,375.51 366.98,373.77 365.57,372.65 367.37,372.58" fill="#000"/>
<polygon points="376.00,375.49 376.63,377.18 378.43,377.25 377.02,378.37 377.50,380.11 376.00,379.11 374.50,380.11 374.98,378.37 373.57,377.25 375.37,377.18" fill="#000"/>
<polygon points="383.40,364.99 384.03,366.68 385.83,366.75 384.42,367.87 384.90,369.61 383.40,368.61 381.90,369.61 382.38,367.87 380.97,366.75 382.77,366.68" fill="#000"/>
<polygon points="399.60,356.49 400.23,358.18 402.03,358.25 400.62,359.37 401.10,361.11 399.60,360.11 398.10,361.11 398.58,359.37 397.17,358.25 398.97,358.18" fill="#000"/>
<polygon points="406.00,375.49 406.63,377.18 408.43,377.25 407.02,378.37 407.50,380.11 406.00,379.11 404.50,380.11 404.98,378.37 403.57,377.25 405.37,377.18" fill="#000"/>
</svg>
</body></html>
